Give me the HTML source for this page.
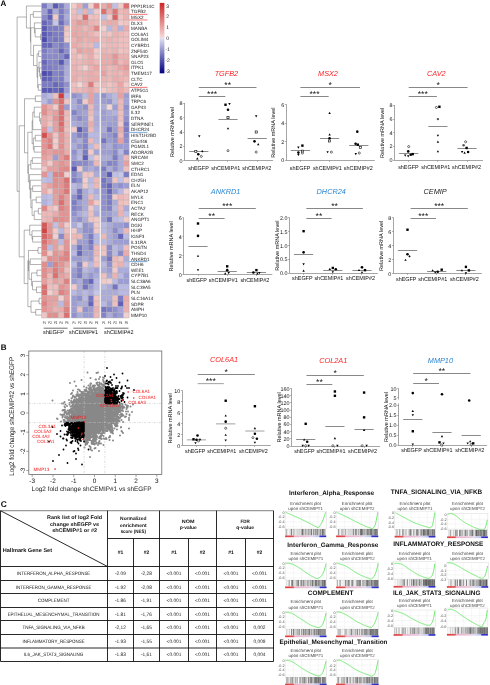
<!DOCTYPE html>
<html><head><meta charset="utf-8"><title>Figure</title>
<style>html,body{margin:0;padding:0;background:#fff;}svg{display:block;}</style></head>
<body><svg width="490" height="685" viewBox="0 0 490 685" text-rendering="geometricPrecision" font-family="'Liberation Sans', Arial, sans-serif">
<rect width="490" height="685" fill="#fff"/>
<g>
<rect x="41.6" y="3.2" width="5.6" height="5.62" fill="#7b7bc6"/>
<rect x="47.2" y="3.2" width="5.6" height="5.62" fill="#ababdc"/>
<rect x="52.8" y="3.2" width="5.6" height="5.62" fill="#5959b6"/>
<rect x="58.4" y="3.2" width="5.6" height="5.62" fill="#7b7bc6"/>
<rect x="64" y="3.2" width="5.6" height="5.62" fill="#ababdc"/>
<rect x="71.35" y="3.2" width="5.6" height="5.62" fill="#f2caca"/>
<rect x="76.95" y="3.2" width="5.6" height="5.62" fill="#ebabab"/>
<rect x="82.55" y="3.2" width="5.6" height="5.62" fill="#9d9dd6"/>
<rect x="88.15" y="3.2" width="5.6" height="5.62" fill="#f3d0d0"/>
<rect x="93.75" y="3.2" width="5.6" height="5.62" fill="#e28181"/>
<rect x="101.1" y="3.2" width="5.6" height="5.62" fill="#ebabab"/>
<rect x="106.7" y="3.2" width="5.6" height="5.62" fill="#e69393"/>
<rect x="112.3" y="3.2" width="5.6" height="5.62" fill="#c0c0e6"/>
<rect x="117.9" y="3.2" width="5.6" height="5.62" fill="#f2caca"/>
<rect x="123.5" y="3.2" width="5.6" height="5.62" fill="#dd6f6f"/>
<rect x="41.6" y="8.82" width="5.6" height="5.62" fill="#9d9dd6"/>
<rect x="47.2" y="8.82" width="5.6" height="5.62" fill="#6666bc"/>
<rect x="52.8" y="8.82" width="5.6" height="5.62" fill="#ababdc"/>
<rect x="58.4" y="8.82" width="5.6" height="5.62" fill="#7b7bc6"/>
<rect x="64" y="8.82" width="5.6" height="5.62" fill="#9d9dd6"/>
<rect x="71.35" y="8.82" width="5.6" height="5.62" fill="#efbebe"/>
<rect x="76.95" y="8.82" width="5.6" height="5.62" fill="#c0c0e6"/>
<rect x="82.55" y="8.82" width="5.6" height="5.62" fill="#ecb2b2"/>
<rect x="88.15" y="8.82" width="5.6" height="5.62" fill="#b9b9e3"/>
<rect x="93.75" y="8.82" width="5.6" height="5.62" fill="#f2caca"/>
<rect x="101.1" y="8.82" width="5.6" height="5.62" fill="#dd6f6f"/>
<rect x="106.7" y="8.82" width="5.6" height="5.62" fill="#ebabab"/>
<rect x="112.3" y="8.82" width="5.6" height="5.62" fill="#df7575"/>
<rect x="117.9" y="8.82" width="5.6" height="5.62" fill="#eeb8b8"/>
<rect x="123.5" y="8.82" width="5.6" height="5.62" fill="#ecb2b2"/>
<rect x="41.6" y="14.44" width="5.6" height="5.62" fill="#8989cc"/>
<rect x="47.2" y="14.44" width="5.6" height="5.62" fill="#6060b9"/>
<rect x="52.8" y="14.44" width="5.6" height="5.62" fill="#f2caca"/>
<rect x="58.4" y="14.44" width="5.6" height="5.62" fill="#7b7bc6"/>
<rect x="64" y="14.44" width="5.6" height="5.62" fill="#ababdc"/>
<rect x="71.35" y="14.44" width="5.6" height="5.62" fill="#eeb8b8"/>
<rect x="76.95" y="14.44" width="5.6" height="5.62" fill="#efbebe"/>
<rect x="82.55" y="14.44" width="5.6" height="5.62" fill="#dd6f6f"/>
<rect x="88.15" y="14.44" width="5.6" height="5.62" fill="#efbebe"/>
<rect x="93.75" y="14.44" width="5.6" height="5.62" fill="#efbebe"/>
<rect x="101.1" y="14.44" width="5.6" height="5.62" fill="#c0c0e6"/>
<rect x="106.7" y="14.44" width="5.6" height="5.62" fill="#f2caca"/>
<rect x="112.3" y="14.44" width="5.6" height="5.62" fill="#db6363"/>
<rect x="117.9" y="14.44" width="5.6" height="5.62" fill="#f1c4c4"/>
<rect x="123.5" y="14.44" width="5.6" height="5.62" fill="#ecb2b2"/>
<rect x="41.6" y="20.06" width="5.6" height="5.62" fill="#6666bc"/>
<rect x="47.2" y="20.06" width="5.6" height="5.62" fill="#7b7bc6"/>
<rect x="52.8" y="20.06" width="5.6" height="5.62" fill="#c7c7e9"/>
<rect x="58.4" y="20.06" width="5.6" height="5.62" fill="#6d6dc0"/>
<rect x="64" y="20.06" width="5.6" height="5.62" fill="#9d9dd6"/>
<rect x="71.35" y="20.06" width="5.6" height="5.62" fill="#ebabab"/>
<rect x="76.95" y="20.06" width="5.6" height="5.62" fill="#e79999"/>
<rect x="82.55" y="20.06" width="5.6" height="5.62" fill="#e89f9f"/>
<rect x="88.15" y="20.06" width="5.6" height="5.62" fill="#ecb2b2"/>
<rect x="93.75" y="20.06" width="5.6" height="5.62" fill="#eeb8b8"/>
<rect x="101.1" y="20.06" width="5.6" height="5.62" fill="#ecb2b2"/>
<rect x="106.7" y="20.06" width="5.6" height="5.62" fill="#ebabab"/>
<rect x="112.3" y="20.06" width="5.6" height="5.62" fill="#ebabab"/>
<rect x="117.9" y="20.06" width="5.6" height="5.62" fill="#f2caca"/>
<rect x="123.5" y="20.06" width="5.6" height="5.62" fill="#f1c4c4"/>
<rect x="41.6" y="25.68" width="5.6" height="5.62" fill="#5959b6"/>
<rect x="47.2" y="25.68" width="5.6" height="5.62" fill="#7b7bc6"/>
<rect x="52.8" y="25.68" width="5.6" height="5.62" fill="#7b7bc6"/>
<rect x="58.4" y="25.68" width="5.6" height="5.62" fill="#8282c9"/>
<rect x="64" y="25.68" width="5.6" height="5.62" fill="#efbebe"/>
<rect x="71.35" y="25.68" width="5.6" height="5.62" fill="#ebabab"/>
<rect x="76.95" y="25.68" width="5.6" height="5.62" fill="#ebabab"/>
<rect x="82.55" y="25.68" width="5.6" height="5.62" fill="#eeb8b8"/>
<rect x="88.15" y="25.68" width="5.6" height="5.62" fill="#ebabab"/>
<rect x="93.75" y="25.68" width="5.6" height="5.62" fill="#e38787"/>
<rect x="101.1" y="25.68" width="5.6" height="5.62" fill="#f3d0d0"/>
<rect x="106.7" y="25.68" width="5.6" height="5.62" fill="#b9b9e3"/>
<rect x="112.3" y="25.68" width="5.6" height="5.62" fill="#ecb2b2"/>
<rect x="117.9" y="25.68" width="5.6" height="5.62" fill="#b2b2e0"/>
<rect x="123.5" y="25.68" width="5.6" height="5.62" fill="#ebabab"/>
<rect x="41.6" y="31.3" width="5.6" height="5.62" fill="#5959b6"/>
<rect x="47.2" y="31.3" width="5.6" height="5.62" fill="#6d6dc0"/>
<rect x="52.8" y="31.3" width="5.6" height="5.62" fill="#7b7bc6"/>
<rect x="58.4" y="31.3" width="5.6" height="5.62" fill="#7b7bc6"/>
<rect x="64" y="31.3" width="5.6" height="5.62" fill="#f2caca"/>
<rect x="71.35" y="31.3" width="5.6" height="5.62" fill="#eaa5a5"/>
<rect x="76.95" y="31.3" width="5.6" height="5.62" fill="#ebabab"/>
<rect x="82.55" y="31.3" width="5.6" height="5.62" fill="#ebabab"/>
<rect x="88.15" y="31.3" width="5.6" height="5.62" fill="#ecb2b2"/>
<rect x="93.75" y="31.3" width="5.6" height="5.62" fill="#efbebe"/>
<rect x="101.1" y="31.3" width="5.6" height="5.62" fill="#efbebe"/>
<rect x="106.7" y="31.3" width="5.6" height="5.62" fill="#f1c4c4"/>
<rect x="112.3" y="31.3" width="5.6" height="5.62" fill="#ecb2b2"/>
<rect x="117.9" y="31.3" width="5.6" height="5.62" fill="#eeb8b8"/>
<rect x="123.5" y="31.3" width="5.6" height="5.62" fill="#efbebe"/>
<rect x="41.6" y="36.92" width="5.6" height="5.62" fill="#4b4bb0"/>
<rect x="47.2" y="36.92" width="5.6" height="5.62" fill="#7b7bc6"/>
<rect x="52.8" y="36.92" width="5.6" height="5.62" fill="#7474c3"/>
<rect x="58.4" y="36.92" width="5.6" height="5.62" fill="#7b7bc6"/>
<rect x="64" y="36.92" width="5.6" height="5.62" fill="#f3d0d0"/>
<rect x="71.35" y="36.92" width="5.6" height="5.62" fill="#ecb2b2"/>
<rect x="76.95" y="36.92" width="5.6" height="5.62" fill="#eaa5a5"/>
<rect x="82.55" y="36.92" width="5.6" height="5.62" fill="#ecb2b2"/>
<rect x="88.15" y="36.92" width="5.6" height="5.62" fill="#ebabab"/>
<rect x="93.75" y="36.92" width="5.6" height="5.62" fill="#ebabab"/>
<rect x="101.1" y="36.92" width="5.6" height="5.62" fill="#eeb8b8"/>
<rect x="106.7" y="36.92" width="5.6" height="5.62" fill="#ecb2b2"/>
<rect x="112.3" y="36.92" width="5.6" height="5.62" fill="#eeb8b8"/>
<rect x="117.9" y="36.92" width="5.6" height="5.62" fill="#efbebe"/>
<rect x="123.5" y="36.92" width="5.6" height="5.62" fill="#efbebe"/>
<rect x="41.6" y="42.54" width="5.6" height="5.62" fill="#6666bc"/>
<rect x="47.2" y="42.54" width="5.6" height="5.62" fill="#6666bc"/>
<rect x="52.8" y="42.54" width="5.6" height="5.62" fill="#8989cc"/>
<rect x="58.4" y="42.54" width="5.6" height="5.62" fill="#7b7bc6"/>
<rect x="64" y="42.54" width="5.6" height="5.62" fill="#9090d0"/>
<rect x="71.35" y="42.54" width="5.6" height="5.62" fill="#ebabab"/>
<rect x="76.95" y="42.54" width="5.6" height="5.62" fill="#ecb2b2"/>
<rect x="82.55" y="42.54" width="5.6" height="5.62" fill="#eeb8b8"/>
<rect x="88.15" y="42.54" width="5.6" height="5.62" fill="#eeb8b8"/>
<rect x="93.75" y="42.54" width="5.6" height="5.62" fill="#b9b9e3"/>
<rect x="101.1" y="42.54" width="5.6" height="5.62" fill="#efbebe"/>
<rect x="106.7" y="42.54" width="5.6" height="5.62" fill="#eeb8b8"/>
<rect x="112.3" y="42.54" width="5.6" height="5.62" fill="#eeb8b8"/>
<rect x="117.9" y="42.54" width="5.6" height="5.62" fill="#efbebe"/>
<rect x="123.5" y="42.54" width="5.6" height="5.62" fill="#efbebe"/>
<rect x="41.6" y="48.16" width="5.6" height="5.62" fill="#7b7bc6"/>
<rect x="47.2" y="48.16" width="5.6" height="5.62" fill="#9090d0"/>
<rect x="52.8" y="48.16" width="5.6" height="5.62" fill="#8989cc"/>
<rect x="58.4" y="48.16" width="5.6" height="5.62" fill="#6666bc"/>
<rect x="64" y="48.16" width="5.6" height="5.62" fill="#9090d0"/>
<rect x="71.35" y="48.16" width="5.6" height="5.62" fill="#efbebe"/>
<rect x="76.95" y="48.16" width="5.6" height="5.62" fill="#e89f9f"/>
<rect x="82.55" y="48.16" width="5.6" height="5.62" fill="#ebabab"/>
<rect x="88.15" y="48.16" width="5.6" height="5.62" fill="#eaa5a5"/>
<rect x="93.75" y="48.16" width="5.6" height="5.62" fill="#f2caca"/>
<rect x="101.1" y="48.16" width="5.6" height="5.62" fill="#ecb2b2"/>
<rect x="106.7" y="48.16" width="5.6" height="5.62" fill="#eeb8b8"/>
<rect x="112.3" y="48.16" width="5.6" height="5.62" fill="#ecb2b2"/>
<rect x="117.9" y="48.16" width="5.6" height="5.62" fill="#f1c4c4"/>
<rect x="123.5" y="48.16" width="5.6" height="5.62" fill="#efbebe"/>
<rect x="41.6" y="53.78" width="5.6" height="5.62" fill="#8282c9"/>
<rect x="47.2" y="53.78" width="5.6" height="5.62" fill="#8989cc"/>
<rect x="52.8" y="53.78" width="5.6" height="5.62" fill="#8989cc"/>
<rect x="58.4" y="53.78" width="5.6" height="5.62" fill="#8989cc"/>
<rect x="64" y="53.78" width="5.6" height="5.62" fill="#6666bc"/>
<rect x="71.35" y="53.78" width="5.6" height="5.62" fill="#eeb8b8"/>
<rect x="76.95" y="53.78" width="5.6" height="5.62" fill="#f1c4c4"/>
<rect x="82.55" y="53.78" width="5.6" height="5.62" fill="#eeb8b8"/>
<rect x="88.15" y="53.78" width="5.6" height="5.62" fill="#ebabab"/>
<rect x="93.75" y="53.78" width="5.6" height="5.62" fill="#f2caca"/>
<rect x="101.1" y="53.78" width="5.6" height="5.62" fill="#ebabab"/>
<rect x="106.7" y="53.78" width="5.6" height="5.62" fill="#ebabab"/>
<rect x="112.3" y="53.78" width="5.6" height="5.62" fill="#e69393"/>
<rect x="117.9" y="53.78" width="5.6" height="5.62" fill="#ecb2b2"/>
<rect x="123.5" y="53.78" width="5.6" height="5.62" fill="#ecb2b2"/>
<rect x="41.6" y="59.4" width="5.6" height="5.62" fill="#6666bc"/>
<rect x="47.2" y="59.4" width="5.6" height="5.62" fill="#8282c9"/>
<rect x="52.8" y="59.4" width="5.6" height="5.62" fill="#8282c9"/>
<rect x="58.4" y="59.4" width="5.6" height="5.62" fill="#5959b6"/>
<rect x="64" y="59.4" width="5.6" height="5.62" fill="#9d9dd6"/>
<rect x="71.35" y="59.4" width="5.6" height="5.62" fill="#eeb8b8"/>
<rect x="76.95" y="59.4" width="5.6" height="5.62" fill="#eeb8b8"/>
<rect x="82.55" y="59.4" width="5.6" height="5.62" fill="#ecb2b2"/>
<rect x="88.15" y="59.4" width="5.6" height="5.62" fill="#ebabab"/>
<rect x="93.75" y="59.4" width="5.6" height="5.62" fill="#eeb8b8"/>
<rect x="101.1" y="59.4" width="5.6" height="5.62" fill="#ebabab"/>
<rect x="106.7" y="59.4" width="5.6" height="5.62" fill="#ebabab"/>
<rect x="112.3" y="59.4" width="5.6" height="5.62" fill="#e79999"/>
<rect x="117.9" y="59.4" width="5.6" height="5.62" fill="#eeb8b8"/>
<rect x="123.5" y="59.4" width="5.6" height="5.62" fill="#ebabab"/>
<rect x="41.6" y="65.02" width="5.6" height="5.62" fill="#7474c3"/>
<rect x="47.2" y="65.02" width="5.6" height="5.62" fill="#7b7bc6"/>
<rect x="52.8" y="65.02" width="5.6" height="5.62" fill="#8282c9"/>
<rect x="58.4" y="65.02" width="5.6" height="5.62" fill="#8989cc"/>
<rect x="64" y="65.02" width="5.6" height="5.62" fill="#ababdc"/>
<rect x="71.35" y="65.02" width="5.6" height="5.62" fill="#ecb2b2"/>
<rect x="76.95" y="65.02" width="5.6" height="5.62" fill="#efbebe"/>
<rect x="82.55" y="65.02" width="5.6" height="5.62" fill="#f3d0d0"/>
<rect x="88.15" y="65.02" width="5.6" height="5.62" fill="#ecb2b2"/>
<rect x="93.75" y="65.02" width="5.6" height="5.62" fill="#eaa5a5"/>
<rect x="101.1" y="65.02" width="5.6" height="5.62" fill="#ebabab"/>
<rect x="106.7" y="65.02" width="5.6" height="5.62" fill="#eeb8b8"/>
<rect x="112.3" y="65.02" width="5.6" height="5.62" fill="#ecb2b2"/>
<rect x="117.9" y="65.02" width="5.6" height="5.62" fill="#eaa5a5"/>
<rect x="123.5" y="65.02" width="5.6" height="5.62" fill="#e79999"/>
<rect x="41.6" y="70.64" width="5.6" height="5.62" fill="#4b4bb0"/>
<rect x="47.2" y="70.64" width="5.6" height="5.62" fill="#5959b6"/>
<rect x="52.8" y="70.64" width="5.6" height="5.62" fill="#8282c9"/>
<rect x="58.4" y="70.64" width="5.6" height="5.62" fill="#7b7bc6"/>
<rect x="64" y="70.64" width="5.6" height="5.62" fill="#ababdc"/>
<rect x="71.35" y="70.64" width="5.6" height="5.62" fill="#ecb2b2"/>
<rect x="76.95" y="70.64" width="5.6" height="5.62" fill="#ecb2b2"/>
<rect x="82.55" y="70.64" width="5.6" height="5.62" fill="#ecb2b2"/>
<rect x="88.15" y="70.64" width="5.6" height="5.62" fill="#ebabab"/>
<rect x="93.75" y="70.64" width="5.6" height="5.62" fill="#ecb2b2"/>
<rect x="101.1" y="70.64" width="5.6" height="5.62" fill="#e89f9f"/>
<rect x="106.7" y="70.64" width="5.6" height="5.62" fill="#eeb8b8"/>
<rect x="112.3" y="70.64" width="5.6" height="5.62" fill="#ecb2b2"/>
<rect x="117.9" y="70.64" width="5.6" height="5.62" fill="#eeb8b8"/>
<rect x="123.5" y="70.64" width="5.6" height="5.62" fill="#ebabab"/>
<rect x="41.6" y="76.26" width="5.6" height="5.62" fill="#6060b9"/>
<rect x="47.2" y="76.26" width="5.6" height="5.62" fill="#6666bc"/>
<rect x="52.8" y="76.26" width="5.6" height="5.62" fill="#8282c9"/>
<rect x="58.4" y="76.26" width="5.6" height="5.62" fill="#7b7bc6"/>
<rect x="64" y="76.26" width="5.6" height="5.62" fill="#b2b2e0"/>
<rect x="71.35" y="76.26" width="5.6" height="5.62" fill="#ebabab"/>
<rect x="76.95" y="76.26" width="5.6" height="5.62" fill="#eeb8b8"/>
<rect x="82.55" y="76.26" width="5.6" height="5.62" fill="#ecb2b2"/>
<rect x="88.15" y="76.26" width="5.6" height="5.62" fill="#ebabab"/>
<rect x="93.75" y="76.26" width="5.6" height="5.62" fill="#ebabab"/>
<rect x="101.1" y="76.26" width="5.6" height="5.62" fill="#ecb2b2"/>
<rect x="106.7" y="76.26" width="5.6" height="5.62" fill="#eeb8b8"/>
<rect x="112.3" y="76.26" width="5.6" height="5.62" fill="#ebabab"/>
<rect x="117.9" y="76.26" width="5.6" height="5.62" fill="#ecb2b2"/>
<rect x="123.5" y="76.26" width="5.6" height="5.62" fill="#eeb8b8"/>
<rect x="41.6" y="81.88" width="5.6" height="5.62" fill="#7b7bc6"/>
<rect x="47.2" y="81.88" width="5.6" height="5.62" fill="#7b7bc6"/>
<rect x="52.8" y="81.88" width="5.6" height="5.62" fill="#6666bc"/>
<rect x="58.4" y="81.88" width="5.6" height="5.62" fill="#7474c3"/>
<rect x="64" y="81.88" width="5.6" height="5.62" fill="#9090d0"/>
<rect x="71.35" y="81.88" width="5.6" height="5.62" fill="#efbebe"/>
<rect x="76.95" y="81.88" width="5.6" height="5.62" fill="#f5d6d6"/>
<rect x="82.55" y="81.88" width="5.6" height="5.62" fill="#eeb8b8"/>
<rect x="88.15" y="81.88" width="5.6" height="5.62" fill="#e07b7b"/>
<rect x="93.75" y="81.88" width="5.6" height="5.62" fill="#f1c4c4"/>
<rect x="101.1" y="81.88" width="5.6" height="5.62" fill="#eeb8b8"/>
<rect x="106.7" y="81.88" width="5.6" height="5.62" fill="#f1c4c4"/>
<rect x="112.3" y="81.88" width="5.6" height="5.62" fill="#eeb8b8"/>
<rect x="117.9" y="81.88" width="5.6" height="5.62" fill="#eaa5a5"/>
<rect x="123.5" y="81.88" width="5.6" height="5.62" fill="#f2caca"/>
<rect x="41.6" y="87.5" width="5.6" height="5.62" fill="#5959b6"/>
<rect x="47.2" y="87.5" width="5.6" height="5.62" fill="#5959b6"/>
<rect x="52.8" y="87.5" width="5.6" height="5.62" fill="#6666bc"/>
<rect x="58.4" y="87.5" width="5.6" height="5.62" fill="#5959b6"/>
<rect x="64" y="87.5" width="5.6" height="5.62" fill="#9d9dd6"/>
<rect x="71.35" y="87.5" width="5.6" height="5.62" fill="#eeb8b8"/>
<rect x="76.95" y="87.5" width="5.6" height="5.62" fill="#eeb8b8"/>
<rect x="82.55" y="87.5" width="5.6" height="5.62" fill="#ecb2b2"/>
<rect x="88.15" y="87.5" width="5.6" height="5.62" fill="#eaa5a5"/>
<rect x="93.75" y="87.5" width="5.6" height="5.62" fill="#eeb8b8"/>
<rect x="101.1" y="87.5" width="5.6" height="5.62" fill="#f2caca"/>
<rect x="106.7" y="87.5" width="5.6" height="5.62" fill="#efbebe"/>
<rect x="112.3" y="87.5" width="5.6" height="5.62" fill="#eeb8b8"/>
<rect x="117.9" y="87.5" width="5.6" height="5.62" fill="#ebabab"/>
<rect x="123.5" y="87.5" width="5.6" height="5.62" fill="#eeb8b8"/>
<rect x="41.6" y="93.12" width="5.6" height="5.62" fill="#ababdc"/>
<rect x="47.2" y="93.12" width="5.6" height="5.62" fill="#b9b9e3"/>
<rect x="52.8" y="93.12" width="5.6" height="5.62" fill="#efbebe"/>
<rect x="58.4" y="93.12" width="5.6" height="5.62" fill="#d23e3e"/>
<rect x="64" y="93.12" width="5.6" height="5.62" fill="#b9b9e3"/>
<rect x="71.35" y="93.12" width="5.6" height="5.62" fill="#9090d0"/>
<rect x="76.95" y="93.12" width="5.6" height="5.62" fill="#9d9dd6"/>
<rect x="82.55" y="93.12" width="5.6" height="5.62" fill="#b9b9e3"/>
<rect x="88.15" y="93.12" width="5.6" height="5.62" fill="#e89f9f"/>
<rect x="93.75" y="93.12" width="5.6" height="5.62" fill="#ababdc"/>
<rect x="101.1" y="93.12" width="5.6" height="5.62" fill="#9090d0"/>
<rect x="106.7" y="93.12" width="5.6" height="5.62" fill="#ababdc"/>
<rect x="112.3" y="93.12" width="5.6" height="5.62" fill="#b9b9e3"/>
<rect x="117.9" y="93.12" width="5.6" height="5.62" fill="#e89f9f"/>
<rect x="123.5" y="93.12" width="5.6" height="5.62" fill="#9d9dd6"/>
<rect x="41.6" y="98.74" width="5.6" height="5.62" fill="#b9b9e3"/>
<rect x="47.2" y="98.74" width="5.6" height="5.62" fill="#9d9dd6"/>
<rect x="52.8" y="98.74" width="5.6" height="5.62" fill="#e69393"/>
<rect x="58.4" y="98.74" width="5.6" height="5.62" fill="#dd6f6f"/>
<rect x="64" y="98.74" width="5.6" height="5.62" fill="#f1c4c4"/>
<rect x="71.35" y="98.74" width="5.6" height="5.62" fill="#ababdc"/>
<rect x="76.95" y="98.74" width="5.6" height="5.62" fill="#8989cc"/>
<rect x="82.55" y="98.74" width="5.6" height="5.62" fill="#f2caca"/>
<rect x="88.15" y="98.74" width="5.6" height="5.62" fill="#e89f9f"/>
<rect x="93.75" y="98.74" width="5.6" height="5.62" fill="#ababdc"/>
<rect x="101.1" y="98.74" width="5.6" height="5.62" fill="#9d9dd6"/>
<rect x="106.7" y="98.74" width="5.6" height="5.62" fill="#9696d3"/>
<rect x="112.3" y="98.74" width="5.6" height="5.62" fill="#b9b9e3"/>
<rect x="117.9" y="98.74" width="5.6" height="5.62" fill="#eeb8b8"/>
<rect x="123.5" y="98.74" width="5.6" height="5.62" fill="#a4a4d9"/>
<rect x="41.6" y="104.36" width="5.6" height="5.62" fill="#e69393"/>
<rect x="47.2" y="104.36" width="5.6" height="5.62" fill="#ebabab"/>
<rect x="52.8" y="104.36" width="5.6" height="5.62" fill="#f2caca"/>
<rect x="58.4" y="104.36" width="5.6" height="5.62" fill="#df7575"/>
<rect x="64" y="104.36" width="5.6" height="5.62" fill="#9d9dd6"/>
<rect x="71.35" y="104.36" width="5.6" height="5.62" fill="#ababdc"/>
<rect x="76.95" y="104.36" width="5.6" height="5.62" fill="#9d9dd6"/>
<rect x="82.55" y="104.36" width="5.6" height="5.62" fill="#9090d0"/>
<rect x="88.15" y="104.36" width="5.6" height="5.62" fill="#eeb8b8"/>
<rect x="93.75" y="104.36" width="5.6" height="5.62" fill="#ababdc"/>
<rect x="101.1" y="104.36" width="5.6" height="5.62" fill="#ababdc"/>
<rect x="106.7" y="104.36" width="5.6" height="5.62" fill="#f5d6d6"/>
<rect x="112.3" y="104.36" width="5.6" height="5.62" fill="#9d9dd6"/>
<rect x="117.9" y="104.36" width="5.6" height="5.62" fill="#eeb8b8"/>
<rect x="123.5" y="104.36" width="5.6" height="5.62" fill="#9090d0"/>
<rect x="41.6" y="109.98" width="5.6" height="5.62" fill="#e48d8d"/>
<rect x="47.2" y="109.98" width="5.6" height="5.62" fill="#ebabab"/>
<rect x="52.8" y="109.98" width="5.6" height="5.62" fill="#e89f9f"/>
<rect x="58.4" y="109.98" width="5.6" height="5.62" fill="#dd6f6f"/>
<rect x="64" y="109.98" width="5.6" height="5.62" fill="#eeb8b8"/>
<rect x="71.35" y="109.98" width="5.6" height="5.62" fill="#8282c9"/>
<rect x="76.95" y="109.98" width="5.6" height="5.62" fill="#9d9dd6"/>
<rect x="82.55" y="109.98" width="5.6" height="5.62" fill="#a4a4d9"/>
<rect x="88.15" y="109.98" width="5.6" height="5.62" fill="#eeb8b8"/>
<rect x="93.75" y="109.98" width="5.6" height="5.62" fill="#b2b2e0"/>
<rect x="101.1" y="109.98" width="5.6" height="5.62" fill="#9d9dd6"/>
<rect x="106.7" y="109.98" width="5.6" height="5.62" fill="#ababdc"/>
<rect x="112.3" y="109.98" width="5.6" height="5.62" fill="#b2b2e0"/>
<rect x="117.9" y="109.98" width="5.6" height="5.62" fill="#efbebe"/>
<rect x="123.5" y="109.98" width="5.6" height="5.62" fill="#9d9dd6"/>
<rect x="41.6" y="115.6" width="5.6" height="5.62" fill="#ebabab"/>
<rect x="47.2" y="115.6" width="5.6" height="5.62" fill="#eeb8b8"/>
<rect x="52.8" y="115.6" width="5.6" height="5.62" fill="#e69393"/>
<rect x="58.4" y="115.6" width="5.6" height="5.62" fill="#dd6f6f"/>
<rect x="64" y="115.6" width="5.6" height="5.62" fill="#efbebe"/>
<rect x="71.35" y="115.6" width="5.6" height="5.62" fill="#9d9dd6"/>
<rect x="76.95" y="115.6" width="5.6" height="5.62" fill="#8989cc"/>
<rect x="82.55" y="115.6" width="5.6" height="5.62" fill="#9d9dd6"/>
<rect x="88.15" y="115.6" width="5.6" height="5.62" fill="#f1c4c4"/>
<rect x="93.75" y="115.6" width="5.6" height="5.62" fill="#ababdc"/>
<rect x="101.1" y="115.6" width="5.6" height="5.62" fill="#9d9dd6"/>
<rect x="106.7" y="115.6" width="5.6" height="5.62" fill="#a4a4d9"/>
<rect x="112.3" y="115.6" width="5.6" height="5.62" fill="#9d9dd6"/>
<rect x="117.9" y="115.6" width="5.6" height="5.62" fill="#efbebe"/>
<rect x="123.5" y="115.6" width="5.6" height="5.62" fill="#9090d0"/>
<rect x="41.6" y="121.22" width="5.6" height="5.62" fill="#ebabab"/>
<rect x="47.2" y="121.22" width="5.6" height="5.62" fill="#f1c4c4"/>
<rect x="52.8" y="121.22" width="5.6" height="5.62" fill="#e89f9f"/>
<rect x="58.4" y="121.22" width="5.6" height="5.62" fill="#dc6969"/>
<rect x="64" y="121.22" width="5.6" height="5.62" fill="#eeb8b8"/>
<rect x="71.35" y="121.22" width="5.6" height="5.62" fill="#ababdc"/>
<rect x="76.95" y="121.22" width="5.6" height="5.62" fill="#a4a4d9"/>
<rect x="82.55" y="121.22" width="5.6" height="5.62" fill="#9d9dd6"/>
<rect x="88.15" y="121.22" width="5.6" height="5.62" fill="#ebabab"/>
<rect x="93.75" y="121.22" width="5.6" height="5.62" fill="#ababdc"/>
<rect x="101.1" y="121.22" width="5.6" height="5.62" fill="#a4a4d9"/>
<rect x="106.7" y="121.22" width="5.6" height="5.62" fill="#9d9dd6"/>
<rect x="112.3" y="121.22" width="5.6" height="5.62" fill="#9d9dd6"/>
<rect x="117.9" y="121.22" width="5.6" height="5.62" fill="#f2caca"/>
<rect x="123.5" y="121.22" width="5.6" height="5.62" fill="#7b7bc6"/>
<rect x="41.6" y="126.84" width="5.6" height="5.62" fill="#e69393"/>
<rect x="47.2" y="126.84" width="5.6" height="5.62" fill="#c0c0e6"/>
<rect x="52.8" y="126.84" width="5.6" height="5.62" fill="#e89f9f"/>
<rect x="58.4" y="126.84" width="5.6" height="5.62" fill="#e07b7b"/>
<rect x="64" y="126.84" width="5.6" height="5.62" fill="#efbebe"/>
<rect x="71.35" y="126.84" width="5.6" height="5.62" fill="#f2caca"/>
<rect x="76.95" y="126.84" width="5.6" height="5.62" fill="#5959b6"/>
<rect x="82.55" y="126.84" width="5.6" height="5.62" fill="#8989cc"/>
<rect x="88.15" y="126.84" width="5.6" height="5.62" fill="#eeb8b8"/>
<rect x="93.75" y="126.84" width="5.6" height="5.62" fill="#b2b2e0"/>
<rect x="101.1" y="126.84" width="5.6" height="5.62" fill="#ababdc"/>
<rect x="106.7" y="126.84" width="5.6" height="5.62" fill="#7474c3"/>
<rect x="112.3" y="126.84" width="5.6" height="5.62" fill="#9d9dd6"/>
<rect x="117.9" y="126.84" width="5.6" height="5.62" fill="#ebabab"/>
<rect x="123.5" y="126.84" width="5.6" height="5.62" fill="#7b7bc6"/>
<rect x="41.6" y="132.46" width="5.6" height="5.62" fill="#d75050"/>
<rect x="47.2" y="132.46" width="5.6" height="5.62" fill="#e69393"/>
<rect x="52.8" y="132.46" width="5.6" height="5.62" fill="#f1c4c4"/>
<rect x="58.4" y="132.46" width="5.6" height="5.62" fill="#e69393"/>
<rect x="64" y="132.46" width="5.6" height="5.62" fill="#ecb2b2"/>
<rect x="71.35" y="132.46" width="5.6" height="5.62" fill="#9d9dd6"/>
<rect x="76.95" y="132.46" width="5.6" height="5.62" fill="#8282c9"/>
<rect x="82.55" y="132.46" width="5.6" height="5.62" fill="#8282c9"/>
<rect x="88.15" y="132.46" width="5.6" height="5.62" fill="#b9b9e3"/>
<rect x="93.75" y="132.46" width="5.6" height="5.62" fill="#b9b9e3"/>
<rect x="101.1" y="132.46" width="5.6" height="5.62" fill="#9d9dd6"/>
<rect x="106.7" y="132.46" width="5.6" height="5.62" fill="#9696d3"/>
<rect x="112.3" y="132.46" width="5.6" height="5.62" fill="#8282c9"/>
<rect x="117.9" y="132.46" width="5.6" height="5.62" fill="#eeb8b8"/>
<rect x="123.5" y="132.46" width="5.6" height="5.62" fill="#8989cc"/>
<rect x="41.6" y="138.08" width="5.6" height="5.62" fill="#e69393"/>
<rect x="47.2" y="138.08" width="5.6" height="5.62" fill="#e28181"/>
<rect x="52.8" y="138.08" width="5.6" height="5.62" fill="#f3d0d0"/>
<rect x="58.4" y="138.08" width="5.6" height="5.62" fill="#e69393"/>
<rect x="64" y="138.08" width="5.6" height="5.62" fill="#ecb2b2"/>
<rect x="71.35" y="138.08" width="5.6" height="5.62" fill="#9d9dd6"/>
<rect x="76.95" y="138.08" width="5.6" height="5.62" fill="#ababdc"/>
<rect x="82.55" y="138.08" width="5.6" height="5.62" fill="#8989cc"/>
<rect x="88.15" y="138.08" width="5.6" height="5.62" fill="#eeb8b8"/>
<rect x="93.75" y="138.08" width="5.6" height="5.62" fill="#b9b9e3"/>
<rect x="101.1" y="138.08" width="5.6" height="5.62" fill="#7474c3"/>
<rect x="106.7" y="138.08" width="5.6" height="5.62" fill="#9d9dd6"/>
<rect x="112.3" y="138.08" width="5.6" height="5.62" fill="#9090d0"/>
<rect x="117.9" y="138.08" width="5.6" height="5.62" fill="#e89f9f"/>
<rect x="123.5" y="138.08" width="5.6" height="5.62" fill="#9090d0"/>
<rect x="41.6" y="143.7" width="5.6" height="5.62" fill="#e69393"/>
<rect x="47.2" y="143.7" width="5.6" height="5.62" fill="#df7575"/>
<rect x="52.8" y="143.7" width="5.6" height="5.62" fill="#f2caca"/>
<rect x="58.4" y="143.7" width="5.6" height="5.62" fill="#e48d8d"/>
<rect x="64" y="143.7" width="5.6" height="5.62" fill="#ecb2b2"/>
<rect x="71.35" y="143.7" width="5.6" height="5.62" fill="#ababdc"/>
<rect x="76.95" y="143.7" width="5.6" height="5.62" fill="#9696d3"/>
<rect x="82.55" y="143.7" width="5.6" height="5.62" fill="#8282c9"/>
<rect x="88.15" y="143.7" width="5.6" height="5.62" fill="#b9b9e3"/>
<rect x="93.75" y="143.7" width="5.6" height="5.62" fill="#efbebe"/>
<rect x="101.1" y="143.7" width="5.6" height="5.62" fill="#9d9dd6"/>
<rect x="106.7" y="143.7" width="5.6" height="5.62" fill="#ababdc"/>
<rect x="112.3" y="143.7" width="5.6" height="5.62" fill="#9090d0"/>
<rect x="117.9" y="143.7" width="5.6" height="5.62" fill="#9d9dd6"/>
<rect x="123.5" y="143.7" width="5.6" height="5.62" fill="#9d9dd6"/>
<rect x="41.6" y="149.32" width="5.6" height="5.62" fill="#e69393"/>
<rect x="47.2" y="149.32" width="5.6" height="5.62" fill="#e89f9f"/>
<rect x="52.8" y="149.32" width="5.6" height="5.62" fill="#e69393"/>
<rect x="58.4" y="149.32" width="5.6" height="5.62" fill="#e69393"/>
<rect x="64" y="149.32" width="5.6" height="5.62" fill="#ebabab"/>
<rect x="71.35" y="149.32" width="5.6" height="5.62" fill="#9090d0"/>
<rect x="76.95" y="149.32" width="5.6" height="5.62" fill="#b2b2e0"/>
<rect x="82.55" y="149.32" width="5.6" height="5.62" fill="#7b7bc6"/>
<rect x="88.15" y="149.32" width="5.6" height="5.62" fill="#f2caca"/>
<rect x="93.75" y="149.32" width="5.6" height="5.62" fill="#a4a4d9"/>
<rect x="101.1" y="149.32" width="5.6" height="5.62" fill="#9d9dd6"/>
<rect x="106.7" y="149.32" width="5.6" height="5.62" fill="#9d9dd6"/>
<rect x="112.3" y="149.32" width="5.6" height="5.62" fill="#8989cc"/>
<rect x="117.9" y="149.32" width="5.6" height="5.62" fill="#b9b9e3"/>
<rect x="123.5" y="149.32" width="5.6" height="5.62" fill="#8282c9"/>
<rect x="41.6" y="154.94" width="5.6" height="5.62" fill="#e89f9f"/>
<rect x="47.2" y="154.94" width="5.6" height="5.62" fill="#ebabab"/>
<rect x="52.8" y="154.94" width="5.6" height="5.62" fill="#9d9dd6"/>
<rect x="58.4" y="154.94" width="5.6" height="5.62" fill="#e79999"/>
<rect x="64" y="154.94" width="5.6" height="5.62" fill="#e07b7b"/>
<rect x="71.35" y="154.94" width="5.6" height="5.62" fill="#9d9dd6"/>
<rect x="76.95" y="154.94" width="5.6" height="5.62" fill="#b9b9e3"/>
<rect x="82.55" y="154.94" width="5.6" height="5.62" fill="#6060b9"/>
<rect x="88.15" y="154.94" width="5.6" height="5.62" fill="#c0c0e6"/>
<rect x="93.75" y="154.94" width="5.6" height="5.62" fill="#f2caca"/>
<rect x="101.1" y="154.94" width="5.6" height="5.62" fill="#ababdc"/>
<rect x="106.7" y="154.94" width="5.6" height="5.62" fill="#ababdc"/>
<rect x="112.3" y="154.94" width="5.6" height="5.62" fill="#7b7bc6"/>
<rect x="117.9" y="154.94" width="5.6" height="5.62" fill="#ababdc"/>
<rect x="123.5" y="154.94" width="5.6" height="5.62" fill="#eeb8b8"/>
<rect x="41.6" y="160.56" width="5.6" height="5.62" fill="#ebabab"/>
<rect x="47.2" y="160.56" width="5.6" height="5.62" fill="#f2caca"/>
<rect x="52.8" y="160.56" width="5.6" height="5.62" fill="#e89f9f"/>
<rect x="58.4" y="160.56" width="5.6" height="5.62" fill="#e69393"/>
<rect x="64" y="160.56" width="5.6" height="5.62" fill="#e89f9f"/>
<rect x="71.35" y="160.56" width="5.6" height="5.62" fill="#8282c9"/>
<rect x="76.95" y="160.56" width="5.6" height="5.62" fill="#8989cc"/>
<rect x="82.55" y="160.56" width="5.6" height="5.62" fill="#8989cc"/>
<rect x="88.15" y="160.56" width="5.6" height="5.62" fill="#9d9dd6"/>
<rect x="93.75" y="160.56" width="5.6" height="5.62" fill="#eeb8b8"/>
<rect x="101.1" y="160.56" width="5.6" height="5.62" fill="#9d9dd6"/>
<rect x="106.7" y="160.56" width="5.6" height="5.62" fill="#8282c9"/>
<rect x="112.3" y="160.56" width="5.6" height="5.62" fill="#8989cc"/>
<rect x="117.9" y="160.56" width="5.6" height="5.62" fill="#ababdc"/>
<rect x="123.5" y="160.56" width="5.6" height="5.62" fill="#e89f9f"/>
<rect x="41.6" y="166.18" width="5.6" height="5.62" fill="#f1c4c4"/>
<rect x="47.2" y="166.18" width="5.6" height="5.62" fill="#e89f9f"/>
<rect x="52.8" y="166.18" width="5.6" height="5.62" fill="#e89f9f"/>
<rect x="58.4" y="166.18" width="5.6" height="5.62" fill="#e48d8d"/>
<rect x="64" y="166.18" width="5.6" height="5.62" fill="#e38787"/>
<rect x="71.35" y="166.18" width="5.6" height="5.62" fill="#5959b6"/>
<rect x="76.95" y="166.18" width="5.6" height="5.62" fill="#f2caca"/>
<rect x="82.55" y="166.18" width="5.6" height="5.62" fill="#9d9dd6"/>
<rect x="88.15" y="166.18" width="5.6" height="5.62" fill="#ababdc"/>
<rect x="93.75" y="166.18" width="5.6" height="5.62" fill="#9d9dd6"/>
<rect x="101.1" y="166.18" width="5.6" height="5.62" fill="#7b7bc6"/>
<rect x="106.7" y="166.18" width="5.6" height="5.62" fill="#ababdc"/>
<rect x="112.3" y="166.18" width="5.6" height="5.62" fill="#9090d0"/>
<rect x="117.9" y="166.18" width="5.6" height="5.62" fill="#ababdc"/>
<rect x="123.5" y="166.18" width="5.6" height="5.62" fill="#efbebe"/>
<rect x="41.6" y="171.8" width="5.6" height="5.62" fill="#e69393"/>
<rect x="47.2" y="171.8" width="5.6" height="5.62" fill="#b9b9e3"/>
<rect x="52.8" y="171.8" width="5.6" height="5.62" fill="#e28181"/>
<rect x="58.4" y="171.8" width="5.6" height="5.62" fill="#e28181"/>
<rect x="64" y="171.8" width="5.6" height="5.62" fill="#f3d0d0"/>
<rect x="71.35" y="171.8" width="5.6" height="5.62" fill="#8989cc"/>
<rect x="76.95" y="171.8" width="5.6" height="5.62" fill="#a4a4d9"/>
<rect x="82.55" y="171.8" width="5.6" height="5.62" fill="#f1c4c4"/>
<rect x="88.15" y="171.8" width="5.6" height="5.62" fill="#f1c4c4"/>
<rect x="93.75" y="171.8" width="5.6" height="5.62" fill="#ababdc"/>
<rect x="101.1" y="171.8" width="5.6" height="5.62" fill="#9090d0"/>
<rect x="106.7" y="171.8" width="5.6" height="5.62" fill="#5959b6"/>
<rect x="112.3" y="171.8" width="5.6" height="5.62" fill="#c0c0e6"/>
<rect x="117.9" y="171.8" width="5.6" height="5.62" fill="#c7c7e9"/>
<rect x="123.5" y="171.8" width="5.6" height="5.62" fill="#7b7bc6"/>
<rect x="41.6" y="177.42" width="5.6" height="5.62" fill="#c0c0e6"/>
<rect x="47.2" y="177.42" width="5.6" height="5.62" fill="#b9b9e3"/>
<rect x="52.8" y="177.42" width="5.6" height="5.62" fill="#e48d8d"/>
<rect x="58.4" y="177.42" width="5.6" height="5.62" fill="#e69393"/>
<rect x="64" y="177.42" width="5.6" height="5.62" fill="#dd6f6f"/>
<rect x="71.35" y="177.42" width="5.6" height="5.62" fill="#7b7bc6"/>
<rect x="76.95" y="177.42" width="5.6" height="5.62" fill="#9090d0"/>
<rect x="82.55" y="177.42" width="5.6" height="5.62" fill="#f3d0d0"/>
<rect x="88.15" y="177.42" width="5.6" height="5.62" fill="#b9b9e3"/>
<rect x="93.75" y="177.42" width="5.6" height="5.62" fill="#eeb8b8"/>
<rect x="101.1" y="177.42" width="5.6" height="5.62" fill="#7474c3"/>
<rect x="106.7" y="177.42" width="5.6" height="5.62" fill="#9090d0"/>
<rect x="112.3" y="177.42" width="5.6" height="5.62" fill="#f1c4c4"/>
<rect x="117.9" y="177.42" width="5.6" height="5.62" fill="#c0c0e6"/>
<rect x="123.5" y="177.42" width="5.6" height="5.62" fill="#f2caca"/>
<rect x="41.6" y="183.04" width="5.6" height="5.62" fill="#ecb2b2"/>
<rect x="47.2" y="183.04" width="5.6" height="5.62" fill="#e89f9f"/>
<rect x="52.8" y="183.04" width="5.6" height="5.62" fill="#e48d8d"/>
<rect x="58.4" y="183.04" width="5.6" height="5.62" fill="#e69393"/>
<rect x="64" y="183.04" width="5.6" height="5.62" fill="#e07b7b"/>
<rect x="71.35" y="183.04" width="5.6" height="5.62" fill="#b9b9e3"/>
<rect x="76.95" y="183.04" width="5.6" height="5.62" fill="#ababdc"/>
<rect x="82.55" y="183.04" width="5.6" height="5.62" fill="#f2caca"/>
<rect x="88.15" y="183.04" width="5.6" height="5.62" fill="#c0c0e6"/>
<rect x="93.75" y="183.04" width="5.6" height="5.62" fill="#eeb8b8"/>
<rect x="101.1" y="183.04" width="5.6" height="5.62" fill="#7b7bc6"/>
<rect x="106.7" y="183.04" width="5.6" height="5.62" fill="#6666bc"/>
<rect x="112.3" y="183.04" width="5.6" height="5.62" fill="#9d9dd6"/>
<rect x="117.9" y="183.04" width="5.6" height="5.62" fill="#9090d0"/>
<rect x="123.5" y="183.04" width="5.6" height="5.62" fill="#9d9dd6"/>
<rect x="41.6" y="188.66" width="5.6" height="5.62" fill="#ebabab"/>
<rect x="47.2" y="188.66" width="5.6" height="5.62" fill="#f2caca"/>
<rect x="52.8" y="188.66" width="5.6" height="5.62" fill="#e79999"/>
<rect x="58.4" y="188.66" width="5.6" height="5.62" fill="#e69393"/>
<rect x="64" y="188.66" width="5.6" height="5.62" fill="#df7575"/>
<rect x="71.35" y="188.66" width="5.6" height="5.62" fill="#b2b2e0"/>
<rect x="76.95" y="188.66" width="5.6" height="5.62" fill="#7474c3"/>
<rect x="82.55" y="188.66" width="5.6" height="5.62" fill="#ababdc"/>
<rect x="88.15" y="188.66" width="5.6" height="5.62" fill="#c0c0e6"/>
<rect x="93.75" y="188.66" width="5.6" height="5.62" fill="#ababdc"/>
<rect x="101.1" y="188.66" width="5.6" height="5.62" fill="#9090d0"/>
<rect x="106.7" y="188.66" width="5.6" height="5.62" fill="#6666bc"/>
<rect x="112.3" y="188.66" width="5.6" height="5.62" fill="#9d9dd6"/>
<rect x="117.9" y="188.66" width="5.6" height="5.62" fill="#b9b9e3"/>
<rect x="123.5" y="188.66" width="5.6" height="5.62" fill="#f3d0d0"/>
<rect x="41.6" y="194.28" width="5.6" height="5.62" fill="#b9b9e3"/>
<rect x="47.2" y="194.28" width="5.6" height="5.62" fill="#c0c0e6"/>
<rect x="52.8" y="194.28" width="5.6" height="5.62" fill="#e89f9f"/>
<rect x="58.4" y="194.28" width="5.6" height="5.62" fill="#e28181"/>
<rect x="64" y="194.28" width="5.6" height="5.62" fill="#e89f9f"/>
<rect x="71.35" y="194.28" width="5.6" height="5.62" fill="#9090d0"/>
<rect x="76.95" y="194.28" width="5.6" height="5.62" fill="#6666bc"/>
<rect x="82.55" y="194.28" width="5.6" height="5.62" fill="#ababdc"/>
<rect x="88.15" y="194.28" width="5.6" height="5.62" fill="#eeb8b8"/>
<rect x="93.75" y="194.28" width="5.6" height="5.62" fill="#b9b9e3"/>
<rect x="101.1" y="194.28" width="5.6" height="5.62" fill="#9090d0"/>
<rect x="106.7" y="194.28" width="5.6" height="5.62" fill="#7b7bc6"/>
<rect x="112.3" y="194.28" width="5.6" height="5.62" fill="#f2caca"/>
<rect x="117.9" y="194.28" width="5.6" height="5.62" fill="#eeb8b8"/>
<rect x="123.5" y="194.28" width="5.6" height="5.62" fill="#efbebe"/>
<rect x="41.6" y="199.9" width="5.6" height="5.62" fill="#b2b2e0"/>
<rect x="47.2" y="199.9" width="5.6" height="5.62" fill="#c0c0e6"/>
<rect x="52.8" y="199.9" width="5.6" height="5.62" fill="#e89f9f"/>
<rect x="58.4" y="199.9" width="5.6" height="5.62" fill="#dd6f6f"/>
<rect x="64" y="199.9" width="5.6" height="5.62" fill="#e89f9f"/>
<rect x="71.35" y="199.9" width="5.6" height="5.62" fill="#7b7bc6"/>
<rect x="76.95" y="199.9" width="5.6" height="5.62" fill="#9d9dd6"/>
<rect x="82.55" y="199.9" width="5.6" height="5.62" fill="#ababdc"/>
<rect x="88.15" y="199.9" width="5.6" height="5.62" fill="#e89f9f"/>
<rect x="93.75" y="199.9" width="5.6" height="5.62" fill="#f2caca"/>
<rect x="101.1" y="199.9" width="5.6" height="5.62" fill="#9090d0"/>
<rect x="106.7" y="199.9" width="5.6" height="5.62" fill="#7b7bc6"/>
<rect x="112.3" y="199.9" width="5.6" height="5.62" fill="#ababdc"/>
<rect x="117.9" y="199.9" width="5.6" height="5.62" fill="#efbebe"/>
<rect x="123.5" y="199.9" width="5.6" height="5.62" fill="#f1c4c4"/>
<rect x="41.6" y="205.52" width="5.6" height="5.62" fill="#e38787"/>
<rect x="47.2" y="205.52" width="5.6" height="5.62" fill="#efbebe"/>
<rect x="52.8" y="205.52" width="5.6" height="5.62" fill="#f2caca"/>
<rect x="58.4" y="205.52" width="5.6" height="5.62" fill="#e28181"/>
<rect x="64" y="205.52" width="5.6" height="5.62" fill="#e69393"/>
<rect x="71.35" y="205.52" width="5.6" height="5.62" fill="#8282c9"/>
<rect x="76.95" y="205.52" width="5.6" height="5.62" fill="#9090d0"/>
<rect x="82.55" y="205.52" width="5.6" height="5.62" fill="#ababdc"/>
<rect x="88.15" y="205.52" width="5.6" height="5.62" fill="#f2caca"/>
<rect x="93.75" y="205.52" width="5.6" height="5.62" fill="#b9b9e3"/>
<rect x="101.1" y="205.52" width="5.6" height="5.62" fill="#9090d0"/>
<rect x="106.7" y="205.52" width="5.6" height="5.62" fill="#8282c9"/>
<rect x="112.3" y="205.52" width="5.6" height="5.62" fill="#b9b9e3"/>
<rect x="117.9" y="205.52" width="5.6" height="5.62" fill="#eeb8b8"/>
<rect x="123.5" y="205.52" width="5.6" height="5.62" fill="#ababdc"/>
<rect x="41.6" y="211.14" width="5.6" height="5.62" fill="#eeb8b8"/>
<rect x="47.2" y="211.14" width="5.6" height="5.62" fill="#eeb8b8"/>
<rect x="52.8" y="211.14" width="5.6" height="5.62" fill="#ebabab"/>
<rect x="58.4" y="211.14" width="5.6" height="5.62" fill="#e69393"/>
<rect x="64" y="211.14" width="5.6" height="5.62" fill="#e69393"/>
<rect x="71.35" y="211.14" width="5.6" height="5.62" fill="#9090d0"/>
<rect x="76.95" y="211.14" width="5.6" height="5.62" fill="#ababdc"/>
<rect x="82.55" y="211.14" width="5.6" height="5.62" fill="#b9b9e3"/>
<rect x="88.15" y="211.14" width="5.6" height="5.62" fill="#efbebe"/>
<rect x="93.75" y="211.14" width="5.6" height="5.62" fill="#ababdc"/>
<rect x="101.1" y="211.14" width="5.6" height="5.62" fill="#9d9dd6"/>
<rect x="106.7" y="211.14" width="5.6" height="5.62" fill="#9d9dd6"/>
<rect x="112.3" y="211.14" width="5.6" height="5.62" fill="#ababdc"/>
<rect x="117.9" y="211.14" width="5.6" height="5.62" fill="#ecb2b2"/>
<rect x="123.5" y="211.14" width="5.6" height="5.62" fill="#c0c0e6"/>
<rect x="41.6" y="216.76" width="5.6" height="5.62" fill="#eeb8b8"/>
<rect x="47.2" y="216.76" width="5.6" height="5.62" fill="#ecb2b2"/>
<rect x="52.8" y="216.76" width="5.6" height="5.62" fill="#e48d8d"/>
<rect x="58.4" y="216.76" width="5.6" height="5.62" fill="#e48d8d"/>
<rect x="64" y="216.76" width="5.6" height="5.62" fill="#e69393"/>
<rect x="71.35" y="216.76" width="5.6" height="5.62" fill="#9d9dd6"/>
<rect x="76.95" y="216.76" width="5.6" height="5.62" fill="#9090d0"/>
<rect x="82.55" y="216.76" width="5.6" height="5.62" fill="#ababdc"/>
<rect x="88.15" y="216.76" width="5.6" height="5.62" fill="#f1c4c4"/>
<rect x="93.75" y="216.76" width="5.6" height="5.62" fill="#f2caca"/>
<rect x="101.1" y="216.76" width="5.6" height="5.62" fill="#9d9dd6"/>
<rect x="106.7" y="216.76" width="5.6" height="5.62" fill="#7474c3"/>
<rect x="112.3" y="216.76" width="5.6" height="5.62" fill="#b9b9e3"/>
<rect x="117.9" y="216.76" width="5.6" height="5.62" fill="#c0c0e6"/>
<rect x="123.5" y="216.76" width="5.6" height="5.62" fill="#f2caca"/>
<rect x="41.6" y="222.38" width="5.6" height="5.62" fill="#d85757"/>
<rect x="47.2" y="222.38" width="5.6" height="5.62" fill="#e69393"/>
<rect x="52.8" y="222.38" width="5.6" height="5.62" fill="#c0c0e6"/>
<rect x="58.4" y="222.38" width="5.6" height="5.62" fill="#e89f9f"/>
<rect x="64" y="222.38" width="5.6" height="5.62" fill="#f2caca"/>
<rect x="71.35" y="222.38" width="5.6" height="5.62" fill="#ababdc"/>
<rect x="76.95" y="222.38" width="5.6" height="5.62" fill="#c7c7e9"/>
<rect x="82.55" y="222.38" width="5.6" height="5.62" fill="#9090d0"/>
<rect x="88.15" y="222.38" width="5.6" height="5.62" fill="#9d9dd6"/>
<rect x="93.75" y="222.38" width="5.6" height="5.62" fill="#f2caca"/>
<rect x="101.1" y="222.38" width="5.6" height="5.62" fill="#b9b9e3"/>
<rect x="106.7" y="222.38" width="5.6" height="5.62" fill="#ababdc"/>
<rect x="112.3" y="222.38" width="5.6" height="5.62" fill="#9d9dd6"/>
<rect x="117.9" y="222.38" width="5.6" height="5.62" fill="#9d9dd6"/>
<rect x="123.5" y="222.38" width="5.6" height="5.62" fill="#9090d0"/>
<rect x="41.6" y="228" width="5.6" height="5.62" fill="#d44444"/>
<rect x="47.2" y="228" width="5.6" height="5.62" fill="#e69393"/>
<rect x="52.8" y="228" width="5.6" height="5.62" fill="#f2caca"/>
<rect x="58.4" y="228" width="5.6" height="5.62" fill="#b9b9e3"/>
<rect x="64" y="228" width="5.6" height="5.62" fill="#efbebe"/>
<rect x="71.35" y="228" width="5.6" height="5.62" fill="#f2caca"/>
<rect x="76.95" y="228" width="5.6" height="5.62" fill="#ababdc"/>
<rect x="82.55" y="228" width="5.6" height="5.62" fill="#9090d0"/>
<rect x="88.15" y="228" width="5.6" height="5.62" fill="#9090d0"/>
<rect x="93.75" y="228" width="5.6" height="5.62" fill="#f2caca"/>
<rect x="101.1" y="228" width="5.6" height="5.62" fill="#b9b9e3"/>
<rect x="106.7" y="228" width="5.6" height="5.62" fill="#ababdc"/>
<rect x="112.3" y="228" width="5.6" height="5.62" fill="#8989cc"/>
<rect x="117.9" y="228" width="5.6" height="5.62" fill="#ababdc"/>
<rect x="123.5" y="228" width="5.6" height="5.62" fill="#eeb8b8"/>
<rect x="41.6" y="233.62" width="5.6" height="5.62" fill="#db6363"/>
<rect x="47.2" y="233.62" width="5.6" height="5.62" fill="#e28181"/>
<rect x="52.8" y="233.62" width="5.6" height="5.62" fill="#f3d0d0"/>
<rect x="58.4" y="233.62" width="5.6" height="5.62" fill="#8989cc"/>
<rect x="64" y="233.62" width="5.6" height="5.62" fill="#ebabab"/>
<rect x="71.35" y="233.62" width="5.6" height="5.62" fill="#eeb8b8"/>
<rect x="76.95" y="233.62" width="5.6" height="5.62" fill="#eeb8b8"/>
<rect x="82.55" y="233.62" width="5.6" height="5.62" fill="#9d9dd6"/>
<rect x="88.15" y="233.62" width="5.6" height="5.62" fill="#7b7bc6"/>
<rect x="93.75" y="233.62" width="5.6" height="5.62" fill="#b9b9e3"/>
<rect x="101.1" y="233.62" width="5.6" height="5.62" fill="#eeb8b8"/>
<rect x="106.7" y="233.62" width="5.6" height="5.62" fill="#ababdc"/>
<rect x="112.3" y="233.62" width="5.6" height="5.62" fill="#9d9dd6"/>
<rect x="117.9" y="233.62" width="5.6" height="5.62" fill="#6666bc"/>
<rect x="123.5" y="233.62" width="5.6" height="5.62" fill="#b9b9e3"/>
<rect x="41.6" y="239.24" width="5.6" height="5.62" fill="#dd6f6f"/>
<rect x="47.2" y="239.24" width="5.6" height="5.62" fill="#e69393"/>
<rect x="52.8" y="239.24" width="5.6" height="5.62" fill="#e89f9f"/>
<rect x="58.4" y="239.24" width="5.6" height="5.62" fill="#b9b9e3"/>
<rect x="64" y="239.24" width="5.6" height="5.62" fill="#e69393"/>
<rect x="71.35" y="239.24" width="5.6" height="5.62" fill="#f1c4c4"/>
<rect x="76.95" y="239.24" width="5.6" height="5.62" fill="#9d9dd6"/>
<rect x="82.55" y="239.24" width="5.6" height="5.62" fill="#9d9dd6"/>
<rect x="88.15" y="239.24" width="5.6" height="5.62" fill="#7474c3"/>
<rect x="93.75" y="239.24" width="5.6" height="5.62" fill="#b9b9e3"/>
<rect x="101.1" y="239.24" width="5.6" height="5.62" fill="#b9b9e3"/>
<rect x="106.7" y="239.24" width="5.6" height="5.62" fill="#ababdc"/>
<rect x="112.3" y="239.24" width="5.6" height="5.62" fill="#9d9dd6"/>
<rect x="117.9" y="239.24" width="5.6" height="5.62" fill="#9d9dd6"/>
<rect x="123.5" y="239.24" width="5.6" height="5.62" fill="#9d9dd6"/>
<rect x="41.6" y="244.86" width="5.6" height="5.62" fill="#e28181"/>
<rect x="47.2" y="244.86" width="5.6" height="5.62" fill="#b9b9e3"/>
<rect x="52.8" y="244.86" width="5.6" height="5.62" fill="#e89f9f"/>
<rect x="58.4" y="244.86" width="5.6" height="5.62" fill="#efbebe"/>
<rect x="64" y="244.86" width="5.6" height="5.62" fill="#e69393"/>
<rect x="71.35" y="244.86" width="5.6" height="5.62" fill="#ababdc"/>
<rect x="76.95" y="244.86" width="5.6" height="5.62" fill="#7474c3"/>
<rect x="82.55" y="244.86" width="5.6" height="5.62" fill="#9d9dd6"/>
<rect x="88.15" y="244.86" width="5.6" height="5.62" fill="#8282c9"/>
<rect x="93.75" y="244.86" width="5.6" height="5.62" fill="#eeb8b8"/>
<rect x="101.1" y="244.86" width="5.6" height="5.62" fill="#efbebe"/>
<rect x="106.7" y="244.86" width="5.6" height="5.62" fill="#8989cc"/>
<rect x="112.3" y="244.86" width="5.6" height="5.62" fill="#b9b9e3"/>
<rect x="117.9" y="244.86" width="5.6" height="5.62" fill="#ababdc"/>
<rect x="123.5" y="244.86" width="5.6" height="5.62" fill="#efbebe"/>
<rect x="41.6" y="250.48" width="5.6" height="5.62" fill="#e48d8d"/>
<rect x="47.2" y="250.48" width="5.6" height="5.62" fill="#f2caca"/>
<rect x="52.8" y="250.48" width="5.6" height="5.62" fill="#e69393"/>
<rect x="58.4" y="250.48" width="5.6" height="5.62" fill="#e89f9f"/>
<rect x="64" y="250.48" width="5.6" height="5.62" fill="#e28181"/>
<rect x="71.35" y="250.48" width="5.6" height="5.62" fill="#b9b9e3"/>
<rect x="76.95" y="250.48" width="5.6" height="5.62" fill="#6666bc"/>
<rect x="82.55" y="250.48" width="5.6" height="5.62" fill="#9d9dd6"/>
<rect x="88.15" y="250.48" width="5.6" height="5.62" fill="#9d9dd6"/>
<rect x="93.75" y="250.48" width="5.6" height="5.62" fill="#eeb8b8"/>
<rect x="101.1" y="250.48" width="5.6" height="5.62" fill="#f1c4c4"/>
<rect x="106.7" y="250.48" width="5.6" height="5.62" fill="#8989cc"/>
<rect x="112.3" y="250.48" width="5.6" height="5.62" fill="#b9b9e3"/>
<rect x="117.9" y="250.48" width="5.6" height="5.62" fill="#8989cc"/>
<rect x="123.5" y="250.48" width="5.6" height="5.62" fill="#ebabab"/>
<rect x="41.6" y="256.1" width="5.6" height="5.62" fill="#f2caca"/>
<rect x="47.2" y="256.1" width="5.6" height="5.62" fill="#e48d8d"/>
<rect x="52.8" y="256.1" width="5.6" height="5.62" fill="#e69393"/>
<rect x="58.4" y="256.1" width="5.6" height="5.62" fill="#e38787"/>
<rect x="64" y="256.1" width="5.6" height="5.62" fill="#e28181"/>
<rect x="71.35" y="256.1" width="5.6" height="5.62" fill="#9d9dd6"/>
<rect x="76.95" y="256.1" width="5.6" height="5.62" fill="#9d9dd6"/>
<rect x="82.55" y="256.1" width="5.6" height="5.62" fill="#ababdc"/>
<rect x="88.15" y="256.1" width="5.6" height="5.62" fill="#9d9dd6"/>
<rect x="93.75" y="256.1" width="5.6" height="5.62" fill="#f1c4c4"/>
<rect x="101.1" y="256.1" width="5.6" height="5.62" fill="#9d9dd6"/>
<rect x="106.7" y="256.1" width="5.6" height="5.62" fill="#7474c3"/>
<rect x="112.3" y="256.1" width="5.6" height="5.62" fill="#eeb8b8"/>
<rect x="117.9" y="256.1" width="5.6" height="5.62" fill="#f1c4c4"/>
<rect x="123.5" y="256.1" width="5.6" height="5.62" fill="#ababdc"/>
<rect x="41.6" y="261.72" width="5.6" height="5.62" fill="#e48d8d"/>
<rect x="47.2" y="261.72" width="5.6" height="5.62" fill="#9d9dd6"/>
<rect x="52.8" y="261.72" width="5.6" height="5.62" fill="#e28181"/>
<rect x="58.4" y="261.72" width="5.6" height="5.62" fill="#e69393"/>
<rect x="64" y="261.72" width="5.6" height="5.62" fill="#ebabab"/>
<rect x="71.35" y="261.72" width="5.6" height="5.62" fill="#b9b9e3"/>
<rect x="76.95" y="261.72" width="5.6" height="5.62" fill="#8282c9"/>
<rect x="82.55" y="261.72" width="5.6" height="5.62" fill="#f2caca"/>
<rect x="88.15" y="261.72" width="5.6" height="5.62" fill="#b9b9e3"/>
<rect x="93.75" y="261.72" width="5.6" height="5.62" fill="#efbebe"/>
<rect x="101.1" y="261.72" width="5.6" height="5.62" fill="#b9b9e3"/>
<rect x="106.7" y="261.72" width="5.6" height="5.62" fill="#9090d0"/>
<rect x="112.3" y="261.72" width="5.6" height="5.62" fill="#efbebe"/>
<rect x="117.9" y="261.72" width="5.6" height="5.62" fill="#ecb2b2"/>
<rect x="123.5" y="261.72" width="5.6" height="5.62" fill="#c0c0e6"/>
<rect x="41.6" y="267.34" width="5.6" height="5.62" fill="#e48d8d"/>
<rect x="47.2" y="267.34" width="5.6" height="5.62" fill="#e89f9f"/>
<rect x="52.8" y="267.34" width="5.6" height="5.62" fill="#e07b7b"/>
<rect x="58.4" y="267.34" width="5.6" height="5.62" fill="#e69393"/>
<rect x="64" y="267.34" width="5.6" height="5.62" fill="#efbebe"/>
<rect x="71.35" y="267.34" width="5.6" height="5.62" fill="#9d9dd6"/>
<rect x="76.95" y="267.34" width="5.6" height="5.62" fill="#8282c9"/>
<rect x="82.55" y="267.34" width="5.6" height="5.62" fill="#b9b9e3"/>
<rect x="88.15" y="267.34" width="5.6" height="5.62" fill="#ababdc"/>
<rect x="93.75" y="267.34" width="5.6" height="5.62" fill="#9d9dd6"/>
<rect x="101.1" y="267.34" width="5.6" height="5.62" fill="#ababdc"/>
<rect x="106.7" y="267.34" width="5.6" height="5.62" fill="#9d9dd6"/>
<rect x="112.3" y="267.34" width="5.6" height="5.62" fill="#f2caca"/>
<rect x="117.9" y="267.34" width="5.6" height="5.62" fill="#ababdc"/>
<rect x="123.5" y="267.34" width="5.6" height="5.62" fill="#ababdc"/>
<rect x="41.6" y="272.96" width="5.6" height="5.62" fill="#e48d8d"/>
<rect x="47.2" y="272.96" width="5.6" height="5.62" fill="#eeb8b8"/>
<rect x="52.8" y="272.96" width="5.6" height="5.62" fill="#dd6f6f"/>
<rect x="58.4" y="272.96" width="5.6" height="5.62" fill="#e89f9f"/>
<rect x="64" y="272.96" width="5.6" height="5.62" fill="#ebabab"/>
<rect x="71.35" y="272.96" width="5.6" height="5.62" fill="#9696d3"/>
<rect x="76.95" y="272.96" width="5.6" height="5.62" fill="#7b7bc6"/>
<rect x="82.55" y="272.96" width="5.6" height="5.62" fill="#ababdc"/>
<rect x="88.15" y="272.96" width="5.6" height="5.62" fill="#9696d3"/>
<rect x="93.75" y="272.96" width="5.6" height="5.62" fill="#ababdc"/>
<rect x="101.1" y="272.96" width="5.6" height="5.62" fill="#efbebe"/>
<rect x="106.7" y="272.96" width="5.6" height="5.62" fill="#ababdc"/>
<rect x="112.3" y="272.96" width="5.6" height="5.62" fill="#ecb2b2"/>
<rect x="117.9" y="272.96" width="5.6" height="5.62" fill="#b9b9e3"/>
<rect x="123.5" y="272.96" width="5.6" height="5.62" fill="#9d9dd6"/>
<rect x="41.6" y="278.58" width="5.6" height="5.62" fill="#e89f9f"/>
<rect x="47.2" y="278.58" width="5.6" height="5.62" fill="#eeb8b8"/>
<rect x="52.8" y="278.58" width="5.6" height="5.62" fill="#e89f9f"/>
<rect x="58.4" y="278.58" width="5.6" height="5.62" fill="#ebabab"/>
<rect x="64" y="278.58" width="5.6" height="5.62" fill="#e28181"/>
<rect x="71.35" y="278.58" width="5.6" height="5.62" fill="#9d9dd6"/>
<rect x="76.95" y="278.58" width="5.6" height="5.62" fill="#ababdc"/>
<rect x="82.55" y="278.58" width="5.6" height="5.62" fill="#8282c9"/>
<rect x="88.15" y="278.58" width="5.6" height="5.62" fill="#6666bc"/>
<rect x="93.75" y="278.58" width="5.6" height="5.62" fill="#b9b9e3"/>
<rect x="101.1" y="278.58" width="5.6" height="5.62" fill="#f2caca"/>
<rect x="106.7" y="278.58" width="5.6" height="5.62" fill="#f3d0d0"/>
<rect x="112.3" y="278.58" width="5.6" height="5.62" fill="#b9b9e3"/>
<rect x="117.9" y="278.58" width="5.6" height="5.62" fill="#9d9dd6"/>
<rect x="123.5" y="278.58" width="5.6" height="5.62" fill="#9d9dd6"/>
<rect x="41.6" y="284.2" width="5.6" height="5.62" fill="#dd6f6f"/>
<rect x="47.2" y="284.2" width="5.6" height="5.62" fill="#efbebe"/>
<rect x="52.8" y="284.2" width="5.6" height="5.62" fill="#efbebe"/>
<rect x="58.4" y="284.2" width="5.6" height="5.62" fill="#e69393"/>
<rect x="64" y="284.2" width="5.6" height="5.62" fill="#e89f9f"/>
<rect x="71.35" y="284.2" width="5.6" height="5.62" fill="#f2caca"/>
<rect x="76.95" y="284.2" width="5.6" height="5.62" fill="#ababdc"/>
<rect x="82.55" y="284.2" width="5.6" height="5.62" fill="#7474c3"/>
<rect x="88.15" y="284.2" width="5.6" height="5.62" fill="#9d9dd6"/>
<rect x="93.75" y="284.2" width="5.6" height="5.62" fill="#b9b9e3"/>
<rect x="101.1" y="284.2" width="5.6" height="5.62" fill="#b9b9e3"/>
<rect x="106.7" y="284.2" width="5.6" height="5.62" fill="#ababdc"/>
<rect x="112.3" y="284.2" width="5.6" height="5.62" fill="#7474c3"/>
<rect x="117.9" y="284.2" width="5.6" height="5.62" fill="#b9b9e3"/>
<rect x="123.5" y="284.2" width="5.6" height="5.62" fill="#b9b9e3"/>
<rect x="41.6" y="289.82" width="5.6" height="5.62" fill="#dd6f6f"/>
<rect x="47.2" y="289.82" width="5.6" height="5.62" fill="#f3d0d0"/>
<rect x="52.8" y="289.82" width="5.6" height="5.62" fill="#eeb8b8"/>
<rect x="58.4" y="289.82" width="5.6" height="5.62" fill="#e28181"/>
<rect x="64" y="289.82" width="5.6" height="5.62" fill="#e69393"/>
<rect x="71.35" y="289.82" width="5.6" height="5.62" fill="#b9b9e3"/>
<rect x="76.95" y="289.82" width="5.6" height="5.62" fill="#ababdc"/>
<rect x="82.55" y="289.82" width="5.6" height="5.62" fill="#b9b9e3"/>
<rect x="88.15" y="289.82" width="5.6" height="5.62" fill="#ababdc"/>
<rect x="93.75" y="289.82" width="5.6" height="5.62" fill="#c7c7e9"/>
<rect x="101.1" y="289.82" width="5.6" height="5.62" fill="#ababdc"/>
<rect x="106.7" y="289.82" width="5.6" height="5.62" fill="#ababdc"/>
<rect x="112.3" y="289.82" width="5.6" height="5.62" fill="#ababdc"/>
<rect x="117.9" y="289.82" width="5.6" height="5.62" fill="#b9b9e3"/>
<rect x="123.5" y="289.82" width="5.6" height="5.62" fill="#b9b9e3"/>
<rect x="41.6" y="295.44" width="5.6" height="5.62" fill="#e69393"/>
<rect x="47.2" y="295.44" width="5.6" height="5.62" fill="#e89f9f"/>
<rect x="52.8" y="295.44" width="5.6" height="5.62" fill="#e89f9f"/>
<rect x="58.4" y="295.44" width="5.6" height="5.62" fill="#f3d0d0"/>
<rect x="64" y="295.44" width="5.6" height="5.62" fill="#e89f9f"/>
<rect x="71.35" y="295.44" width="5.6" height="5.62" fill="#9d9dd6"/>
<rect x="76.95" y="295.44" width="5.6" height="5.62" fill="#9090d0"/>
<rect x="82.55" y="295.44" width="5.6" height="5.62" fill="#b9b9e3"/>
<rect x="88.15" y="295.44" width="5.6" height="5.62" fill="#7474c3"/>
<rect x="93.75" y="295.44" width="5.6" height="5.62" fill="#f1c4c4"/>
<rect x="101.1" y="295.44" width="5.6" height="5.62" fill="#ababdc"/>
<rect x="106.7" y="295.44" width="5.6" height="5.62" fill="#ababdc"/>
<rect x="112.3" y="295.44" width="5.6" height="5.62" fill="#efbebe"/>
<rect x="117.9" y="295.44" width="5.6" height="5.62" fill="#7b7bc6"/>
<rect x="123.5" y="295.44" width="5.6" height="5.62" fill="#ebabab"/>
<rect x="41.6" y="301.06" width="5.6" height="5.62" fill="#e28181"/>
<rect x="47.2" y="301.06" width="5.6" height="5.62" fill="#e89f9f"/>
<rect x="52.8" y="301.06" width="5.6" height="5.62" fill="#eaa5a5"/>
<rect x="58.4" y="301.06" width="5.6" height="5.62" fill="#b9b9e3"/>
<rect x="64" y="301.06" width="5.6" height="5.62" fill="#e69393"/>
<rect x="71.35" y="301.06" width="5.6" height="5.62" fill="#9d9dd6"/>
<rect x="76.95" y="301.06" width="5.6" height="5.62" fill="#ababdc"/>
<rect x="82.55" y="301.06" width="5.6" height="5.62" fill="#ababdc"/>
<rect x="88.15" y="301.06" width="5.6" height="5.62" fill="#6666bc"/>
<rect x="93.75" y="301.06" width="5.6" height="5.62" fill="#efbebe"/>
<rect x="101.1" y="301.06" width="5.6" height="5.62" fill="#b9b9e3"/>
<rect x="106.7" y="301.06" width="5.6" height="5.62" fill="#9d9dd6"/>
<rect x="112.3" y="301.06" width="5.6" height="5.62" fill="#efbebe"/>
<rect x="117.9" y="301.06" width="5.6" height="5.62" fill="#6060b9"/>
<rect x="123.5" y="301.06" width="5.6" height="5.62" fill="#ecb2b2"/>
<rect x="41.6" y="306.68" width="5.6" height="5.62" fill="#e69393"/>
<rect x="47.2" y="306.68" width="5.6" height="5.62" fill="#e89f9f"/>
<rect x="52.8" y="306.68" width="5.6" height="5.62" fill="#ecb2b2"/>
<rect x="58.4" y="306.68" width="5.6" height="5.62" fill="#ebabab"/>
<rect x="64" y="306.68" width="5.6" height="5.62" fill="#e28181"/>
<rect x="71.35" y="306.68" width="5.6" height="5.62" fill="#9d9dd6"/>
<rect x="76.95" y="306.68" width="5.6" height="5.62" fill="#f1c4c4"/>
<rect x="82.55" y="306.68" width="5.6" height="5.62" fill="#9090d0"/>
<rect x="88.15" y="306.68" width="5.6" height="5.62" fill="#9d9dd6"/>
<rect x="93.75" y="306.68" width="5.6" height="5.62" fill="#ecb2b2"/>
<rect x="101.1" y="306.68" width="5.6" height="5.62" fill="#7474c3"/>
<rect x="106.7" y="306.68" width="5.6" height="5.62" fill="#8282c9"/>
<rect x="112.3" y="306.68" width="5.6" height="5.62" fill="#9090d0"/>
<rect x="117.9" y="306.68" width="5.6" height="5.62" fill="#a4a4d9"/>
<rect x="123.5" y="306.68" width="5.6" height="5.62" fill="#ecb2b2"/>
<rect x="41.6" y="312.3" width="5.6" height="5.62" fill="#f1c4c4"/>
<rect x="47.2" y="312.3" width="5.6" height="5.62" fill="#e48d8d"/>
<rect x="52.8" y="312.3" width="5.6" height="5.62" fill="#e48d8d"/>
<rect x="58.4" y="312.3" width="5.6" height="5.62" fill="#eeb8b8"/>
<rect x="64" y="312.3" width="5.6" height="5.62" fill="#dd6f6f"/>
<rect x="71.35" y="312.3" width="5.6" height="5.62" fill="#9090d0"/>
<rect x="76.95" y="312.3" width="5.6" height="5.62" fill="#ababdc"/>
<rect x="82.55" y="312.3" width="5.6" height="5.62" fill="#9d9dd6"/>
<rect x="88.15" y="312.3" width="5.6" height="5.62" fill="#9d9dd6"/>
<rect x="93.75" y="312.3" width="5.6" height="5.62" fill="#eeb8b8"/>
<rect x="101.1" y="312.3" width="5.6" height="5.62" fill="#8282c9"/>
<rect x="106.7" y="312.3" width="5.6" height="5.62" fill="#ababdc"/>
<rect x="112.3" y="312.3" width="5.6" height="5.62" fill="#9090d0"/>
<rect x="117.9" y="312.3" width="5.6" height="5.62" fill="#9d9dd6"/>
<rect x="123.5" y="312.3" width="5.6" height="5.62" fill="#f3d0d0"/>
</g>
<path d="M41.6 3.2V317.92M47.2 3.2V317.92M52.8 3.2V317.92M58.4 3.2V317.92M64 3.2V317.92M69.6 3.2V317.92M41.6 3.2H69.6M41.6 8.82H69.6M41.6 14.44H69.6M41.6 20.06H69.6M41.6 25.68H69.6M41.6 31.3H69.6M41.6 36.92H69.6M41.6 42.54H69.6M41.6 48.16H69.6M41.6 53.78H69.6M41.6 59.4H69.6M41.6 65.02H69.6M41.6 70.64H69.6M41.6 76.26H69.6M41.6 81.88H69.6M41.6 87.5H69.6M41.6 93.12H69.6M41.6 98.74H69.6M41.6 104.36H69.6M41.6 109.98H69.6M41.6 115.6H69.6M41.6 121.22H69.6M41.6 126.84H69.6M41.6 132.46H69.6M41.6 138.08H69.6M41.6 143.7H69.6M41.6 149.32H69.6M41.6 154.94H69.6M41.6 160.56H69.6M41.6 166.18H69.6M41.6 171.8H69.6M41.6 177.42H69.6M41.6 183.04H69.6M41.6 188.66H69.6M41.6 194.28H69.6M41.6 199.9H69.6M41.6 205.52H69.6M41.6 211.14H69.6M41.6 216.76H69.6M41.6 222.38H69.6M41.6 228H69.6M41.6 233.62H69.6M41.6 239.24H69.6M41.6 244.86H69.6M41.6 250.48H69.6M41.6 256.1H69.6M41.6 261.72H69.6M41.6 267.34H69.6M41.6 272.96H69.6M41.6 278.58H69.6M41.6 284.2H69.6M41.6 289.82H69.6M41.6 295.44H69.6M41.6 301.06H69.6M41.6 306.68H69.6M41.6 312.3H69.6M41.6 317.92H69.6M71.35 3.2V317.92M76.95 3.2V317.92M82.55 3.2V317.92M88.15 3.2V317.92M93.75 3.2V317.92M99.35 3.2V317.92M71.35 3.2H99.35M71.35 8.82H99.35M71.35 14.44H99.35M71.35 20.06H99.35M71.35 25.68H99.35M71.35 31.3H99.35M71.35 36.92H99.35M71.35 42.54H99.35M71.35 48.16H99.35M71.35 53.78H99.35M71.35 59.4H99.35M71.35 65.02H99.35M71.35 70.64H99.35M71.35 76.26H99.35M71.35 81.88H99.35M71.35 87.5H99.35M71.35 93.12H99.35M71.35 98.74H99.35M71.35 104.36H99.35M71.35 109.98H99.35M71.35 115.6H99.35M71.35 121.22H99.35M71.35 126.84H99.35M71.35 132.46H99.35M71.35 138.08H99.35M71.35 143.7H99.35M71.35 149.32H99.35M71.35 154.94H99.35M71.35 160.56H99.35M71.35 166.18H99.35M71.35 171.8H99.35M71.35 177.42H99.35M71.35 183.04H99.35M71.35 188.66H99.35M71.35 194.28H99.35M71.35 199.9H99.35M71.35 205.52H99.35M71.35 211.14H99.35M71.35 216.76H99.35M71.35 222.38H99.35M71.35 228H99.35M71.35 233.62H99.35M71.35 239.24H99.35M71.35 244.86H99.35M71.35 250.48H99.35M71.35 256.1H99.35M71.35 261.72H99.35M71.35 267.34H99.35M71.35 272.96H99.35M71.35 278.58H99.35M71.35 284.2H99.35M71.35 289.82H99.35M71.35 295.44H99.35M71.35 301.06H99.35M71.35 306.68H99.35M71.35 312.3H99.35M71.35 317.92H99.35M101.1 3.2V317.92M106.7 3.2V317.92M112.3 3.2V317.92M117.9 3.2V317.92M123.5 3.2V317.92M129.1 3.2V317.92M101.1 3.2H129.1M101.1 8.82H129.1M101.1 14.44H129.1M101.1 20.06H129.1M101.1 25.68H129.1M101.1 31.3H129.1M101.1 36.92H129.1M101.1 42.54H129.1M101.1 48.16H129.1M101.1 53.78H129.1M101.1 59.4H129.1M101.1 65.02H129.1M101.1 70.64H129.1M101.1 76.26H129.1M101.1 81.88H129.1M101.1 87.5H129.1M101.1 93.12H129.1M101.1 98.74H129.1M101.1 104.36H129.1M101.1 109.98H129.1M101.1 115.6H129.1M101.1 121.22H129.1M101.1 126.84H129.1M101.1 132.46H129.1M101.1 138.08H129.1M101.1 143.7H129.1M101.1 149.32H129.1M101.1 154.94H129.1M101.1 160.56H129.1M101.1 166.18H129.1M101.1 171.8H129.1M101.1 177.42H129.1M101.1 183.04H129.1M101.1 188.66H129.1M101.1 194.28H129.1M101.1 199.9H129.1M101.1 205.52H129.1M101.1 211.14H129.1M101.1 216.76H129.1M101.1 222.38H129.1M101.1 228H129.1M101.1 233.62H129.1M101.1 239.24H129.1M101.1 244.86H129.1M101.1 250.48H129.1M101.1 256.1H129.1M101.1 261.72H129.1M101.1 267.34H129.1M101.1 272.96H129.1M101.1 278.58H129.1M101.1 284.2H129.1M101.1 289.82H129.1M101.1 295.44H129.1M101.1 301.06H129.1M101.1 306.68H129.1M101.1 312.3H129.1M101.1 317.92H129.1" stroke="#a8a8a8" stroke-width="0.45" fill="none"/>
<path d="M41.3 11.63H33.3V17.25H41.3M41.3 34.11H40.6V39.73H41.3M41.3 28.49H35.13V36.92H40.6M41.3 22.87H34.4V32.7H35.13M41.3 73.45H40.6V79.07H41.3M41.3 67.83H39.64V76.26H40.6M41.3 62.21H39.04V72.05H39.64M41.3 50.97H38.65V56.59H41.3M41.3 84.69H38.24V90.31H41.3M39.04 67.13H37.64V87.5H38.24M38.65 53.78H37.04V77.31H37.64M41.3 45.35H33.5V65.55H37.04M41.3 118.41H40.6V124.03H41.3M41.3 112.79H39.62V121.22H40.6M41.3 208.33H38.33V213.95H41.3M41.3 197.09H36.2V202.71H41.3M41.3 95.93H35.36V101.55H41.3M41.3 135.27H35.31V140.89H41.3M41.3 107.17H34.26V117H39.62M38.33 211.14H34.21V219.57H41.3M41.3 146.51H34.1V152.13H41.3M35.31 138.08H33.37V149.32H34.1M34.26 112.09H32.74V129.65H41.3M32.74 120.87H32.14V143.7H33.37M41.3 185.85H32.64V191.47H41.3M41.3 157.75H32.31V163.37H41.3M36.2 199.9H32.08V215.35H34.21M32.64 188.66H30.88V207.63H32.08M32.31 160.56H30.82V168.99H41.3M41.3 180.23H30.28V198.14H30.88M41.3 174.61H29.46V189.19H30.28M30.82 164.77H28.39V181.9H29.46M32.14 132.28H27.79V173.34H28.39M35.36 98.74H24.5V152.81H27.79M41.3 298.25H39.05V303.87H41.3M41.3 247.67H38.03V253.29H41.3M41.3 270.15H36.96V275.77H41.3M41.3 287.01H36.51V292.63H41.3M41.3 309.49H35.7V315.11H41.3M41.3 236.43H32.63V242.05H41.3M41.3 281.39H32.53V289.82H36.51M41.3 230.81H32.03V239.24H32.63M36.96 272.96H31.55V285.61H32.53M39.05 301.06H31V312.3H35.7M41.3 258.91H30.21V264.53H41.3M41.3 225.19H29.72V235.03H32.03M30.21 261.72H29.08V279.28H31.55M38.03 250.48H28.48V270.5H29.08M28.48 260.49H27.88V306.68H31M29.72 230.11H24.2V283.59H27.88M34.4 27.79H30.8V55.45H33.5M33.3 14.44H30.4V41.62H30.8M41.3 6.01H26.4V28.03H30.4M24.5 125.78H19.2V256.85H24.2M26.4 17.02H17.1V191.31H19.2" stroke="#555" stroke-width="0.45" fill="none"/>
<text x="131" y="7.65" font-size="4.6" fill="#222">PPP1R14C</text>
<text x="131" y="13.27" font-size="4.6" fill="#222">TGFB2</text>
<text x="131" y="18.89" font-size="4.6" fill="#222">MSX2</text>
<text x="131" y="24.51" font-size="4.6" fill="#222">DLX3</text>
<text x="131" y="30.13" font-size="4.6" fill="#222">MANBA</text>
<text x="131" y="35.75" font-size="4.6" fill="#222">COL6A1</text>
<text x="131" y="41.37" font-size="4.6" fill="#222">GOLIM4</text>
<text x="131" y="46.99" font-size="4.6" fill="#222">CYBRD1</text>
<text x="131" y="52.61" font-size="4.6" fill="#222">ZNF540</text>
<text x="131" y="58.23" font-size="4.6" fill="#222">SNAP23</text>
<text x="131" y="63.85" font-size="4.6" fill="#222">GLO1</text>
<text x="131" y="69.47" font-size="4.6" fill="#222">ITPK1</text>
<text x="131" y="75.09" font-size="4.6" fill="#222">TMEM117</text>
<text x="131" y="80.71" font-size="4.6" fill="#222">CLTC</text>
<text x="131" y="86.33" font-size="4.6" fill="#222">CAV2</text>
<text x="131" y="91.95" font-size="4.6" fill="#222">ATP5G1</text>
<text x="131" y="97.57" font-size="4.6" fill="#222">IRF6</text>
<text x="131" y="103.19" font-size="4.6" fill="#222">TRPC6</text>
<text x="131" y="108.81" font-size="4.6" fill="#222">GAP43</text>
<text x="131" y="114.43" font-size="4.6" fill="#222">IL32</text>
<text x="131" y="120.05" font-size="4.6" fill="#222">DTNA</text>
<text x="131" y="125.67" font-size="4.6" fill="#222">SERPINE1</text>
<text x="131" y="131.29" font-size="4.6" fill="#222">DHCR24</text>
<text x="131" y="136.91" font-size="4.6" fill="#222">HIST1H2BD</text>
<text x="131" y="142.53" font-size="4.6" fill="#222">C5orf46</text>
<text x="131" y="148.15" font-size="4.6" fill="#222">PGM2L1</text>
<text x="131" y="153.77" font-size="4.6" fill="#222">ADORA2B</text>
<text x="131" y="159.39" font-size="4.6" fill="#222">NRCAM</text>
<text x="131" y="165.01" font-size="4.6" fill="#222">SMC2</text>
<text x="131" y="170.63" font-size="4.6" fill="#222">CTHRC1</text>
<text x="131" y="176.25" font-size="4.6" fill="#222">EDN1</text>
<text x="131" y="181.87" font-size="4.6" fill="#222">CH25H</text>
<text x="131" y="187.49" font-size="4.6" fill="#222">ELN</text>
<text x="131" y="193.11" font-size="4.6" fill="#222">AKAP12</text>
<text x="131" y="198.73" font-size="4.6" fill="#222">MYLK</text>
<text x="131" y="204.35" font-size="4.6" fill="#222">ENC1</text>
<text x="131" y="209.97" font-size="4.6" fill="#222">ACTA2</text>
<text x="131" y="215.59" font-size="4.6" fill="#222">RECK</text>
<text x="131" y="221.21" font-size="4.6" fill="#222">ANGPT1</text>
<text x="131" y="226.83" font-size="4.6" fill="#222">DGKI</text>
<text x="131" y="232.45" font-size="4.6" fill="#222">HHIP</text>
<text x="131" y="238.07" font-size="4.6" fill="#222">IGSF3</text>
<text x="131" y="243.69" font-size="4.6" fill="#222">IL31RA</text>
<text x="131" y="249.31" font-size="4.6" fill="#222">POSTN</text>
<text x="131" y="254.93" font-size="4.6" fill="#222">THSD4</text>
<text x="131" y="260.55" font-size="4.6" fill="#222">ANKRD1</text>
<text x="131" y="266.17" font-size="4.6" fill="#222">CDH6</text>
<text x="131" y="271.79" font-size="4.6" fill="#222">WEE1</text>
<text x="131" y="277.41" font-size="4.6" fill="#222">CYP7B1</text>
<text x="131" y="283.03" font-size="4.6" fill="#222">SLC38A6</text>
<text x="131" y="288.65" font-size="4.6" fill="#222">SLC39A5</text>
<text x="131" y="294.27" font-size="4.6" fill="#222">PLN</text>
<text x="131" y="299.89" font-size="4.6" fill="#222">SLC16A14</text>
<text x="131" y="305.51" font-size="4.6" fill="#222">SDPR</text>
<text x="131" y="311.13" font-size="4.6" fill="#222">AMPH</text>
<text x="131" y="316.75" font-size="4.6" fill="#222">MMP10</text>
<line x1="129.4" y1="14.34" x2="147.5" y2="14.34" stroke="#f04040" stroke-width="0.7"/>
<line x1="129.4" y1="19.96" x2="147.5" y2="19.96" stroke="#f04040" stroke-width="0.7"/>
<line x1="129.4" y1="87.4" x2="147.5" y2="87.4" stroke="#f04040" stroke-width="0.7"/>
<line x1="129.4" y1="132.36" x2="147.5" y2="132.36" stroke="#3a8ad0" stroke-width="0.7"/>
<line x1="129.4" y1="261.62" x2="147.5" y2="261.62" stroke="#3a8ad0" stroke-width="0.7"/>
<defs><linearGradient id="cb" x1="0" y1="0" x2="0" y2="1"><stop offset="0" stop-color="#cd2626"/><stop offset="0.5" stop-color="#f6dcdc"/><stop offset="0.5" stop-color="#e2e2f6"/><stop offset="1" stop-color="#000080"/></linearGradient></defs>
<rect x="159.7" y="2.9" width="4.7" height="70.4" fill="url(#cb)"/>
<text x="166.2" y="7.5" font-size="5" fill="#222">3</text>
<text x="166.2" y="18.47" font-size="5" fill="#222">2</text>
<text x="166.2" y="29.43" font-size="5" fill="#222">1</text>
<text x="166.2" y="40.4" font-size="5" fill="#222">0</text>
<text x="165.4" y="51.37" font-size="5" fill="#222">-1</text>
<text x="165.4" y="62.33" font-size="5" fill="#222">-2</text>
<text x="165.4" y="73.3" font-size="5" fill="#222">-3</text>
<text x="44.4" y="324.3" font-size="3.7" text-anchor="middle" textLength="3.3" lengthAdjust="spacingAndGlyphs">P1</text>
<text x="50" y="324.3" font-size="3.7" text-anchor="middle" textLength="3.3" lengthAdjust="spacingAndGlyphs">P2</text>
<text x="55.6" y="324.3" font-size="3.7" text-anchor="middle" textLength="3.3" lengthAdjust="spacingAndGlyphs">P3</text>
<text x="61.2" y="324.3" font-size="3.7" text-anchor="middle" textLength="3.3" lengthAdjust="spacingAndGlyphs">P4</text>
<text x="66.8" y="324.3" font-size="3.7" text-anchor="middle" textLength="3.3" lengthAdjust="spacingAndGlyphs">P5</text>
<text x="74.15" y="324.3" font-size="3.7" text-anchor="middle" textLength="3.3" lengthAdjust="spacingAndGlyphs">P1</text>
<text x="79.75" y="324.3" font-size="3.7" text-anchor="middle" textLength="3.3" lengthAdjust="spacingAndGlyphs">P2</text>
<text x="85.35" y="324.3" font-size="3.7" text-anchor="middle" textLength="3.3" lengthAdjust="spacingAndGlyphs">P3</text>
<text x="90.95" y="324.3" font-size="3.7" text-anchor="middle" textLength="3.3" lengthAdjust="spacingAndGlyphs">P4</text>
<text x="96.55" y="324.3" font-size="3.7" text-anchor="middle" textLength="3.3" lengthAdjust="spacingAndGlyphs">P5</text>
<text x="103.9" y="324.3" font-size="3.7" text-anchor="middle" textLength="3.3" lengthAdjust="spacingAndGlyphs">P1</text>
<text x="109.5" y="324.3" font-size="3.7" text-anchor="middle" textLength="3.3" lengthAdjust="spacingAndGlyphs">P2</text>
<text x="115.1" y="324.3" font-size="3.7" text-anchor="middle" textLength="3.3" lengthAdjust="spacingAndGlyphs">P3</text>
<text x="120.7" y="324.3" font-size="3.7" text-anchor="middle" textLength="3.3" lengthAdjust="spacingAndGlyphs">P4</text>
<text x="126.3" y="324.3" font-size="3.7" text-anchor="middle" textLength="3.3" lengthAdjust="spacingAndGlyphs">P5</text>
<line x1="43.7" y1="328.2" x2="67.6" y2="328.2" stroke="#111" stroke-width="0.6"/>
<text x="53.5" y="333.5" font-size="5.6" text-anchor="middle" fill="#111" textLength="21.2" lengthAdjust="spacingAndGlyphs">shEGFP</text>
<line x1="73.3" y1="328.2" x2="96.8" y2="328.2" stroke="#111" stroke-width="0.6"/>
<text x="83.45" y="333.5" font-size="5.6" text-anchor="middle" fill="#111" textLength="28.9" lengthAdjust="spacingAndGlyphs">shCEMIP#1</text>
<line x1="104.5" y1="328.2" x2="128.5" y2="328.2" stroke="#111" stroke-width="0.6"/>
<text x="118.8" y="333.5" font-size="5.6" text-anchor="middle" fill="#111" textLength="29.4" lengthAdjust="spacingAndGlyphs">shCEMIP#2</text>
<text x="0.6" y="5.9" font-size="8" font-weight="bold">A</text>
<text x="0.8" y="349.8" font-size="8" font-weight="bold">B</text>
<text x="0.8" y="507" font-size="8.4" font-weight="bold">C</text>
<text x="226.4" y="76.2" font-size="7.3" text-anchor="middle" font-style="italic" fill="#f22">TGFB2</text>
<line x1="198.8" y1="87.5" x2="256.5" y2="87.5" stroke="#555" stroke-width="0.7"/>
<text x="227.65" y="88.1" font-size="8.6" text-anchor="middle" fill="#111">**</text>
<line x1="198.8" y1="96.5" x2="225.4" y2="96.5" stroke="#555" stroke-width="0.7"/>
<text x="212.1" y="97.1" font-size="8.6" text-anchor="middle" fill="#111">***</text>
<line x1="184.5" y1="103" x2="184.5" y2="160.5" stroke="#808080" stroke-width="0.7"/>
<line x1="184.5" y1="160.5" x2="273.1" y2="160.5" stroke="#808080" stroke-width="0.7"/>
<line x1="183.2" y1="160.5" x2="184.5" y2="160.5" stroke="#808080" stroke-width="0.6"/>
<text x="182.6" y="162.6" font-size="5.4" text-anchor="end" fill="#111">0</text>
<line x1="183.2" y1="146.5" x2="184.5" y2="146.5" stroke="#808080" stroke-width="0.6"/>
<text x="182.6" y="148.25" font-size="5.4" text-anchor="end" fill="#111">2</text>
<line x1="183.2" y1="132.5" x2="184.5" y2="132.5" stroke="#808080" stroke-width="0.6"/>
<text x="182.6" y="133.9" font-size="5.4" text-anchor="end" fill="#111">4</text>
<line x1="183.2" y1="117.5" x2="184.5" y2="117.5" stroke="#808080" stroke-width="0.6"/>
<text x="182.6" y="119.55" font-size="5.4" text-anchor="end" fill="#111">6</text>
<line x1="183.2" y1="103.5" x2="184.5" y2="103.5" stroke="#808080" stroke-width="0.6"/>
<text x="182.6" y="105.2" font-size="5.4" text-anchor="end" fill="#111">8</text>
<line x1="198.5" y1="160.5" x2="198.5" y2="161.9" stroke="#808080" stroke-width="0.6"/>
<line x1="227.5" y1="160.5" x2="227.5" y2="161.9" stroke="#808080" stroke-width="0.6"/>
<line x1="257.5" y1="160.5" x2="257.5" y2="161.9" stroke="#808080" stroke-width="0.6"/>
<text x="198.5" y="169.8" font-size="5.7" text-anchor="middle" fill="#111" textLength="20.5" lengthAdjust="spacingAndGlyphs">shEGFP</text>
<text x="225.8" y="169.8" font-size="5.7" text-anchor="middle" fill="#111" textLength="29" lengthAdjust="spacingAndGlyphs">shCEMIP#1</text>
<text x="256.7" y="169.8" font-size="5.7" text-anchor="middle" fill="#111" textLength="29" lengthAdjust="spacingAndGlyphs">shCEMIP#2</text>
<text x="0" y="0" font-size="5.5" text-anchor="middle" fill="#111" transform="translate(173.8,132) rotate(-90)">Relative mRNA level</text>
<line x1="189.2" y1="151.5" x2="208.4" y2="151.5" stroke="#666" stroke-width="0.75"/>
<line x1="218.4" y1="119.5" x2="237.6" y2="119.5" stroke="#666" stroke-width="0.75"/>
<line x1="247.6" y1="138.5" x2="266.8" y2="138.5" stroke="#666" stroke-width="0.75"/>
<path d="M199.3 137.5L200.5 135.34H198.1Z" fill="#000"/>
<rect x="194.75" y="150.32" width="2.1" height="2.1" fill="#fff" stroke="#000" stroke-width="0.6"/>
<circle cx="198.3" cy="154.24" r="1.3" fill="#000"/>
<path d="M202.3 150.17L203.5 151.37L202.3 152.57L201.1 151.37Z" fill="#000"/>
<circle cx="201.3" cy="156.39" r="1.05" fill="#fff" stroke="#000" stroke-width="0.55"/>
<path d="M197.3 157.35L198.5 159.51H196.1Z" fill="#000"/>
<rect x="224.3" y="103.53" width="2.4" height="2.4" fill="#000"/>
<path d="M229.5 105.22L230.7 103.06H228.3Z" fill="#000"/>
<circle cx="228" cy="109.76" r="1.3" fill="#000"/>
<rect x="226.95" y="116.6" width="2.1" height="2.1" fill="#fff" stroke="#000" stroke-width="0.6"/>
<path d="M228 127.21L229.2 129.37H226.8Z" fill="#000"/>
<circle cx="228" cy="150.66" r="1.05" fill="#fff" stroke="#000" stroke-width="0.55"/>
<path d="M256.2 117.42L257.4 115.26H255Z" fill="#000"/>
<rect x="255.15" y="130.95" width="2.1" height="2.1" fill="#fff" stroke="#000" stroke-width="0.6"/>
<circle cx="254.5" cy="141.33" r="1.3" fill="#000"/>
<path d="M258.2 143L259.4 145.16H257Z" fill="#000"/>
<circle cx="256.2" cy="152.09" r="1.05" fill="#fff" stroke="#000" stroke-width="0.55"/>
<text x="328" y="76.2" font-size="7.3" text-anchor="middle" font-style="italic" fill="#f22">MSX2</text>
<line x1="300.4" y1="87.5" x2="360" y2="87.5" stroke="#555" stroke-width="0.7"/>
<text x="330.2" y="88.1" font-size="8.6" text-anchor="middle" fill="#111">*</text>
<line x1="300.4" y1="96.5" x2="328.7" y2="96.5" stroke="#555" stroke-width="0.7"/>
<text x="314.55" y="97.1" font-size="8.6" text-anchor="middle" fill="#111">***</text>
<line x1="286.5" y1="104.4" x2="286.5" y2="160.5" stroke="#808080" stroke-width="0.7"/>
<line x1="286.5" y1="160.5" x2="374.7" y2="160.5" stroke="#808080" stroke-width="0.7"/>
<line x1="284.8" y1="160.5" x2="286.5" y2="160.5" stroke="#808080" stroke-width="0.6"/>
<text x="284.2" y="162.4" font-size="5.4" text-anchor="end" fill="#111">0</text>
<line x1="284.8" y1="141.5" x2="286.5" y2="141.5" stroke="#808080" stroke-width="0.6"/>
<text x="284.2" y="143.8" font-size="5.4" text-anchor="end" fill="#111">2</text>
<line x1="284.8" y1="123.5" x2="286.5" y2="123.5" stroke="#808080" stroke-width="0.6"/>
<text x="284.2" y="125.2" font-size="5.4" text-anchor="end" fill="#111">4</text>
<line x1="284.8" y1="104.5" x2="286.5" y2="104.5" stroke="#808080" stroke-width="0.6"/>
<text x="284.2" y="106.6" font-size="5.4" text-anchor="end" fill="#111">6</text>
<line x1="300.5" y1="160.5" x2="300.5" y2="161.9" stroke="#808080" stroke-width="0.6"/>
<line x1="329.5" y1="160.5" x2="329.5" y2="161.9" stroke="#808080" stroke-width="0.6"/>
<line x1="358.5" y1="160.5" x2="358.5" y2="161.9" stroke="#808080" stroke-width="0.6"/>
<text x="300.1" y="169.6" font-size="5.7" text-anchor="middle" fill="#111" textLength="20.5" lengthAdjust="spacingAndGlyphs">shEGFP</text>
<text x="327.4" y="169.6" font-size="5.7" text-anchor="middle" fill="#111" textLength="29" lengthAdjust="spacingAndGlyphs">shCEMIP#1</text>
<text x="358.3" y="169.6" font-size="5.7" text-anchor="middle" fill="#111" textLength="29" lengthAdjust="spacingAndGlyphs">shCEMIP#2</text>
<text x="0" y="0" font-size="5.5" text-anchor="middle" fill="#111" transform="translate(275.4,132.6) rotate(-90)">Relative mRNA level</text>
<line x1="290.8" y1="150.5" x2="310" y2="150.5" stroke="#666" stroke-width="0.75"/>
<line x1="320" y1="138.5" x2="339.2" y2="138.5" stroke="#666" stroke-width="0.75"/>
<line x1="349.2" y1="145.5" x2="368.4" y2="145.5" stroke="#666" stroke-width="0.75"/>
<rect x="301.2" y="144.42" width="2.4" height="2.4" fill="#000"/>
<path d="M298.4 148.68L299.6 146.52H297.2Z" fill="#000"/>
<rect x="301.35" y="150.15" width="2.1" height="2.1" fill="#fff" stroke="#000" stroke-width="0.6"/>
<circle cx="302.4" cy="153.06" r="1.05" fill="#fff" stroke="#000" stroke-width="0.55"/>
<path d="M298.4 156.12L299.6 153.96H297.2Z" fill="#000"/>
<circle cx="298.4" cy="152.59" r="1.3" fill="#000"/>
<path d="M329.6 111.87L330.8 114.03H328.4Z" fill="#000"/>
<path d="M329.6 133.26L330.8 135.42H328.4Z" fill="#000"/>
<circle cx="329.6" cy="138.18" r="1.3" fill="#000"/>
<rect x="328.55" y="139.92" width="2.1" height="2.1" fill="#fff" stroke="#000" stroke-width="0.6"/>
<path d="M327.6 153.33L328.8 151.17H326.4Z" fill="#000"/>
<circle cx="331.4" cy="152.13" r="1.05" fill="#fff" stroke="#000" stroke-width="0.55"/>
<circle cx="357.3" cy="131.67" r="1.3" fill="#000"/>
<circle cx="355.6" cy="143.76" r="1.3" fill="#000"/>
<rect x="356.6" y="143.49" width="2.4" height="2.4" fill="#000"/>
<rect x="359.25" y="146.43" width="2.1" height="2.1" fill="#fff" stroke="#000" stroke-width="0.6"/>
<path d="M355.8 155.19L357 153.03H354.6Z" fill="#000"/>
<circle cx="359.3" cy="153.06" r="1.05" fill="#fff" stroke="#000" stroke-width="0.55"/>
<text x="436.3" y="76.2" font-size="7.3" text-anchor="middle" font-style="italic" fill="#f22">CAV2</text>
<line x1="408.7" y1="87.5" x2="467.6" y2="87.5" stroke="#555" stroke-width="0.7"/>
<text x="438.15" y="88.1" font-size="8.6" text-anchor="middle" fill="#111">*</text>
<line x1="408.7" y1="96.5" x2="436.9" y2="96.5" stroke="#555" stroke-width="0.7"/>
<text x="422.8" y="97.1" font-size="8.6" text-anchor="middle" fill="#111">***</text>
<line x1="394.5" y1="105.1" x2="394.5" y2="160.5" stroke="#808080" stroke-width="0.7"/>
<line x1="394.5" y1="160.5" x2="483" y2="160.5" stroke="#808080" stroke-width="0.7"/>
<line x1="393.1" y1="160.5" x2="394.5" y2="160.5" stroke="#808080" stroke-width="0.6"/>
<text x="392.5" y="162.2" font-size="5.4" text-anchor="end" fill="#111">0</text>
<line x1="393.1" y1="146.5" x2="394.5" y2="146.5" stroke="#808080" stroke-width="0.6"/>
<text x="392.5" y="148.48" font-size="5.4" text-anchor="end" fill="#111">2</text>
<line x1="393.1" y1="132.5" x2="394.5" y2="132.5" stroke="#808080" stroke-width="0.6"/>
<text x="392.5" y="134.75" font-size="5.4" text-anchor="end" fill="#111">4</text>
<line x1="393.1" y1="119.5" x2="394.5" y2="119.5" stroke="#808080" stroke-width="0.6"/>
<text x="392.5" y="121.03" font-size="5.4" text-anchor="end" fill="#111">6</text>
<line x1="393.1" y1="105.5" x2="394.5" y2="105.5" stroke="#808080" stroke-width="0.6"/>
<text x="392.5" y="107.3" font-size="5.4" text-anchor="end" fill="#111">8</text>
<line x1="408.5" y1="160.5" x2="408.5" y2="161.9" stroke="#808080" stroke-width="0.6"/>
<line x1="437.5" y1="160.5" x2="437.5" y2="161.9" stroke="#808080" stroke-width="0.6"/>
<line x1="467.5" y1="160.5" x2="467.5" y2="161.9" stroke="#808080" stroke-width="0.6"/>
<text x="408.4" y="169.4" font-size="5.7" text-anchor="middle" fill="#111" textLength="20.5" lengthAdjust="spacingAndGlyphs">shEGFP</text>
<text x="435.7" y="169.4" font-size="5.7" text-anchor="middle" fill="#111" textLength="29" lengthAdjust="spacingAndGlyphs">shCEMIP#1</text>
<text x="466.6" y="169.4" font-size="5.7" text-anchor="middle" fill="#111" textLength="29" lengthAdjust="spacingAndGlyphs">shCEMIP#2</text>
<text x="0" y="0" font-size="5.5" text-anchor="middle" fill="#111" transform="translate(383.7,132.85) rotate(-90)">Relative mRNA level</text>
<line x1="399.1" y1="153.5" x2="418.3" y2="153.5" stroke="#666" stroke-width="0.75"/>
<line x1="428.3" y1="126.5" x2="447.5" y2="126.5" stroke="#666" stroke-width="0.75"/>
<line x1="457.5" y1="148.5" x2="476.7" y2="148.5" stroke="#666" stroke-width="0.75"/>
<circle cx="408.7" cy="146.58" r="1.05" fill="#fff" stroke="#000" stroke-width="0.55"/>
<circle cx="408.2" cy="151.38" r="1.3" fill="#000"/>
<rect x="411.5" y="152.92" width="2.4" height="2.4" fill="#000"/>
<path d="M405.2 156.7L406.4 154.54H404Z" fill="#000"/>
<path d="M408.2 157.38L409.4 155.22H407Z" fill="#000"/>
<circle cx="410.7" cy="154.81" r="1.3" fill="#000"/>
<circle cx="436.4" cy="107.46" r="1.05" fill="#fff" stroke="#000" stroke-width="0.55"/>
<rect x="438.2" y="105.57" width="2.4" height="2.4" fill="#000"/>
<circle cx="437.9" cy="119.12" r="1.2" fill="#555"/>
<path d="M437.9 136.79L439.1 134.63H436.7Z" fill="#000"/>
<path d="M437.9 140.57L439.1 142.73H436.7Z" fill="#000"/>
<path d="M437.9 150.18L439.1 152.34H436.7Z" fill="#000"/>
<circle cx="465.6" cy="141.77" r="1.05" fill="#fff" stroke="#000" stroke-width="0.55"/>
<circle cx="463.6" cy="145.2" r="1.2" fill="#555"/>
<rect x="465.4" y="146.75" width="2.4" height="2.4" fill="#000"/>
<path d="M462.1 153.26L463.3 151.1H460.9Z" fill="#000"/>
<path d="M464.6 151.55L465.8 153.71H463.4Z" fill="#000"/>
<circle cx="468.1" cy="152.06" r="1.3" fill="#000"/>
<text x="225.6" y="194" font-size="7.3" text-anchor="middle" font-style="italic" fill="#2a86d6">ANKRD1</text>
<line x1="198.7" y1="208.5" x2="255.8" y2="208.5" stroke="#555" stroke-width="0.7"/>
<text x="227.25" y="209.1" font-size="8.6" text-anchor="middle" fill="#111">***</text>
<line x1="198.7" y1="218.5" x2="224.6" y2="218.5" stroke="#555" stroke-width="0.7"/>
<text x="211.65" y="219.1" font-size="8.6" text-anchor="middle" fill="#111">**</text>
<line x1="183.5" y1="217.5" x2="183.5" y2="274.5" stroke="#808080" stroke-width="0.7"/>
<line x1="183.5" y1="274.5" x2="272.3" y2="274.5" stroke="#808080" stroke-width="0.7"/>
<line x1="182.4" y1="274.5" x2="183.5" y2="274.5" stroke="#808080" stroke-width="0.6"/>
<text x="181.8" y="276.8" font-size="5.4" text-anchor="end" fill="#111">0</text>
<line x1="182.4" y1="255.5" x2="183.5" y2="255.5" stroke="#808080" stroke-width="0.6"/>
<text x="181.8" y="257.77" font-size="5.4" text-anchor="end" fill="#111">2</text>
<line x1="182.4" y1="236.5" x2="183.5" y2="236.5" stroke="#808080" stroke-width="0.6"/>
<text x="181.8" y="238.73" font-size="5.4" text-anchor="end" fill="#111">4</text>
<line x1="182.4" y1="217.5" x2="183.5" y2="217.5" stroke="#808080" stroke-width="0.6"/>
<text x="181.8" y="219.7" font-size="5.4" text-anchor="end" fill="#111">6</text>
<line x1="198.5" y1="274.5" x2="198.5" y2="275.9" stroke="#808080" stroke-width="0.6"/>
<line x1="227.5" y1="274.5" x2="227.5" y2="275.9" stroke="#808080" stroke-width="0.6"/>
<line x1="256.5" y1="274.5" x2="256.5" y2="275.9" stroke="#808080" stroke-width="0.6"/>
<text x="196.7" y="281.8" font-size="5.7" text-anchor="middle" fill="#111" textLength="20.5" lengthAdjust="spacingAndGlyphs">shEGFP</text>
<text x="223.3" y="281.8" font-size="5.7" text-anchor="middle" fill="#111" textLength="29" lengthAdjust="spacingAndGlyphs">shCEMIP#1</text>
<text x="254.9" y="281.8" font-size="5.7" text-anchor="middle" fill="#111" textLength="29" lengthAdjust="spacingAndGlyphs">shCEMIP#2</text>
<text x="0" y="0" font-size="5.5" text-anchor="middle" fill="#111" transform="translate(173,246.35) rotate(-90)">Relative mRNA level</text>
<line x1="188.4" y1="246.5" x2="207.6" y2="246.5" stroke="#666" stroke-width="0.75"/>
<line x1="217.6" y1="271.5" x2="236.8" y2="271.5" stroke="#666" stroke-width="0.75"/>
<line x1="246.8" y1="272.5" x2="266" y2="272.5" stroke="#666" stroke-width="0.75"/>
<rect x="196.8" y="222.31" width="2.4" height="2.4" fill="#000"/>
<circle cx="198" cy="235.88" r="1.3" fill="#000"/>
<path d="M198 254.67L199.2 256.83H196.8Z" fill="#000"/>
<path d="M198 271.34L199.2 269.18H196.8Z" fill="#000"/>
<rect x="226" y="265.13" width="2.4" height="2.4" fill="#000"/>
<circle cx="227.2" cy="270.14" r="1.3" fill="#000"/>
<path d="M225.2 272.27L226.4 274.43H224Z" fill="#000"/>
<path d="M228.7 274.2L229.9 272.04H227.5Z" fill="#000"/>
<rect x="255.2" y="268.94" width="2.4" height="2.4" fill="#000"/>
<circle cx="253.4" cy="272.52" r="1.3" fill="#000"/>
<path d="M257.4 272.27L258.6 274.43H256.2Z" fill="#000"/>
<path d="M259.4 274.2L260.6 272.04H258.2Z" fill="#000"/>
<text x="331.2" y="194" font-size="7.3" text-anchor="middle" font-style="italic" fill="#2a86d6">DHCR24</text>
<line x1="306.3" y1="208.5" x2="362.9" y2="208.5" stroke="#555" stroke-width="0.7"/>
<text x="334.6" y="209.1" font-size="8.6" text-anchor="middle" fill="#111">**</text>
<line x1="306.3" y1="218.5" x2="331.6" y2="218.5" stroke="#555" stroke-width="0.7"/>
<text x="318.95" y="219.1" font-size="8.6" text-anchor="middle" fill="#111">**</text>
<line x1="289.5" y1="217.5" x2="289.5" y2="273.5" stroke="#808080" stroke-width="0.7"/>
<line x1="289.5" y1="273.5" x2="377.9" y2="273.5" stroke="#808080" stroke-width="0.7"/>
<line x1="288" y1="273.5" x2="289.5" y2="273.5" stroke="#808080" stroke-width="0.6"/>
<text x="287.4" y="275.4" font-size="5.4" text-anchor="end" fill="#111">0.0</text>
<line x1="288" y1="259.5" x2="289.5" y2="259.5" stroke="#808080" stroke-width="0.6"/>
<text x="287.4" y="261.47" font-size="5.4" text-anchor="end" fill="#111">0.5</text>
<line x1="288" y1="245.5" x2="289.5" y2="245.5" stroke="#808080" stroke-width="0.6"/>
<text x="287.4" y="247.55" font-size="5.4" text-anchor="end" fill="#111">1.0</text>
<line x1="288" y1="231.5" x2="289.5" y2="231.5" stroke="#808080" stroke-width="0.6"/>
<text x="287.4" y="233.63" font-size="5.4" text-anchor="end" fill="#111">1.5</text>
<line x1="288" y1="217.5" x2="289.5" y2="217.5" stroke="#808080" stroke-width="0.6"/>
<text x="287.4" y="219.7" font-size="5.4" text-anchor="end" fill="#111">2.0</text>
<line x1="303.5" y1="273.5" x2="303.5" y2="274.9" stroke="#808080" stroke-width="0.6"/>
<line x1="332.5" y1="273.5" x2="332.5" y2="274.9" stroke="#808080" stroke-width="0.6"/>
<line x1="361.5" y1="273.5" x2="361.5" y2="274.9" stroke="#808080" stroke-width="0.6"/>
<text x="302.3" y="280.4" font-size="5.7" text-anchor="middle" fill="#111" textLength="20.5" lengthAdjust="spacingAndGlyphs">shEGFP</text>
<text x="328.9" y="280.4" font-size="5.7" text-anchor="middle" fill="#111" textLength="29" lengthAdjust="spacingAndGlyphs">shCEMIP#1</text>
<text x="360.5" y="280.4" font-size="5.7" text-anchor="middle" fill="#111" textLength="29" lengthAdjust="spacingAndGlyphs">shCEMIP#2</text>
<text x="0" y="0" font-size="5.5" text-anchor="middle" fill="#111" transform="translate(278.6,245.65) rotate(-90)">Relative mRNA level</text>
<line x1="294" y1="254.5" x2="313.2" y2="254.5" stroke="#666" stroke-width="0.75"/>
<line x1="323.2" y1="270.5" x2="342.4" y2="270.5" stroke="#666" stroke-width="0.75"/>
<line x1="352.4" y1="270.5" x2="371.6" y2="270.5" stroke="#666" stroke-width="0.75"/>
<rect x="302.4" y="229.97" width="2.4" height="2.4" fill="#000"/>
<circle cx="303.6" cy="252.33" r="1.3" fill="#000"/>
<path d="M303.6 265.51L304.8 263.35H302.4Z" fill="#000"/>
<path d="M303.6 269.51L304.8 271.67H302.4Z" fill="#000"/>
<rect x="331.6" y="266.73" width="2.4" height="2.4" fill="#000"/>
<circle cx="335.8" cy="269.32" r="1.3" fill="#000"/>
<path d="M329.8 267.84L331 270H328.6Z" fill="#000"/>
<path d="M332.8 273.31L334 271.15H331.6Z" fill="#000"/>
<circle cx="362" cy="267.37" r="1.3" fill="#000"/>
<rect x="363.8" y="268.96" width="2.4" height="2.4" fill="#000"/>
<path d="M359 268.96L360.2 271.12H357.8Z" fill="#000"/>
<path d="M362 273.86L363.2 271.7H360.8Z" fill="#000"/>
<text x="435.1" y="194" font-size="7.3" text-anchor="middle" font-style="italic" fill="#222">CEMIP</text>
<line x1="410.6" y1="208.5" x2="467.8" y2="208.5" stroke="#555" stroke-width="0.7"/>
<text x="439.2" y="209.1" font-size="8.6" text-anchor="middle" fill="#111">***</text>
<line x1="410.6" y1="218.5" x2="436" y2="218.5" stroke="#555" stroke-width="0.7"/>
<text x="423.3" y="219.1" font-size="8.6" text-anchor="middle" fill="#111">***</text>
<line x1="393.5" y1="217.5" x2="393.5" y2="273.5" stroke="#808080" stroke-width="0.7"/>
<line x1="393.5" y1="273.5" x2="481.8" y2="273.5" stroke="#808080" stroke-width="0.7"/>
<line x1="391.9" y1="273.5" x2="393.5" y2="273.5" stroke="#808080" stroke-width="0.6"/>
<text x="391.3" y="275.8" font-size="5.4" text-anchor="end" fill="#111">0</text>
<line x1="391.9" y1="259.5" x2="393.5" y2="259.5" stroke="#808080" stroke-width="0.6"/>
<text x="391.3" y="261.77" font-size="5.4" text-anchor="end" fill="#111">2</text>
<line x1="391.9" y1="245.5" x2="393.5" y2="245.5" stroke="#808080" stroke-width="0.6"/>
<text x="391.3" y="247.75" font-size="5.4" text-anchor="end" fill="#111">4</text>
<line x1="391.9" y1="231.5" x2="393.5" y2="231.5" stroke="#808080" stroke-width="0.6"/>
<text x="391.3" y="233.72" font-size="5.4" text-anchor="end" fill="#111">6</text>
<line x1="391.9" y1="217.5" x2="393.5" y2="217.5" stroke="#808080" stroke-width="0.6"/>
<text x="391.3" y="219.7" font-size="5.4" text-anchor="end" fill="#111">8</text>
<line x1="407.5" y1="273.5" x2="407.5" y2="274.9" stroke="#808080" stroke-width="0.6"/>
<line x1="436.5" y1="273.5" x2="436.5" y2="274.9" stroke="#808080" stroke-width="0.6"/>
<line x1="465.5" y1="273.5" x2="465.5" y2="274.9" stroke="#808080" stroke-width="0.6"/>
<text x="406.2" y="280.8" font-size="5.7" text-anchor="middle" fill="#111" textLength="20.5" lengthAdjust="spacingAndGlyphs">shEGFP</text>
<text x="432.8" y="280.8" font-size="5.7" text-anchor="middle" fill="#111" textLength="29" lengthAdjust="spacingAndGlyphs">shCEMIP#1</text>
<text x="464.4" y="280.8" font-size="5.7" text-anchor="middle" fill="#111" textLength="29" lengthAdjust="spacingAndGlyphs">shCEMIP#2</text>
<text x="0" y="0" font-size="5.5" text-anchor="middle" fill="#111" transform="translate(382.5,245.85) rotate(-90)">Relative mRNA level</text>
<line x1="397.9" y1="250.5" x2="417.1" y2="250.5" stroke="#666" stroke-width="0.75"/>
<line x1="427.1" y1="271.5" x2="446.3" y2="271.5" stroke="#666" stroke-width="0.75"/>
<line x1="456.3" y1="270.5" x2="475.5" y2="270.5" stroke="#666" stroke-width="0.75"/>
<rect x="406.3" y="228.52" width="2.4" height="2.4" fill="#000"/>
<circle cx="407.5" cy="254.26" r="1.3" fill="#000"/>
<path d="M409.5 255.17L410.7 256.37L409.5 257.57L408.3 256.37Z" fill="#000"/>
<path d="M405.5 258.68L406.7 260.83H404.3Z" fill="#000"/>
<path d="M432.7 269.19L433.9 271.35H431.5Z" fill="#000"/>
<path d="M435.2 273.7L436.4 271.54H434Z" fill="#000"/>
<circle cx="437.7" cy="271.8" r="1.3" fill="#000"/>
<rect x="440.5" y="268.49" width="2.4" height="2.4" fill="#000"/>
<circle cx="465.9" cy="266.89" r="1.3" fill="#000"/>
<path d="M461.9 269.19L463.1 271.35H460.7Z" fill="#000"/>
<rect x="467.7" y="269.19" width="2.4" height="2.4" fill="#000"/>
<path d="M465.9 274.4L467.1 272.24H464.7Z" fill="#000"/>
<text x="224.1" y="362.4" font-size="7.3" text-anchor="middle" font-style="italic" fill="#f22">COL6A1</text>
<line x1="197.7" y1="374.5" x2="254.8" y2="374.5" stroke="#555" stroke-width="0.7"/>
<text x="226.25" y="375.1" font-size="8.6" text-anchor="middle" fill="#111">*</text>
<line x1="197.7" y1="383.6" x2="223.8" y2="383.6" stroke="#aaa" stroke-width="1.1"/>
<text x="210.75" y="384.2" font-size="8.6" text-anchor="middle" fill="#111">***</text>
<line x1="182.5" y1="390.5" x2="182.5" y2="445.5" stroke="#808080" stroke-width="0.7"/>
<line x1="182.5" y1="445.5" x2="270.8" y2="445.5" stroke="#808080" stroke-width="0.7"/>
<line x1="180.9" y1="445.5" x2="182.5" y2="445.5" stroke="#808080" stroke-width="0.6"/>
<text x="180.3" y="447.8" font-size="5.4" text-anchor="end" fill="#111">0</text>
<line x1="180.9" y1="434.5" x2="182.5" y2="434.5" stroke="#808080" stroke-width="0.6"/>
<text x="180.3" y="436.78" font-size="5.4" text-anchor="end" fill="#111">2</text>
<line x1="180.9" y1="423.5" x2="182.5" y2="423.5" stroke="#808080" stroke-width="0.6"/>
<text x="180.3" y="425.76" font-size="5.4" text-anchor="end" fill="#111">4</text>
<line x1="180.9" y1="412.5" x2="182.5" y2="412.5" stroke="#808080" stroke-width="0.6"/>
<text x="180.3" y="414.74" font-size="5.4" text-anchor="end" fill="#111">6</text>
<line x1="180.9" y1="401.5" x2="182.5" y2="401.5" stroke="#808080" stroke-width="0.6"/>
<text x="180.3" y="403.72" font-size="5.4" text-anchor="end" fill="#111">8</text>
<line x1="180.9" y1="390.5" x2="182.5" y2="390.5" stroke="#808080" stroke-width="0.6"/>
<text x="180.3" y="392.7" font-size="5.4" text-anchor="end" fill="#111">10</text>
<line x1="196.5" y1="445.5" x2="196.5" y2="446.9" stroke="#808080" stroke-width="0.6"/>
<line x1="225.5" y1="445.5" x2="225.5" y2="446.9" stroke="#808080" stroke-width="0.6"/>
<line x1="254.5" y1="445.5" x2="254.5" y2="446.9" stroke="#808080" stroke-width="0.6"/>
<text x="195.2" y="452.9" font-size="5.7" text-anchor="middle" fill="#111" textLength="20.5" lengthAdjust="spacingAndGlyphs">shEGFP</text>
<text x="221.8" y="452.9" font-size="5.7" text-anchor="middle" fill="#111" textLength="29" lengthAdjust="spacingAndGlyphs">shCEMIP#1</text>
<text x="253.4" y="452.9" font-size="5.7" text-anchor="middle" fill="#111" textLength="29" lengthAdjust="spacingAndGlyphs">shCEMIP#2</text>
<text x="0" y="0" font-size="5.5" text-anchor="middle" fill="#111" transform="translate(171.5,418.35) rotate(-90)">Relative mRNA level</text>
<line x1="186.9" y1="439.84" x2="206.1" y2="439.84" stroke="#aaa" stroke-width="1.1"/>
<line x1="216.1" y1="423.86" x2="235.3" y2="423.86" stroke="#aaa" stroke-width="1.1"/>
<line x1="245.3" y1="431.02" x2="264.5" y2="431.02" stroke="#aaa" stroke-width="1.1"/>
<circle cx="197.5" cy="435.43" r="1.3" fill="#000"/>
<rect x="192.3" y="438.09" width="2.4" height="2.4" fill="#000"/>
<circle cx="196.5" cy="439.84" r="1.3" fill="#000"/>
<circle cx="198.5" cy="440.94" r="1.05" fill="#fff" stroke="#000" stroke-width="0.55"/>
<path d="M200 438.09L201.2 440.25H198.8Z" fill="#000"/>
<path d="M195.5 444.34L196.7 442.19H194.3Z" fill="#000"/>
<rect x="224.5" y="399.52" width="2.4" height="2.4" fill="#000"/>
<path d="M225.7 414.39L226.9 416.55H224.5Z" fill="#000"/>
<circle cx="225.7" cy="421.66" r="1.3" fill="#000"/>
<circle cx="225.7" cy="428.27" r="1.05" fill="#fff" stroke="#000" stroke-width="0.55"/>
<path d="M225.7 433.68L226.9 435.84H224.5Z" fill="#000"/>
<path d="M225.7 441.59L226.9 439.43H224.5Z" fill="#000"/>
<rect x="253.7" y="405.03" width="2.4" height="2.4" fill="#000"/>
<path d="M254.9 427.07L256.1 429.23H253.7Z" fill="#000"/>
<circle cx="254.9" cy="433.78" r="1.3" fill="#000"/>
<circle cx="252.9" cy="437.63" r="1.05" fill="#fff" stroke="#000" stroke-width="0.55"/>
<circle cx="256.9" cy="438.74" r="1.3" fill="#000"/>
<path d="M254.9 443.79L256.1 441.63H253.7Z" fill="#000"/>
<text x="333.3" y="362.7" font-size="7.3" text-anchor="middle" font-style="italic" fill="#f22">COL2A1</text>
<line x1="306.5" y1="375.5" x2="363.8" y2="375.5" stroke="#555" stroke-width="0.7"/>
<text x="335.15" y="376.1" font-size="8.6" text-anchor="middle" fill="#111">*</text>
<line x1="306.5" y1="384.5" x2="332.3" y2="384.5" stroke="#555" stroke-width="0.7"/>
<text x="319.4" y="385.1" font-size="8.6" text-anchor="middle" fill="#111">**</text>
<line x1="291.5" y1="388.3" x2="291.5" y2="446.5" stroke="#808080" stroke-width="0.7"/>
<line x1="291.5" y1="446.5" x2="380" y2="446.5" stroke="#808080" stroke-width="0.7"/>
<line x1="290.1" y1="446.5" x2="291.5" y2="446.5" stroke="#808080" stroke-width="0.6"/>
<text x="289.5" y="448" font-size="5.4" text-anchor="end" fill="#111">0</text>
<line x1="290.1" y1="438.5" x2="291.5" y2="438.5" stroke="#808080" stroke-width="0.6"/>
<text x="289.5" y="440.81" font-size="5.4" text-anchor="end" fill="#111">20</text>
<line x1="290.1" y1="431.5" x2="291.5" y2="431.5" stroke="#808080" stroke-width="0.6"/>
<text x="289.5" y="433.62" font-size="5.4" text-anchor="end" fill="#111">40</text>
<line x1="290.1" y1="424.5" x2="291.5" y2="424.5" stroke="#808080" stroke-width="0.6"/>
<text x="289.5" y="426.44" font-size="5.4" text-anchor="end" fill="#111">60</text>
<line x1="290.1" y1="417.5" x2="291.5" y2="417.5" stroke="#808080" stroke-width="0.6"/>
<text x="289.5" y="419.25" font-size="5.4" text-anchor="end" fill="#111">80</text>
<line x1="290.1" y1="410.5" x2="291.5" y2="410.5" stroke="#808080" stroke-width="0.6"/>
<text x="289.5" y="412.06" font-size="5.4" text-anchor="end" fill="#111">100</text>
<line x1="290.1" y1="402.5" x2="291.5" y2="402.5" stroke="#808080" stroke-width="0.6"/>
<text x="289.5" y="404.88" font-size="5.4" text-anchor="end" fill="#111">120</text>
<line x1="290.1" y1="395.5" x2="291.5" y2="395.5" stroke="#808080" stroke-width="0.6"/>
<text x="289.5" y="397.69" font-size="5.4" text-anchor="end" fill="#111">140</text>
<line x1="290.1" y1="388.5" x2="291.5" y2="388.5" stroke="#808080" stroke-width="0.6"/>
<text x="289.5" y="390.5" font-size="5.4" text-anchor="end" fill="#111">160</text>
<line x1="305.5" y1="446.5" x2="305.5" y2="447.9" stroke="#808080" stroke-width="0.6"/>
<line x1="334.5" y1="446.5" x2="334.5" y2="447.9" stroke="#808080" stroke-width="0.6"/>
<line x1="364.5" y1="446.5" x2="364.5" y2="447.9" stroke="#808080" stroke-width="0.6"/>
<text x="304.4" y="453.1" font-size="5.7" text-anchor="middle" fill="#111" textLength="20.5" lengthAdjust="spacingAndGlyphs">shEGFP</text>
<text x="331" y="453.1" font-size="5.7" text-anchor="middle" fill="#111" textLength="29" lengthAdjust="spacingAndGlyphs">shCEMIP#1</text>
<text x="362.6" y="453.1" font-size="5.7" text-anchor="middle" fill="#111" textLength="29" lengthAdjust="spacingAndGlyphs">shCEMIP#2</text>
<text x="0" y="0" font-size="5.5" text-anchor="middle" fill="#111" transform="translate(280.7,417.35) rotate(-90)">Relative mRNA level</text>
<line x1="296.1" y1="439.5" x2="315.3" y2="439.5" stroke="#666" stroke-width="0.75"/>
<line x1="325.3" y1="426.5" x2="344.5" y2="426.5" stroke="#666" stroke-width="0.75"/>
<line x1="354.5" y1="429.5" x2="373.7" y2="429.5" stroke="#666" stroke-width="0.75"/>
<rect x="304.5" y="422.62" width="2.4" height="2.4" fill="#000"/>
<path d="M304.2 438.43L305.4 440.59H303Z" fill="#000"/>
<circle cx="307.2" cy="441.79" r="1.3" fill="#000"/>
<path d="M302.7 446.94L303.9 444.78H301.5Z" fill="#000"/>
<circle cx="305.7" cy="445.74" r="1.05" fill="#fff" stroke="#000" stroke-width="0.55"/>
<path d="M308.7 446.94L309.9 444.78H307.5Z" fill="#000"/>
<rect x="333.7" y="390.28" width="2.4" height="2.4" fill="#000"/>
<rect x="333.7" y="394.59" width="2.4" height="2.4" fill="#000"/>
<path d="M334.9 436.99L336.1 439.15H333.7Z" fill="#000"/>
<circle cx="332.9" cy="445.74" r="1.05" fill="#fff" stroke="#000" stroke-width="0.55"/>
<path d="M337.4 446.94L338.6 444.78H336.2Z" fill="#000"/>
<rect x="362.9" y="391.35" width="2.4" height="2.4" fill="#000"/>
<rect x="362.9" y="416.15" width="2.4" height="2.4" fill="#000"/>
<path d="M364.1 428.73L365.3 430.89H362.9Z" fill="#000"/>
<circle cx="362.1" cy="445.74" r="1.05" fill="#fff" stroke="#000" stroke-width="0.55"/>
<path d="M366.6 446.94L367.8 444.78H365.4Z" fill="#000"/>
<text x="440.4" y="362.7" font-size="7.3" text-anchor="middle" font-style="italic" fill="#2a86d6">MMP10</text>
<line x1="413.2" y1="373.5" x2="470.4" y2="373.5" stroke="#555" stroke-width="0.7"/>
<text x="441.8" y="374.1" font-size="8.6" text-anchor="middle" fill="#111">**</text>
<line x1="413.2" y1="383.5" x2="439" y2="383.5" stroke="#555" stroke-width="0.7"/>
<text x="426.1" y="384.1" font-size="8.6" text-anchor="middle" fill="#111">*</text>
<line x1="398.5" y1="388.3" x2="398.5" y2="399.5" stroke="#808080" stroke-width="0.7"/>
<line x1="398.5" y1="403.5" x2="398.5" y2="445.5" stroke="#808080" stroke-width="0.7"/>
<line x1="398.5" y1="445.5" x2="487.1" y2="445.5" stroke="#808080" stroke-width="0.7"/>
<line x1="397.2" y1="445.5" x2="398.5" y2="445.5" stroke="#808080" stroke-width="0.6"/>
<text x="396.6" y="447.3" font-size="5.4" text-anchor="end" fill="#111">0.0</text>
<line x1="397.2" y1="435.5" x2="398.5" y2="435.5" stroke="#808080" stroke-width="0.6"/>
<text x="396.6" y="437.2" font-size="5.4" text-anchor="end" fill="#111">0.5</text>
<line x1="397.2" y1="425.5" x2="398.5" y2="425.5" stroke="#808080" stroke-width="0.6"/>
<text x="396.6" y="427.1" font-size="5.4" text-anchor="end" fill="#111">1.0</text>
<line x1="397.2" y1="415.5" x2="398.5" y2="415.5" stroke="#808080" stroke-width="0.6"/>
<text x="396.6" y="417" font-size="5.4" text-anchor="end" fill="#111">1.5</text>
<line x1="397.2" y1="405.5" x2="398.5" y2="405.5" stroke="#808080" stroke-width="0.6"/>
<text x="396.6" y="406.9" font-size="5.4" text-anchor="end" fill="#111">2.0</text>
<line x1="397.2" y1="397.5" x2="398.5" y2="397.5" stroke="#808080" stroke-width="0.6"/>
<text x="396.6" y="399.5" font-size="5.4" text-anchor="end" fill="#111">5</text>
<line x1="397.2" y1="388.5" x2="398.5" y2="388.5" stroke="#808080" stroke-width="0.6"/>
<text x="396.6" y="390.5" font-size="5.4" text-anchor="end" fill="#111">10</text>
<line x1="412.5" y1="445.5" x2="412.5" y2="446.9" stroke="#808080" stroke-width="0.6"/>
<line x1="442.5" y1="445.5" x2="442.5" y2="446.9" stroke="#808080" stroke-width="0.6"/>
<line x1="471.5" y1="445.5" x2="471.5" y2="446.9" stroke="#808080" stroke-width="0.6"/>
<text x="411.5" y="452.4" font-size="5.7" text-anchor="middle" fill="#111" textLength="20.5" lengthAdjust="spacingAndGlyphs">shEGFP</text>
<text x="438.1" y="452.4" font-size="5.7" text-anchor="middle" fill="#111" textLength="29" lengthAdjust="spacingAndGlyphs">shCEMIP#1</text>
<text x="469.7" y="452.4" font-size="5.7" text-anchor="middle" fill="#111" textLength="29" lengthAdjust="spacingAndGlyphs">shCEMIP#2</text>
<text x="0" y="0" font-size="5.5" text-anchor="middle" fill="#111" transform="translate(387.8,417) rotate(-90)">Relative mRNA level</text>
<line x1="403.2" y1="419.5" x2="422.4" y2="419.5" stroke="#666" stroke-width="0.75"/>
<line x1="432.4" y1="432.5" x2="451.6" y2="432.5" stroke="#666" stroke-width="0.75"/>
<line x1="461.6" y1="435.5" x2="480.8" y2="435.5" stroke="#666" stroke-width="0.75"/>
<circle cx="412.8" cy="393.1" r="1.3" fill="#000"/>
<path d="M412.8 409.86L414 412.02H411.6Z" fill="#000"/>
<path d="M412.8 416.3L414 414.14H411.6Z" fill="#000"/>
<rect x="411.6" y="430.06" width="2.4" height="2.4" fill="#000"/>
<path d="M412.8 445.59L414 443.43H411.6Z" fill="#000"/>
<circle cx="442" cy="394.18" r="1.3" fill="#000"/>
<path d="M442 435.11L443.2 437.27H440.8Z" fill="#000"/>
<rect x="438.3" y="441.17" width="2.4" height="2.4" fill="#000"/>
<path d="M443.5 444.58L444.7 442.42H442.3Z" fill="#000"/>
<circle cx="441.5" cy="445" r="1.05" fill="#fff" stroke="#000" stroke-width="0.55"/>
<circle cx="469.2" cy="400.56" r="1.3" fill="#000"/>
<path d="M470.2 440.16L471.4 442.32H469Z" fill="#000"/>
<path d="M467.7 444.58L468.9 442.42H466.5Z" fill="#000"/>
<rect x="472" y="442.18" width="2.4" height="2.4" fill="#000"/>
<circle cx="471.2" cy="444.39" r="1.05" fill="#fff" stroke="#000" stroke-width="0.55"/>
<rect x="28.8" y="351.0" width="133" height="123.5" fill="#fff"/>
<path d="M92 411h0M104 415.5h0M106.5 414h0M83.5 405.5h0M104 411.5h0M87 416.5h0M101 419.5h0M89.5 408.5h0M104.5 397.5h0M94.5 416h0M94 412h0M110.5 407h0M90.5 429.5h0M88 407.5h0M101 407.5h0M93 414h0M93.5 437h0M85.5 421.5h0M85 394h0M96.5 428.5h0M89 410.5h0M91 407h0M90 408.5h0M86 433h0M96 418h0M102.5 421.5h0M101.5 408h0M77 416h0M104 432h0M99.5 408.5h0M100.5 411.5h0M85 401.5h0M101 410h0M92 417.5h0M105 417.5h0M98 415.5h0M78 422h0M89.5 409h0M89.5 403h0M90 409.5h0M104 397h0M127 406.5h0M104.5 415h0M75 401.5h0M107.5 407.5h0M88.5 412.5h0M98 412.5h0M83.5 417.5h0M102.5 419.5h0M99 421h0M83.5 422.5h0M98.5 417.5h0M111.5 423.5h0M102.5 398.5h0M96.5 399h0M105.5 423.5h0M71 418h0M97.5 414h0M103.5 417h0M88 428h0M101.5 417h0M110.5 413.5h0M85 423.5h0M104 407.5h0M100 407h0M100.5 410.5h0M102 399.5h0M92.5 437h0M101.5 414.5h0M94 412.5h0M98 402h0M101 408h0M115 408h0M85.5 430.5h0M92 416.5h0M103 411h0M91 421.5h0M96 411h0M95.5 420.5h0M100.5 392h0M86.5 424.5h0M83 414.5h0M79 416.5h0M87 399h0M99.5 394.5h0M83 413.5h0M119 410.5h0M94.5 428h0M88 408h0M127 407.5h0M91.5 415.5h0M96.5 410h0M114.5 412.5h0M104 417h0M92 410h0M109 406h0M111 407.5h0M99 420h0M88.5 415h0M86 443.5h0M86.5 423.5h0M106 421.5h0M93 403.5h0M94.5 411.5h0M88 403h0M112 426h0M116.5 417h0M113 405.5h0M94.5 414h0M88 408.5h0M87.5 418h0M100.5 398.5h0M92.5 399h0M105 420.5h0M111.5 432.5h0M92.5 416h0M102 420.5h0M98.5 411h0M82.5 404h0M103 409h0M99.5 384h0M78 418h0M87 419.5h0M94.5 417h0M96 410.5h0M99.5 416h0M88 396.5h0M89 418h0M106.5 416h0M88 407h0M100 410h0M96 410h0M95.5 398.5h0M97.5 401h0M99 405.5h0M102.5 419h0M74 406h0M98.5 411.5h0M115.5 406h0M89.5 432.5h0M72 416h0M87.5 412.5h0M111 414.5h0M82.5 404.5h0M92.5 429h0M106.5 406.5h0M93.5 417.5h0M90 413.5h0M97.5 410h0M93 416h0M75 407.5h0M88.5 419h0M80.5 418h0M109.5 421.5h0M103.5 413h0M70.5 406.5h0M98.5 420h0M105.5 418h0M102.5 421h0M75.5 419h0M88 427.5h0M90.5 419.5h0M101 410.5h0M118.5 407.5h0M88.5 423h0M84.5 409.5h0M89.5 412.5h0M90 403h0M102 422.5h0M97 398h0M105 429.5h0M84.5 430h0M106 416.5h0M84.5 434h0M106 424.5h0M90.5 403h0M98 393h0M99.5 423h0M103 410h0M99 415.5h0M105 405.5h0M114.5 409.5h0M108.5 411.5h0M90.5 425.5h0M86 434h0M92.5 418.5h0M97 401.5h0M91 407.5h0M103.5 419h0M95 411.5h0M108.5 422.5h0M97 426.5h0M96 434h0M111 405.5h0M108 408.5h0M95 424h0M98 423.5h0M120.5 410.5h0M92.5 414.5h0M84.5 440h0M101.5 394h0M94 427.5h0M103.5 445h0M98 425h0M93 431h0M109 419h0M93 394h0M90 424.5h0M118 414.5h0M98.5 409h0M96 412.5h0M84.5 405h0M102.5 405h0M106 410.5h0M103.5 418.5h0M89.5 420.5h0M93.5 417h0M109 410.5h0M101 413.5h0M92.5 415.5h0M113.5 422h0M92.5 413h0M99.5 414h0M106 414.5h0M101.5 413.5h0M103 421h0M91 414.5h0M102.5 429h0M88 416.5h0M88.5 414h0M103 407.5h0M85 417.5h0M104.5 424h0M80 412h0M102 390.5h0M116 426.5h0M102.5 426h0M85 429h0M78 405.5h0M107 418h0M98 403h0M90 416.5h0M91 428.5h0M89.5 408h0M80.5 413h0M93 419h0M99 423h0M92.5 410.5h0M107 411.5h0M83 420.5h0M100.5 406.5h0M109 437.5h0M91.5 408.5h0M74.5 410.5h0M85.5 411.5h0M100 407.5h0M70.5 411.5h0M96.5 411.5h0M82 407h0M83 404h0M105.5 403.5h0M90 406h0M96.5 433.5h0M100.5 401h0M113 415h0M80.5 421.5h0M93.5 421h0M86.5 425.5h0M91 430.5h0M101 402.5h0M96 401.5h0M99.5 421.5h0M96.5 416h0M90.5 427h0M89 401h0M92 412.5h0M103 401.5h0M96.5 423h0M121.5 403.5h0M94 425h0M94 410h0M91 422h0M96.5 423.5h0M106 415h0M104.5 407h0M91 406.5h0M78 394h0M86 424h0M71.5 408.5h0M99.5 412.5h0M92 423.5h0M83.5 415h0M93 408.5h0M90.5 422.5h0M103 408.5h0M83.5 409h0M109.5 425.5h0M103 425.5h0M92.5 417h0M98 410h0M104.5 410.5h0M61 421.5h0M89.5 397h0M95.5 413h0M96.5 409.5h0M92.5 407h0M96.5 427.5h0M89 405.5h0M91 415h0M85 434h0M98 417h0M95.5 441h0M105 409h0M83.5 416.5h0M93.5 437.5h0M89.5 423h0M96.5 402.5h0M120 415h0M110 418h0M98 403.5h0M79 407h0M108.5 420h0M109 410h0M103 397h0M116.5 417.5h0M88.5 421.5h0M88 419.5h0M87.5 415h0M95.5 409h0M94.5 388.5h0M103 421.5h0M101 416.5h0M98.5 418h0M95 423.5h0M87 407h0M105.5 413h0M96 428.5h0M99.5 408h0M111.5 408h0M115.5 420h0M94.5 415.5h0M82.5 418.5h0M102.5 417.5h0M93 423.5h0M112 405h0M87 428.5h0M90 427h0M76.5 396.5h0M91 424.5h0M92.5 410h0M86.5 429h0M93.5 412.5h0M95.5 428.5h0M69.5 410h0M85 420h0M79 404h0M104.5 403.5h0M84 413.5h0M96.5 406.5h0M96 409h0M105 418.5h0M105.5 404h0M96.5 426.5h0M101 421.5h0M65.5 412h0M86.5 420.5h0M81.5 405h0M99 392.5h0M84 404h0M98 419h0M86 411.5h0M90.5 410.5h0M116.5 420h0M80.5 418.5h0M92.5 414h0M88 427h0M103 406.5h0M94 434h0M88 430h0M95 393.5h0M105.5 419.5h0M90.5 403.5h0M86.5 428.5h0M85 413h0M98 404h0M99 416h0M98.5 407h0M98.5 416.5h0M90 402h0M85.5 410h0M89 423.5h0M82 415.5h0M88 421.5h0M85 414h0M87 406h0M97 396h0M103.5 415.5h0M98 422.5h0M115.5 412.5h0M91 410h0M86 425h0M84.5 424.5h0M91 408.5h0M87 426.5h0M98 411.5h0M101 419h0M88 426.5h0M88 414.5h0M82.5 396.5h0M77 406.5h0M90.5 427.5h0M94.5 406h0M93.5 413.5h0M111.5 420.5h0M114 423.5h0M96.5 421.5h0M103 424.5h0M87.5 436.5h0M99 428h0M94 418h0M90.5 409h0M101 420h0M91 421h0M87 422.5h0M93.5 444h0M90.5 404.5h0M104 414h0M108 418h0M74 400h0M92 432h0M106 406h0M91.5 429h0M94 400h0M89 424.5h0M117.5 410h0M119 418.5h0M92 425h0M75 407h0M92.5 432.5h0M77 415.5h0M108 421.5h0M99.5 443.5h0M95.5 409.5h0M100.5 438h0M100 417h0M91.5 413h0M108.5 407h0M84 419.5h0M85 393.5h0M72 401.5h0M85 420.5h0M101 414h0M90.5 423.5h0M108 415.5h0M102 417.5h0M88 405h0M87 414h0M90.5 416.5h0M98 413.5h0M95.5 427.5h0M105.5 407.5h0M100 404.5h0M92.5 398.5h0M120 418h0M117.5 417h0M86.5 406.5h0M88 394h0M91.5 416.5h0M65 410h0M86 413h0M109 412.5h0M101.5 419h0M94.5 412h0M97 412.5h0M82 411.5h0M105.5 412.5h0M89 418.5h0M107 404h0M90 410.5h0M102 408h0M96 443.5h0M96 408h0M104.5 413.5h0M95 412.5h0M110 423h0M102.5 416.5h0M98 405.5h0M81 414.5h0M92 402h0M74 419h0M89.5 406h0M102.5 409.5h0M87.5 407.5h0M85.5 424.5h0M103 416h0M92.5 419h0M75 409.5h0M106.5 421.5h0M114.5 412h0M95.5 392h0M104.5 424.5h0M78 412.5h0M95.5 407.5h0M79 413h0M73.5 419.5h0M94.5 418.5h0M88.5 425h0M92 394.5h0M86.5 419h0M77 417h0M110.5 431.5h0M104.5 408.5h0M102.5 401h0M87 429h0M89.5 388.5h0M108.5 415.5h0M89 413h0M95 400.5h0M106.5 413h0M86.5 410.5h0M73 395.5h0M90.5 397h0M96 413h0M80.5 415.5h0M104.5 409.5h0M85 415h0M72.5 415.5h0M104.5 423.5h0M117 408.5h0M86 435.5h0M97 413h0M92.5 440.5h0M86 410h0M89 408h0M101 389h0M95.5 402.5h0M113 430.5h0M100 403.5h0M103 424h0M66.5 418h0M96 414.5h0M103 390h0M93.5 394.5h0M85 411h0M87.5 415.5h0M112 412.5h0M99.5 418h0M117 406h0M114 418.5h0M120.5 408h0M87 444h0M99 412.5h0M116 408h0M89 415h0M115.5 404h0M85 415.5h0M96 402.5h0M103 430h0M94 407h0M117 419.5h0M91.5 405.5h0M96.5 443.5h0M75.5 416h0M100.5 396.5h0M121.5 420h0M84 438.5h0M68 419.5h0M101.5 420h0M97 412h0M85.5 405.5h0M104.5 406.5h0M95.5 430.5h0M107.5 417.5h0M80.5 404.5h0M112 410h0M95 391h0M96 401h0M91.5 404.5h0M89.5 414.5h0M93 423h0M112 418.5h0M110 416.5h0M90 411.5h0M97.5 398.5h0M86.5 400.5h0M97.5 387.5h0M123 422h0M103 400.5h0M88 417h0M107 427h0M96 391.5h0M99.5 399.5h0M102 412h0M93 403h0M101 401.5h0M87.5 406h0M96 413.5h0M110 409h0M107.5 404.5h0M92.5 404h0M93.5 390h0M75.5 408h0M75 413h0M91 406h0M70 416h0M84.5 413h0M87.5 431h0M97.5 423h0M106 409h0M94.5 410.5h0M101.5 426.5h0M90 423.5h0M104 428h0M63.5 403.5h0M104.5 386h0M92 418h0M90.5 435.5h0M81 406h0M100 413.5h0M97 417h0M86.5 436h0M96 430.5h0M88.5 421h0M108.5 403.5h0M88.5 437h0M93.5 392.5h0M81 405h0M98.5 422h0M85 405h0M95 414h0M84.5 395h0M103.5 420h0M93.5 403h0M89.5 421h0M101 405.5h0M90.5 425h0M81 410h0M88 420h0M92 404.5h0M95 415h0M101 412.5h0M87 432h0M91 400.5h0M84 409h0M113.5 408h0M110 408.5h0M90 412h0M100.5 404h0M101.5 406h0M101.5 401h0M92.5 427.5h0M87.5 404h0M98 406.5h0M111 406.5h0M82.5 394.5h0M102.5 411.5h0M100 428h0M96.5 412h0M114 423h0M89 425h0M100.5 409.5h0M93.5 408h0M114 404.5h0M90.5 415.5h0M102.5 412.5h0M103 404h0M91.5 432h0M92.5 403.5h0M122.5 407h0M101.5 412.5h0M110.5 426.5h0M101 427h0M104 408h0M116.5 408.5h0M104.5 402h0M84.5 416h0M100 400.5h0M104.5 383.5h0M83 410.5h0M83.5 407h0M91 405h0M102 395h0M94.5 424.5h0M112.5 428h0M93.5 424.5h0M100.5 433.5h0M89.5 422h0M82.5 393h0M108 408h0M105 416h0M69.5 416h0M115 415.5h0M74.5 419.5h0M77.5 415h0M104 404.5h0M119 406h0M94.5 401.5h0M103.5 397.5h0M85 431h0M94 398.5h0M102 421h0M104 413.5h0M91 415.5h0M78 421.5h0M82.5 420h0M89 427.5h0M96.5 397h0M122 414h0M90.5 428.5h0M108.5 418h0M116.5 405.5h0M95 407h0M114.5 406.5h0M94.5 385.5h0M101 402h0M81.5 407h0M91 402h0M93 398h0M75.5 401h0M97.5 422h0M97 428h0M74 418h0M105 410.5h0M92.5 415h0M99.5 399h0M100.5 410h0M101 423.5h0M90.5 420.5h0M111.5 414h0M103 398h0M103.5 402h0M76 418.5h0M97 395h0M82.5 410h0M85 406h0M86.5 416h0M90.5 414h0M89 427h0M81 398.5h0M107.5 417h0M104 407h0M93.5 429h0M86.5 418h0M115.5 424h0M84.5 416.5h0M109.5 416h0M73.5 416h0M93 402.5h0M97.5 410.5h0M95.5 412h0M98 413h0M100 408h0M84.5 394.5h0M77.5 399.5h0M92 417h0M89 414.5h0M95.5 426.5h0M91 433.5h0M109 417.5h0M94 415h0M104 413h0M77.5 410h0M94.5 405.5h0M105 403.5h0M99 397.5h0M93 418.5h0M105 392.5h0M93 417h0M75.5 416.5h0M68.5 421.5h0M111 412h0M104.5 409h0M116.5 406h0M91 427h0M89.5 424h0M100.5 418.5h0M84 418h0M100.5 407.5h0M105 397.5h0M71.5 398.5h0M110 426.5h0M100 405h0M113.5 404.5h0M95.5 407h0M103 416.5h0M91 425h0M110 415.5h0M97 400.5h0M90.5 423h0M101 422h0M73 421h0M106 426h0M87.5 430.5h0M96.5 411h0M102.5 426.5h0M75 415.5h0M96.5 420.5h0M97 417.5h0M101 404h0M110.5 406h0M95 420.5h0M85.5 398h0M80 417.5h0M85.5 416h0M84 439h0M108 418.5h0M93.5 406h0M97.5 415h0M107.5 424h0M93.5 414h0M109 412h0M93 387h0M95 389h0M91.5 421.5h0M97.5 394h0M85 437.5h0M89 403.5h0M75.5 405h0M95.5 403.5h0M90 387h0M119 418h0M101.5 418.5h0M93.5 434.5h0M75.5 420h0M101.5 416.5h0M93 407.5h0M85 419.5h0M89.5 427h0M104.5 425h0M86 420.5h0M89.5 401.5h0M110 437h0M105.5 422h0M64.5 410h0M99 407h0M94 408h0M91.5 393h0M77.5 421.5h0M109 407h0M93.5 433h0M85 414.5h0M85.5 416.5h0M82 419h0M92 444h0M84 428.5h0M105 415.5h0M97 402.5h0M97.5 388.5h0M94 417.5h0M107.5 410h0M109.5 404h0M96 414h0M102 402.5h0M110.5 419h0M121.5 407.5h0M93.5 425.5h0M99 417.5h0M82.5 405.5h0M95.5 399h0M113.5 408.5h0M69.5 403h0M96.5 396.5h0M101 422.5h0M99 411.5h0M86 394h0M96 420h0M86 409.5h0M89.5 412h0M104 432.5h0M62.5 415.5h0M77 418h0M107 407.5h0M91.5 428.5h0M111 423h0M95.5 410.5h0M107 409.5h0M86 441h0M66.5 413.5h0M97 421h0M82.5 415.5h0M88 436h0M86 428h0M104.5 416.5h0M65 417.5h0M100.5 422.5h0M103.5 401.5h0M106 416h0M84.5 424h0M96.5 409h0M101.5 415h0M97 407.5h0M85.5 420.5h0M95 392.5h0M89.5 427.5h0M92.5 426.5h0M85.5 426.5h0M105 406.5h0M100.5 403.5h0M129 428.5h0M108.5 425h0M83 409h0M95 418.5h0M97.5 412h0M94 396h0M92.5 408.5h0M84.5 420.5h0M107 410h0M85.5 401h0M80 422h0M80 394.5h0M86.5 414h0M107.5 419.5h0M104 396h0M109 418h0M76.5 416h0M88.5 405.5h0M84 416h0M87 411.5h0M89 435h0M110 416h0M94.5 416.5h0M92.5 421h0M84.5 421h0M98 410.5h0M95 408.5h0M110 417.5h0M94 429h0M84.5 418h0M106 412h0M100 395.5h0M96 406.5h0M102 405h0M107.5 414.5h0M90 413h0M103 414.5h0M69.5 404.5h0M95 407.5h0M111 432.5h0M99 418.5h0M103.5 406h0M97.5 418h0M105.5 420.5h0M90.5 406h0M82.5 409h0M71.5 414.5h0M85 425.5h0M90.5 415h0M90 415h0M118.5 417h0M117 417.5h0M94 413.5h0M85.5 422h0M63.5 420h0M98 393.5h0M87 415.5h0M91 427.5h0M106.5 411.5h0M102.5 405.5h0M89.5 419.5h0M105.5 428.5h0M106.5 407.5h0M99 417h0M86 423.5h0M94 413h0M91.5 423.5h0M81.5 412.5h0M82.5 421h0M85 422h0M104 382.5h0M103.5 416h0M83 397.5h0M122.5 414.5h0M115.5 421h0M77 408h0M103.5 385h0M81.5 393h0M92 419h0M79.5 422h0M94.5 402.5h0M113.5 418h0M97.5 404.5h0M120 404h0M103.5 410.5h0M85 407h0M95 405h0M97.5 426h0M99.5 421h0M80.5 422h0M105 421h0M99.5 419h0M95 398.5h0M92 424.5h0M85.5 427.5h0M105 407.5h0M84 402h0M84 412h0M72.5 402h0M101.5 422.5h0M85 429.5h0M121 427.5h0M78.5 419h0M79 416h0M91.5 427.5h0M101.5 425h0M92.5 418h0M99 401.5h0M111 418h0M91 390.5h0M83.5 416h0M87 410h0M110 413h0M76 417.5h0M89.5 417h0M96.5 429.5h0M94.5 415h0M103.5 399.5h0M97.5 416h0M102 425.5h0M91.5 410h0M83.5 410h0M118 408.5h0M88.5 413h0M96.5 398.5h0M83 417.5h0M91 432.5h0M96.5 389.5h0M89 396.5h0M84 417h0M82.5 411h0M83.5 414h0M101.5 397h0M88.5 406.5h0M80.5 420h0M112.5 405h0M91.5 421h0M62 403.5h0M81.5 417h0M108 407h0M109 404.5h0M110 405h0M119 405.5h0M89.5 417.5h0M76.5 418h0M92.5 405.5h0M90.5 383.5h0M84.5 427.5h0M102.5 398h0M86.5 421h0M91.5 402h0M102.5 400h0M106 412.5h0M98 424h0M98 426.5h0M98 428h0M89.5 430.5h0M106.5 414.5h0M92 421h0M109.5 403.5h0M89.5 398.5h0M89.5 418h0M112.5 415.5h0M94 408.5h0M87.5 417.5h0M100.5 421.5h0M109 406.5h0M107 417.5h0M91.5 420h0M104 401.5h0M72.5 417.5h0M86.5 434.5h0M88.5 419.5h0M86 403.5h0M109.5 411h0M81.5 417.5h0M92.5 431.5h0M87.5 439.5h0M87.5 428h0M94.5 400h0M102.5 404.5h0M89.5 428h0M95 400h0M104 402.5h0M79.5 390h0M93 427h0M94.5 399.5h0M105 413h0M97 413.5h0M88.5 429h0M110.5 425h0M101 394.5h0M90.5 424h0M82.5 421.5h0M86.5 417h0M89 393.5h0M92 416h0M91 409h0M110 409.5h0M94.5 409.5h0M74.5 409h0M84 411.5h0M94.5 402h0M96.5 417.5h0M105.5 412h0M100.5 431h0M88 397h0M101 430.5h0M90 457h0M68.5 419.5h0M87.5 424.5h0M98 422h0M89.5 404h0M103.5 422.5h0M107 408.5h0M85.5 424h0M108.5 414.5h0M81.5 414h0M94 417h0M91 417.5h0M87.5 403.5h0M114.5 419.5h0M95.5 429.5h0M106 411h0M107.5 423h0M107 421h0M78.5 400.5h0M84.5 415.5h0M76.5 417h0M98.5 392.5h0M82 413h0M100 425.5h0M91.5 389.5h0M103.5 424h0M94 419h0M130.5 406.5h0M97 414h0M87 412.5h0M112 411h0M108.5 418.5h0M83 396h0M118 411.5h0M99 424.5h0M110 404h0M90 407.5h0M88.5 420h0M85 422.5h0M97 431h0M103.5 391h0M99.5 415h0M88 400h0M89 408.5h0M86.5 440h0M88 418h0M91.5 422.5h0M99.5 417.5h0M102 406.5h0M99 391.5h0M97.5 402h0M92.5 411.5h0M97.5 418.5h0M78 401.5h0M98.5 424h0M90.5 385h0M81.5 396.5h0M88.5 418.5h0M91.5 413.5h0M96 420.5h0M105.5 414.5h0M93.5 407.5h0M85 424h0M93.5 421.5h0M77.5 403.5h0M92.5 386.5h0M92.5 405h0M102.5 420.5h0M80 419.5h0M81 413.5h0M118.5 406.5h0M97 416.5h0M103.5 413.5h0M110.5 414h0M89 422.5h0M96.5 415.5h0M95 393h0M71.5 402.5h0M103 405.5h0M88 424h0M91 412h0M82.5 422h0M96 415h0M82 413.5h0M90.5 411h0M98 397.5h0M77.5 408.5h0M87 408.5h0M74 421.5h0M102 407.5h0M82 412h0M83.5 396h0M99 411h0M102.5 414.5h0M90.5 417.5h0M91 420h0M95 398h0M81.5 403h0M81 416h0M90.5 414.5h0M97.5 402.5h0M99 390h0M91.5 412h0M57 418.5h0M94.5 397h0M85.5 417.5h0M90 418.5h0M81.5 409.5h0M82 420h0M77.5 406h0M90 419h0M105.5 405.5h0M103.5 401h0M108 428h0M89 409.5h0M100.5 420.5h0M115 406h0M111 404h0M104.5 404h0M97.5 423.5h0M75 419.5h0M89.5 401h0M85.5 400.5h0M93 426.5h0M115 411.5h0M98.5 414.5h0M91.5 397.5h0M90.5 438h0M93 424h0M117 404h0M108.5 412.5h0M72.5 418h0M100 422h0M101 416h0M93 420.5h0M100 419h0M86 399.5h0M111 408h0M102 414.5h0M94.5 405h0M92 442.5h0M94.5 412.5h0M90 403.5h0M100 408.5h0M88.5 405h0M93 412h0M103 418.5h0M111 410h0M98.5 419.5h0M103 400h0M103.5 429h0M87 405.5h0M88.5 407h0M72 403h0M103.5 403.5h0M87.5 419.5h0M103 397.5h0M75.5 419.5h0M88 415.5h0M95.5 418h0M62.5 417h0M95 406.5h0M87 403h0M95.5 410h0M99 398h0M97 402h0M84.5 408h0M86.5 407h0M98.5 399.5h0M95 409.5h0M86.5 408.5h0M99.5 389.5h0M97.5 385h0M114 418h0M98 409h0M97.5 419h0M90 396h0M112.5 406h0M99 414.5h0M94.5 448.5h0M85.5 412.5h0M110.5 404.5h0M77.5 408h0M116 412h0M73 414.5h0M115 422.5h0M101.5 411.5h0M69 420.5h0M96.5 412.5h0M101.5 409.5h0M96.5 406h0M104.5 406h0M85.5 403.5h0M86 416.5h0M98 415h0M82 419.5h0M107 420.5h0M80.5 416.5h0M98.5 393h0M96.5 405h0M97 422.5h0M116.5 419h0M117.5 413.5h0M90 417.5h0M83 421h0M93.5 405h0M99.5 422.5h0M115.5 422.5h0M99 414h0M94.5 424h0M99 430.5h0M82 398h0M101.5 400h0M74 420.5h0M101.5 389h0M83 415.5h0M112 410.5h0M93 413h0M101.5 403h0M86.5 418.5h0M121 414h0M100.5 412.5h0M95.5 401h0M94 411.5h0M101 420.5h0M88.5 398h0M88 421h0M84.5 417.5h0M88.5 417.5h0M104 406h0M95.5 397h0M88 419h0M73 390.5h0M96 405.5h0M104.5 423h0M92 420.5h0M109 418.5h0M106.5 421h0M110 404.5h0M95.5 398h0M91.5 426h0M100 419.5h0M94 433h0M96.5 394.5h0M98.5 412.5h0M101 424h0M87 421.5h0M95 422h0M95 423h0M81.5 420h0M110 436h0M88.5 424h0M96 415.5h0M77 412h0M107.5 411.5h0M87.5 434h0M95 397.5h0M89.5 440h0M69 411h0M104 414.5h0M117 425h0M93 415h0M94.5 404.5h0M101 384h0M87.5 406.5h0M108 407.5h0M111.5 410.5h0M91 431h0M72 412.5h0M81.5 416h0M76 411h0M63 414.5h0M93.5 430h0M92 431h0M99 431.5h0M101.5 404h0M117.5 421.5h0M88 414h0M100.5 397.5h0M110 410h0M84.5 447.5h0M79.5 415h0M93 422h0M82 410.5h0M106.5 415h0M101 401h0M103 423.5h0M102.5 412h0M107.5 415h0M88.5 416.5h0M95 420h0M99.5 411h0M95.5 402h0M103.5 411.5h0M97.5 401.5h0M113 417h0M94 424h0M74.5 420h0M101.5 407.5h0M93.5 389h0M79 409.5h0M114 421.5h0M103.5 410h0M112.5 420.5h0M88.5 411.5h0M105 419.5h0M112 412h0M86 410.5h0M88 412.5h0M100.5 408.5h0M89.5 425h0M107.5 423.5h0M87.5 420h0M95 424.5h0M85 426.5h0M83 408.5h0M86.5 430h0M91 410.5h0M90.5 408h0M99 409.5h0M74 415.5h0M77 414h0M94 418.5h0M86.5 397.5h0M104 416.5h0M75.5 407.5h0M84 406.5h0M102.5 411h0M102.5 406.5h0M86 440h0M86.5 437h0M90 405.5h0M86 418h0M84 386.5h0M99 393h0M105 408.5h0M90 433h0M92 428h0M91.5 426.5h0M69.5 421.5h0M100.5 409h0M95 434h0M96 431h0M117 414h0M97.5 419.5h0M101 437h0M77 400.5h0M98 408.5h0M94.5 425h0M86.5 407.5h0M89.5 413h0M82.5 405h0M89.5 422.5h0M94.5 426.5h0M94 429.5h0M97 406.5h0M100 415h0M106.5 420h0M84.5 417h0M90.5 401.5h0M102.5 416h0M103 395.5h0M85.5 407.5h0M99.5 404.5h0M79 415h0M94 394.5h0M107 414h0M107.5 420h0M92 411.5h0M92 407.5h0M97.5 409.5h0M94 411h0M122.5 404h0M93.5 407h0M103 419h0M107.5 405.5h0M90 414.5h0M95.5 414h0M87 418.5h0M108 413h0M100 413h0M94.5 409h0M104.5 399.5h0M86 408.5h0M86.5 409h0M86 412.5h0M104.5 384h0M104.5 414.5h0M99.5 422h0M91.5 424h0M74.5 415.5h0M112.5 413.5h0M68.5 412.5h0M104 420h0M86.5 416.5h0M67 406h0M84 418.5h0M90 438h0M95.5 401.5h0M84 399h0M95 428h0M80 406h0M89.5 431h0M96 424.5h0M94.5 386.5h0M85.5 403h0M85 413.5h0M95.5 411.5h0M78 407h0M92 398.5h0M95 405.5h0M93 404.5h0M105 422h0M85 411.5h0M95 413.5h0M109 415.5h0M102.5 404h0M76.5 415.5h0M97 398.5h0M73.5 401.5h0M97.5 396.5h0M99.5 406.5h0M107.5 406h0M95.5 405.5h0M86 425.5h0M110 418.5h0M101 435.5h0M127.5 407.5h0M94.5 407.5h0M110.5 427.5h0M87.5 401h0M99.5 409.5h0M104 409h0M86 427h0M129 420h0M115.5 418.5h0M103 432h0M82.5 419.5h0M96.5 400h0M96.5 430.5h0M113 406h0M95.5 417h0M92 426.5h0M77.5 405.5h0M100 406.5h0M86.5 431.5h0M111.5 410h0M87 414.5h0M75.5 422h0M88 410h0M113.5 418.5h0M100 416h0M100 397h0M96 405h0M95.5 404h0M95 416h0M85.5 421h0M84 414h0M98 414h0M95.5 419h0M83.5 401h0M89.5 418.5h0M81 408h0M105 426.5h0M117 411.5h0M98.5 401h0M120 405.5h0M92.5 395h0M98.5 391h0M100.5 416h0M90.5 408.5h0M87.5 407h0M92.5 416.5h0M101 423h0M90 416h0M86.5 390.5h0M111.5 407h0M108 427h0M115 413h0M83.5 409.5h0M78.5 414.5h0M93.5 422h0M88.5 428h0M86 420h0M91 397.5h0M97 423h0M103.5 395.5h0M99.5 405.5h0M118 408h0M90.5 419h0M83 403.5h0M79 419.5h0M93.5 418.5h0M104 417.5h0M69 414.5h0M102.5 400.5h0M95 406h0M77 404.5h0M81.5 395.5h0M107.5 406.5h0M103.5 419.5h0M107 414.5h0M104.5 400h0M100 430h0M90 422.5h0M113 415.5h0M84 422.5h0M93.5 414.5h0M102 433h0M103.5 438.5h0M81 400.5h0M75.5 413.5h0M106 422.5h0M101 396h0M92 427.5h0M62.5 417.5h0M82 400.5h0M80.5 395h0M91.5 411.5h0M85.5 422.5h0M83.5 422h0M100.5 401.5h0M100.5 430h0M93.5 412h0M103.5 408h0M74 411.5h0M110.5 420h0M87.5 419h0M106.5 410.5h0M93 410.5h0M89 394.5h0M109 403.5h0M103 422.5h0M83 398.5h0M92.5 412h0M118 412h0M102.5 385h0M105 409.5h0M99 395.5h0M97.5 407h0M85 427.5h0M91.5 406.5h0M81 415h0M80.5 401.5h0M100 387h0M99.5 426h0M96 427.5h0M108.5 414h0M118.5 406h0M92 426h0M95.5 430h0M88.5 426h0M95.5 408h0M52.5 400.5h0M96.5 395.5h0M101.5 424h0M105 410h0M119 406.5h0M86 414h0M98 404.5h0M70.5 421h0M68 417.5h0M83.5 408h0M79.5 395.5h0M92 418.5h0M97.5 426.5h0M104 423h0M113 412h0M100.5 399h0M99.5 395.5h0M83 417h0M87.5 425h0M96 423.5h0M113 413.5h0M100 395h0M100 424.5h0M99 425.5h0M104 396.5h0M96 429.5h0M96.5 399.5h0M78 420.5h0M102 407h0M97 396.5h0M102.5 389.5h0M93.5 416.5h0M99.5 411.5h0M107 404.5h0M104.5 386.5h0M96.5 422h0M100.5 414h0M99.5 388.5h0M87 400h0M81.5 410h0M81 412.5h0M101 418.5h0M83 416h0M90.5 447.5h0M88.5 404.5h0M92.5 394.5h0M77.5 421h0M89.5 415.5h0M87 420h0M89.5 413.5h0M95.5 391.5h0M93.5 419.5h0M82 395h0M111.5 405.5h0M84 416.5h0M100.5 417h0M101.5 430.5h0M100 410.5h0M107.5 410.5h0M79.5 419h0M64.5 412h0M95 409h0M123 433h0M73.5 418h0M87.5 400h0M92.5 393.5h0M99 413.5h0M97.5 417.5h0M78 420h0M103.5 405h0M91 400h0M87.5 421.5h0M80.5 417.5h0M85.5 409.5h0M80.5 403h0M90 405h0M89.5 415h0M101.5 412h0M102 419h0M96.5 391.5h0M97 410.5h0M93 399.5h0M86 424.5h0M104 401h0M93 427.5h0M133 404.5h0M94.5 393h0M81 401.5h0M115 424.5h0M89.5 424.5h0M84.5 401h0M100.5 417.5h0M94.5 422h0M75 421h0M89 410h0M87.5 424h0M96 425.5h0M105.5 407h0M94 403h0M98 402.5h0M86.5 426h0M79 421.5h0M101.5 409h0M89.5 410.5h0M92.5 419.5h0M90.5 411.5h0M103.5 405.5h0M97.5 399.5h0M104.5 426h0M103 420h0M97.5 408.5h0M77.5 415.5h0M90.5 392.5h0M80 415h0M96 399h0M94.5 421h0M76.5 416.5h0M79 412.5h0M89.5 436.5h0M106.5 413.5h0M82 405.5h0M96 426.5h0M89 404h0M105.5 427h0M96.5 425h0M106.5 408h0M87 431.5h0M87 396h0M86.5 401.5h0M96 409.5h0M91.5 403.5h0M100 409.5h0M98.5 443h0M103 394h0M89 432h0M88.5 418h0M81.5 407.5h0M79 410.5h0M97.5 427h0M88 413h0M97.5 389.5h0M102 403h0M90 434.5h0M98 400.5h0M86 389.5h0M73.5 407.5h0M98.5 398h0M99 399h0M114.5 407.5h0M115 411h0M89 411h0M94.5 400.5h0M80.5 399h0M86 404.5h0M99 402h0M109 420h0M115.5 419h0M74.5 416.5h0M77.5 418.5h0M109 414h0M102 398h0M95 432.5h0M107 415.5h0M107.5 429h0M84 407.5h0M99.5 419.5h0M97 411h0M69.5 417h0M103 406h0M101 417h0M83.5 421h0M102 416.5h0M82.5 414.5h0M95 438h0M93.5 415.5h0M98 416.5h0M76 386h0M112.5 419.5h0M106.5 405h0M105.5 406.5h0M97.5 409h0M76.5 403.5h0M97 403.5h0M95 426.5h0M91.5 414h0M75.5 417.5h0M95 410h0M88 411h0M87 410.5h0M93 415.5h0M98.5 408.5h0M99.5 396h0M64.5 421.5h0M90 432.5h0M85.5 434h0M98 396.5h0M99.5 401h0M102 409.5h0M95.5 415h0M99 426h0M91 393.5h0M94.5 437h0M104.5 396h0M98.5 393.5h0M80.5 410.5h0M89 411.5h0M98 414.5h0M101.5 401.5h0M81.5 420.5h0M98.5 432h0M94 422.5h0M109 409h0M76.5 421.5h0M110.5 412h0M98 416h0M90 440h0M71 409h0M102 412.5h0M109.5 405h0M123 406.5h0M105.5 417h0M82 421.5h0M95 402.5h0M104 430h0M101.5 411h0M93.5 400.5h0M112 404h0M97.5 382.5h0M91.5 398h0M106 413h0M92.5 421.5h0M99 392h0M124 407h0M97.5 431.5h0M105 412.5h0M91.5 404h0M88.5 422h0M95 404h0M87.5 399.5h0M101.5 427.5h0M97 428.5h0M98.5 414h0M77 415h0M84.5 438h0M75.5 418h0M91.5 443h0M97.5 405.5h0M76 409.5h0M96.5 430h0M80 401.5h0M71 394h0M94.5 417.5h0M101.5 400.5h0M112.5 414h0M87 417.5h0M89.5 419h0M95.5 419.5h0M83.5 413.5h0M88.5 407.5h0M66.5 418.5h0M93 416.5h0M98.5 430.5h0M85 416h0M101 428h0M88.5 429.5h0M82 409.5h0M102.5 399h0M113 406.5h0M89 424h0M81 418h0M115.5 419.5h0M89.5 414h0M107.5 413h0M99.5 410.5h0M112 415h0M93 406h0M99 407.5h0M105.5 419h0M93.5 404.5h0M109.5 418h0M91.5 423h0M81 421.5h0M80 416.5h0M90 417h0M74 400.5h0M102 404h0M97 408.5h0M98.5 423h0M87 433h0M86 421h0M95.5 396.5h0M90.5 418h0M98 408h0M112.5 414.5h0M117 421h0M94.5 414.5h0M85 391.5h0M88.5 402h0M110.5 406.5h0M88 425.5h0M73.5 413h0M85 412.5h0M64 422h0M72.5 410.5h0M89.5 416.5h0M93 425.5h0M101.5 410.5h0M69.5 413h0M75 420h0M73 417.5h0M92.5 417.5h0M94 440.5h0M78.5 409.5h0M86 398.5h0M109 416h0M88.5 385.5h0M99.5 405h0M117 408h0M99 403h0M105.5 420h0M111 426h0M84 400h0M82 410h0M108.5 417h0M102 410h0M67 414.5h0M98.5 413.5h0M103.5 388.5h0M106 403.5h0M103 411.5h0M75 403.5h0M84.5 406.5h0M99 438h0M112.5 421.5h0M93.5 426h0M97 409.5h0M101.5 407h0M85 402.5h0M80.5 412h0M68 413h0M107 423.5h0M74 417.5h0M95 427.5h0M106 421h0M84.5 422.5h0M93 411.5h0M104 386.5h0M97.5 416.5h0M95 415.5h0M87 409.5h0M87.5 416.5h0M86 419.5h0M90.5 410h0M100.5 387h0M99.5 394h0M92 414h0M77.5 419.5h0M103.5 425h0M96.5 408h0M95 412h0M104 424h0M81 421h0M80.5 407.5h0M108 412.5h0M102 427.5h0M102.5 407.5h0M100.5 414.5h0M77 418.5h0M113 440.5h0M103 414h0M92 421.5h0M90 433.5h0M101.5 402h0M104 399.5h0M86 444h0M97.5 414.5h0M88 403.5h0M95.5 426h0M88.5 438h0M85.5 419.5h0M81 422h0M96 418.5h0M100.5 427h0M101 394h0M97 388h0M94 409h0M86 406h0M72 418.5h0M91 418.5h0M104.5 391h0M75 414.5h0M84 408h0M104 427h0M105 414.5h0M93 412.5h0M91 414h0M98 445h0M92.5 409.5h0M91 432h0M83 412h0M112.5 420h0M97 390.5h0M96.5 437.5h0M114.5 403.5h0M89 407.5h0M87.5 403h0M87.5 395h0M83.5 418h0M112.5 403.5h0M92.5 427h0M93 419.5h0M113.5 407h0M84.5 412h0M90 425h0M110.5 431h0M107.5 414h0M85.5 402.5h0M90 434h0M104.5 417h0M103 422h0M85.5 435.5h0M105.5 408h0M101 406h0M91.5 414.5h0M100 406h0M129.5 415.5h0M107.5 422.5h0M112.5 410h0M95 419h0M118.5 409h0M72 411h0M94.5 411h0M89.5 446h0M88 413.5h0M99.5 413.5h0M96 427h0M95 421.5h0M100 421.5h0M108.5 409.5h0M106.5 423.5h0M113.5 415h0M115.5 414h0M89.5 395.5h0M102 416h0M94 438h0M81.5 413h0M74.5 403.5h0M110 412.5h0M112.5 416h0M104 426.5h0M91 399h0M102 403.5h0M94 421h0M86.5 404.5h0M102.5 427.5h0M101 393.5h0M110.5 405h0M84 409.5h0M109.5 429h0M93 394.5h0M92 412h0M82 412.5h0M100 400h0M112 408h0M82 416h0M114 411.5h0M96 435.5h0M100.5 419h0M86 402h0M77.5 418h0M107.5 412h0M78.5 413.5h0M110 417h0M106.5 422h0M99.5 396.5h0M122 407.5h0M87.5 422.5h0M116 418h0M115.5 409.5h0M99.5 420h0M117 417h0M103 399.5h0M96 422h0M91 404h0M94.5 407h0M100 402.5h0M104.5 395h0M84.5 411h0M109 405.5h0M91.5 401h0M89.5 397.5h0M87 421h0M88 398.5h0M75 410.5h0M78 421h0M89 420h0M110 411h0M78.5 413h0M88.5 432.5h0M107.5 415.5h0M112.5 417.5h0M89 405h0M99 427h0M90 410h0M93.5 416h0M74 417h0M86.5 438.5h0M90.5 420h0M88 404h0M96 408.5h0M102 392.5h0M97.5 415.5h0M111 415.5h0M89 417h0M81 404.5h0M106 407.5h0M94 393.5h0M100.5 395h0M104.5 433h0M111.5 418.5h0M95 399h0M95.5 420h0M111.5 416h0M80 398.5h0M98.5 402.5h0M94 402h0M92.5 422.5h0M96.5 419.5h0M96 407h0M115.5 424.5h0M101 415h0M100 401.5h0M95.5 404.5h0M88 424.5h0M103.5 404.5h0M111.5 425h0M107.5 418h0M69.5 419h0M92 407h0M108 406.5h0M76.5 407.5h0M102.5 418h0M88 406.5h0M84 421.5h0M121 427h0M87.5 411h0M109.5 405.5h0M105 429h0M102.5 394.5h0M93.5 410.5h0M92.5 423h0M77 414.5h0M80.5 409.5h0M93.5 401h0M105 423h0M84.5 407.5h0M83.5 419h0M106 420h0M99 394h0M89.5 392.5h0M104.5 399h0M104.5 401.5h0M78 409.5h0M93.5 401.5h0M94 414h0M90.5 449.5h0M115.5 416h0M89 412.5h0M87 413.5h0M106 405h0M102.5 399.5h0M108.5 407.5h0M72.5 397.5h0M89.5 404.5h0M117.5 423.5h0M90.5 433.5h0M106 420.5h0M109 404h0M96.5 403.5h0M97.5 408h0M88.5 411h0M92 414.5h0M89 394h0M93.5 403.5h0M100 377h0M106.5 418h0M76 401h0M89 400h0M81 397h0M87.5 402h0M108 410h0M93.5 423.5h0M91 413.5h0M104.5 411h0M103.5 407h0M104 418h0M71.5 411h0M93 435.5h0M84.5 404.5h0M93 421h0M105 408h0M75 408.5h0M104.5 413h0M117 403.5h0M94 421.5h0M95 425.5h0M118 406.5h0M84.5 423.5h0M88.5 415.5h0M90 436.5h0M91 429.5h0M77.5 413h0M100 411.5h0M103 419.5h0M99 398.5h0M91.5 425.5h0M91 383.5h0M100.5 421h0M110 407.5h0M81.5 406.5h0M105 416.5h0M95.5 406.5h0M99 420.5h0M95.5 423.5h0M91 396.5h0M100.5 411h0M84.5 414.5h0M109 408h0M88 430.5h0M103.5 396.5h0M80 405.5h0M119.5 408.5h0M83.5 410.5h0M90 406.5h0M94 420.5h0M98 397h0M65 407.5h0M84 401.5h0M99 415h0M83.5 404.5h0M78 419h0M107.5 412.5h0M94 419.5h0M100.5 422h0M100 411h0M122.5 406h0M74.5 409.5h0M98.5 400h0M101 443.5h0M75.5 417h0M84 420.5h0M110.5 404h0M97.5 424.5h0M79 419h0M94.5 394h0M97 393.5h0M100 420h0M95 413h0M126.5 414h0M90 425.5h0M70 420.5h0M74.5 417h0M104.5 392h0M102 424h0M88.5 409.5h0M90 407h0M99.5 429.5h0M75.5 414.5h0M86.5 436.5h0M107 415h0M97.5 429.5h0M76.5 420h0M107.5 431h0M89 406.5h0M99 408h0M90.5 407h0M102 387.5h0M88 404.5h0M87.5 409h0M85 432h0M95.5 414.5h0M105.5 424.5h0M104 405.5h0M99 388h0M76 406.5h0M105.5 425.5h0M96.5 407.5h0M80 402.5h0M96 431.5h0M104 421h0M92.5 396h0M105.5 410.5h0M102.5 396h0M84.5 425h0M108.5 406.5h0M84 407h0M90.5 426.5h0M97 401h0M102 400h0M100 391.5h0M104 412.5h0M96 395.5h0M98 398.5h0M101 400.5h0M101.5 406.5h0M104.5 428.5h0M92.5 409h0M95.5 431h0M77.5 410.5h0M105.5 406h0M108.5 405.5h0M129.5 414.5h0M79.5 411h0M93.5 409.5h0M94.5 429.5h0M112.5 432h0M100 397.5h0M99 406.5h0M99.5 386h0M91 419h0M78 405h0M106.5 410h0M108 420h0M99 422h0M113 409.5h0M96.5 415h0M102.5 389h0M86.5 404h0M109.5 415h0M100.5 423h0M100.5 415h0M100.5 405.5h0M116 422.5h0M86 404h0M102.5 393.5h0M82 420.5h0M93.5 411h0M110 406h0M93.5 420.5h0M103 377.5h0M85 416.5h0M79.5 408h0M73.5 415h0M93.5 411.5h0M91 423h0M73.5 421h0M99 393.5h0M89.5 400.5h0M91.5 418h0M94 423h0M90 414h0M101 399h0M102 396.5h0M86 413.5h0M78 389.5h0M92 396.5h0M92.5 402h0M102 401h0M92 403.5h0M100.5 424h0M98.5 398.5h0M106 413.5h0M82.5 417h0M82 408h0M101 412h0M84.5 398h0M90.5 417h0M94.5 426h0M93.5 420h0M107.5 426h0M95.5 427h0M103 403.5h0M99.5 425.5h0M88 417.5h0M89.5 396h0M94.5 406.5h0M91.5 424.5h0M102 402h0M84 420h0M97 400h0M90.5 430h0M87.5 393h0M99 432.5h0M95 410.5h0M91 417h0M97.5 411.5h0M98.5 424.5h0M95.5 413.5h0M93.5 404h0M98 401.5h0M98.5 408h0M97.5 411h0M82 417h0M77 411h0M96.5 383h0M101.5 421.5h0M96.5 392h0M101.5 419.5h0M99 385.5h0M90.5 435h0M86.5 402.5h0M106.5 424.5h0M102.5 403.5h0M89 415.5h0M106 411.5h0M87.5 422h0M90 404h0M95.5 393h0M90.5 421.5h0M104.5 404.5h0M99.5 413h0M101.5 392.5h0M93 413.5h0M86 430.5h0M93 411h0M99 409h0M87.5 421h0M88 431h0M103.5 423h0M101 415.5h0M76 408h0M102.5 408h0M98.5 387.5h0M101.5 428h0M79 417.5h0M105.5 416h0M112.5 418.5h0M108 410.5h0M78 410.5h0M76 402h0M94.5 401h0M103.5 392h0M76.5 408.5h0M113 414h0M97.5 400.5h0M95.5 403h0M97.5 421.5h0M83 420h0M96 396.5h0M96 430h0M85 440h0M105.5 405h0M83 418h0M85 404.5h0M80 409.5h0M116 425.5h0M85.5 423h0M92.5 411h0M104.5 402.5h0M92 397h0M103 385.5h0M77 395h0M93.5 433.5h0M97 415.5h0M84.5 409h0M123 408h0M85.5 432.5h0M77.5 409.5h0M88.5 426.5h0M91 426.5h0M104 394.5h0M78.5 419.5h0M95.5 418.5h0M88 393.5h0M101.5 398h0M71.5 418h0M98.5 407.5h0M86.5 425h0M98 432h0M93 420h0M101 399.5h0M91.5 430h0M78.5 418.5h0M97.5 403.5h0M113 423h0M89 429h0M103.5 415h0M92 429.5h0M80.5 411.5h0M98 427h0M72.5 420h0M85 410.5h0M83 409.5h0M77.5 419h0M101 393h0M102.5 420h0M98 429h0M72.5 413h0M102.5 395h0M85.5 407h0M86 412h0M97 419h0M96 419h0M91.5 397h0M111 414h0M94.5 443.5h0M91 437h0M99.5 407.5h0M83 407.5h0M113.5 416.5h0M95.5 412.5h0M111 417.5h0M92 419.5h0M88.5 438.5h0M100.5 419.5h0M76.5 399h0M99.5 414.5h0M90.5 406.5h0M94 423.5h0M106.5 409.5h0M91.5 419h0M107.5 407h0M99.5 409h0M91 395.5h0M84.5 422h0M71 406.5h0M81.5 411.5h0M94 422h0M82.5 406.5h0M101 404.5h0M91.5 402.5h0M86.5 419.5h0M101 397.5h0M104.5 398.5h0M114 406.5h0M94 430.5h0M90 421h0M87.5 420.5h0M88.5 400h0M93 406.5h0M98.5 397h0M87 413h0M80.5 414h0M96.5 436h0M92 400.5h0M84.5 423h0M85 407.5h0M83.5 413h0M99 404h0M78 411h0M86 415h0M103 420.5h0M87 428h0M76.5 422h0M69.5 419.5h0M63 416h0M92.5 420h0M100.5 400.5h0M118.5 417.5h0M94 416.5h0M72.5 408.5h0M109 421.5h0M78.5 416h0M117 410h0M87.5 410.5h0M110 411.5h0M102.5 413h0M104 404h0M102 399h0M89 406h0M87 419h0M103.5 406.5h0M84.5 418.5h0M81.5 412h0M76 419.5h0M92.5 425h0M99 402.5h0M101.5 408.5h0M86 394.5h0M91 403h0M100 418.5h0M87.5 426h0M91.5 396.5h0M85 426h0M107 422.5h0M91 426h0M112 429h0M103.5 381h0M95.5 422h0M100.5 390h0M93.5 427.5h0M99 432h0M95.5 436.5h0M76 403h0M102 430.5h0M106.5 419h0M109.5 408h0M81.5 421.5h0M97 420h0M110 420h0M87.5 414h0M75.5 405.5h0M102.5 422.5h0M79 420h0M111 422h0M82 416.5h0M90 422h0M85 421h0M85.5 420h0M88 429h0M97.5 413.5h0M90.5 430.5h0M98.5 420.5h0M98 411h0M115 425.5h0M102.5 410.5h0M102.5 410h0M87.5 413h0M109 411.5h0M101 403h0M92.5 420.5h0M95 404.5h0M104 418.5h0M104 421.5h0M82.5 420.5h0M100 438.5h0M83.5 402h0M79 421h0M72 393h0M80.5 415h0M83.5 397h0M90.5 448.5h0M97 408h0M103 405h0M101.5 410h0M109.5 416.5h0M107 411h0M95.5 416h0M116 411.5h0M89.5 411.5h0M63.5 410h0M117 418h0M88 422h0M105 421.5h0M104 398.5h0M88 392h0M86.5 413h0M77.5 411h0M80 420h0M112 418h0M99.5 400.5h0M106 405.5h0M108 429h0M99.5 417h0M78 417.5h0M89.5 429h0M90.5 404h0M107 417h0M112 413h0M103 429h0M98.5 433.5h0M106 422h0M88 412h0M81.5 380h0M105 439h0M86 401.5h0M107.5 426.5h0M96.5 400.5h0M103.5 421h0M101 398h0M107.5 409.5h0M88 406h0M103 399h0M85 417h0M122 431.5h0M108 416.5h0M104.5 412h0M81.5 408.5h0M101 421h0M97 399.5h0M87.5 428.5h0M81 408.5h0M105 382h0M94 432h0M91.5 431.5h0M105.5 423h0M94 406h0M120 406h0M87.5 434.5h0M95.5 396h0M125.5 404.5h0M91.5 406h0M87 434.5h0M111 410.5h0M89 420.5h0M98.5 410.5h0M84.5 419h0M71 421.5h0M88.5 423.5h0M79 411h0M94.5 413h0M99.5 424h0M109 411h0M83 396.5h0M103.5 385.5h0M91 416.5h0M117.5 408h0M78 415.5h0M99.5 432h0M106 418.5h0M100 426.5h0M96 411.5h0M84.5 408.5h0M106.5 439h0M85.5 431h0M89 398.5h0M74.5 414h0M102.5 406h0M98.5 412h0M103 408h0M90 421.5h0M90 412.5h0M103.5 427.5h0M126 416.5h0M78.5 415h0M84 425.5h0M108 420.5h0M107 408h0M73 413h0M96.5 405.5h0M97.5 412.5h0M92.5 408h0M97 397.5h0M98.5 422.5h0M97 397h0M100.5 437.5h0M85.5 410.5h0M101.5 395.5h0M102 411.5h0M90.5 384.5h0M84.5 429h0M91 416h0M83 402h0M106 408.5h0M109 426h0M91.5 415h0M91 420.5h0M88.5 401h0M92.5 426h0M97 437.5h0M116.5 421h0M104 403.5h0M91 428h0M86.5 413.5h0M96 396h0M93.5 435.5h0M96.5 419h0M112.5 421h0M114.5 410h0M92.5 395.5h0M90 418h0M87 411h0M109.5 414h0M81.5 413.5h0M104 405h0M76.5 421h0M96 402h0M90.5 429h0M98.5 396.5h0M86.5 442h0M80 416h0M102.5 409h0M110 406.5h0M86.5 409.5h0M101.5 422h0M71.5 422h0M87 395.5h0M89 417.5h0M95.5 448h0M104 392h0M72.5 412h0M111 419h0M86.5 398h0M83 414h0M91 404.5h0M71 417h0M88 418.5h0M98.5 431.5h0M86 422h0M109.5 430h0M91.5 441h0M86.5 411.5h0M85.5 394h0M81.5 405.5h0M96.5 421h0M87 422h0M101.5 417.5h0M104.5 395.5h0M96.5 417h0M95 391.5h0M116.5 418h0M90.5 428h0M82 421h0M80.5 406h0M88.5 391.5h0M103.5 400h0M99 379h0M96.5 416.5h0M92.5 391h0M109.5 421h0M84.5 435h0M76.5 419h0M120.5 406.5h0M91 419.5h0M97 420.5h0M95.5 408.5h0M98.5 417h0M104.5 400.5h0M88 411.5h0M79.5 421h0M104.5 410h0M108 422.5h0M91.5 420.5h0M84 439.5h0M90 424h0M86 416h0M84 401h0M83 410h0M99 442h0M103.5 381.5h0M99.5 395h0M73.5 408.5h0M88.5 410h0M86.5 414.5h0M79 413.5h0M84.5 420h0M108 421h0M77.5 395.5h0M74 421h0M91.5 434.5h0M97.5 399h0M82.5 400h0M102 424.5h0M98.5 421.5h0M85.5 445h0M89.5 403.5h0M85.5 391h0M93.5 408.5h0M82.5 407.5h0M90 397h0M76.5 411h0M103 415.5h0M79 422h0M83.5 402.5h0M104.5 426.5h0M101.5 424.5h0M60.5 414.5h0M106 408h0M92.5 433h0M122.5 407.5h0M71.5 417.5h0M109.5 417.5h0M96 393h0M106 417.5h0M90 408h0M89.5 389.5h0M85.5 396h0M82 399h0M82.5 397.5h0M84.5 425.5h0M102 406h0M78.5 416.5h0M89.5 406.5h0M92 394h0M95.5 405h0M96.5 442.5h0M85.5 414h0M74.5 410h0M103.5 412h0M75.5 401.5h0M78.5 407.5h0M105 431.5h0M96 422.5h0M114.5 405h0M88 442.5h0M89.5 400h0M100 431h0M89 407h0M101 409h0M93.5 440.5h0M110 403.5h0M104.5 398h0M102 421.5h0M67.5 410.5h0M98.5 429h0M84 408.5h0M90.5 397.5h0M112.5 409.5h0M94.5 430.5h0M74.5 399.5h0M93.5 438.5h0M89 416h0M86.5 395h0M110 427.5h0M78 416.5h0M85.5 418.5h0M88.5 400.5h0M62 415h0M79.5 416.5h0M102.5 401.5h0M98 394.5h0M105 407h0M84.5 433h0M66 412h0M98.5 395h0M84.5 390h0M74 418.5h0M101.5 429h0M89 421h0M70 420h0M98 409.5h0M84 417.5h0M116 414h0M87.5 392h0M86 411h0M76.5 394.5h0M108.5 426h0M64.5 406.5h0M74.5 381.5h0M86 406.5h0M101 408.5h0M114 406h0M95.5 421h0M98 407.5h0M113 404h0M81 406.5h0M87 417h0M110 405.5h0M96 403h0M69.5 421h0M86.5 412h0M98 396h0M103 380h0M83.5 419.5h0M110 424h0M93.5 410h0M124.5 407.5h0M98.5 405h0M96.5 437h0M101.5 405h0M83.5 392h0M110.5 417h0M90.5 426h0M89 400.5h0M96 423h0M82 414h0M111 427h0M87 430h0M92.5 397h0M87.5 427.5h0M83 395h0M117.5 416.5h0M79.5 417.5h0M94 402.5h0M86 395.5h0M90 398.5h0M98.5 415h0M105.5 416.5h0M98 418.5h0M84 415.5h0M105.5 415.5h0M113 433.5h0M96 407.5h0M88 400.5h0M89.5 402h0M104.5 408h0M82 418h0M64.5 420h0M102.5 395.5h0M82.5 417.5h0M113 403.5h0M122 406.5h0M120.5 407.5h0M99.5 407h0M97 394h0M95.5 388.5h0M92.5 428h0M108 415h0M87 430.5h0M93.5 397.5h0M102 397.5h0M87 423.5h0M84.5 429.5h0M91.5 412.5h0M96.5 394h0M128 406h0M100.5 413h0M77 410.5h0M80.5 402h0M104 431h0M101 411h0M101.5 396.5h0M95 394.5h0M90.5 407.5h0M84 405.5h0M82.5 416.5h0M83 400.5h0M107.5 427h0M67 418.5h0M90 423h0M89.5 392h0M107 409h0M105 420h0M100 409h0M92.5 425.5h0M90.5 405.5h0M109.5 407h0M102 411h0M71.5 409h0M99 399.5h0M96 416h0M91.5 392h0M94.5 403.5h0M96.5 439.5h0M85 424.5h0M111 406h0M104 425.5h0M79 397h0M86 431h0M72.5 419h0M84.5 406h0M95.5 432.5h0M86.5 387.5h0M78.5 403.5h0M93.5 418h0M82.5 414h0M121.5 410.5h0M93 439.5h0M79.5 410h0M97.5 420.5h0M82.5 409.5h0M84 412.5h0M106 418h0M101 391h0M102 426.5h0M109 419.5h0M75.5 411h0M88.5 410.5h0M70 383h0M78.5 417h0M86.5 411h0M101.5 428.5h0M85 441.5h0M94 416h0M92 422.5h0M104 406.5h0M121.5 413.5h0M91 423.5h0M74.5 396.5h0M66 421.5h0M90.5 399.5h0M87 405h0M111 415h0M112 420.5h0M79.5 408.5h0M110.5 414.5h0M118.5 412h0M83.5 407.5h0M99 404.5h0M86 429.5h0M104.5 427h0M91 395h0M92 390h0M110 426h0M108 411.5h0M85.5 406h0M77 400h0M87 423h0M99 400.5h0M99.5 382.5h0M87 427h0M83.5 417h0M123 411h0M109.5 419.5h0M92 409h0M106 414h0M114 404h0M89.5 410h0M103.5 394h0M64.5 414h0M99 413h0M109.5 407.5h0M91 418h0M109 405h0M101 411.5h0M92.5 404.5h0M75 422.5h0M83.5 412.5h0M76 406h0M99.5 401.5h0M85 433.5h0M82.5 413h0M105 400h0M127 405.5h0M114 413.5h0M81 413h0M98 412h0M92.5 402.5h0M86.5 400h0M85.5 415.5h0M79 399.5h0M91 412.5h0M86 397h0M95 417h0M94.5 435h0M104.5 414h0M97.5 406h0M102 415h0M94 439.5h0M88 416h0M103.5 411h0M101 409.5h0M89 412h0M87.5 433h0M93.5 398h0M78.5 402.5h0M75.5 415.5h0M112 407.5h0M71.5 411.5h0M84 393.5h0M79 420.5h0M96 417h0M113.5 423.5h0M90.5 418.5h0M95 395h0M96 421.5h0M91 437.5h0M75 397.5h0M87.5 398h0M89 389h0M93 436h0M92 433h0M91 422.5h0M86.5 441h0M91.5 419.5h0M100.5 403h0M104 412h0M99.5 428h0M97.5 400h0M85.5 437h0M120.5 417h0M114.5 408.5h0M91 388h0M88.5 422.5h0M115.5 415h0M89.5 425.5h0M119.5 421h0M103.5 428.5h0M93.5 396.5h0M100.5 412h0M107 412.5h0M96.5 402h0M100.5 390.5h0M85.5 433h0M96 421h0M88.5 396.5h0M107 428.5h0M104 416h0M116.5 415.5h0M97.5 421h0M91.5 398.5h0M90.5 392h0M76.5 414h0M104 427.5h0M89.5 405.5h0M98 401h0M120.5 406h0M98.5 427h0M80.5 420.5h0M91.5 427h0M106.5 417h0M103 409.5h0M85 408h0M93 385.5h0M87.5 414.5h0M115.5 408h0M102.5 397.5h0M129 418h0M90 399h0M103.5 392.5h0M92 423h0M84 395.5h0M79.5 412h0M78 416h0M93.5 388.5h0M92.5 422h0M86.5 405h0M100 392h0M96 417.5h0M99.5 403.5h0M85 428h0M93 409.5h0M72.5 405h0M111 413.5h0M105 391.5h0M101.5 384.5h0M85.5 406.5h0M114 416.5h0M85 432.5h0M81.5 421h0M99.5 404h0M98 423h0M95 418h0M100.5 402h0M102.5 385.5h0M75.5 414h0M122 416h0M95 385.5h0M90 429.5h0M81.5 403.5h0M75.5 421h0M96.5 404h0M90.5 432h0M110 408h0M76 413.5h0M96.5 418.5h0M90.5 405h0M88 398h0M126 411.5h0M97 410h0M98 399h0M105 425.5h0M96 379.5h0M105 418h0M83.5 421.5h0M102 426h0M104.5 412.5h0M79.5 413.5h0M97 404.5h0M120 412h0M115 405.5h0M88.5 424.5h0M94 405h0M108 404.5h0M110.5 421h0M114.5 404.5h0M97 384h0M104 424.5h0M92.5 406h0M99 406h0M90.5 378h0M100.5 405h0M103 410.5h0M88 440.5h0M94.5 438.5h0M102.5 425h0M95 399.5h0M114 410h0M75 413.5h0M89.5 428.5h0M107.5 416h0M75 420.5h0M86.5 421.5h0M103 426h0M112 420h0M79.5 414h0M95 425h0M99 410h0M107.5 418.5h0M104 400h0M95.5 393.5h0M93 417.5h0M91.5 391h0M76 416h0M93.5 405.5h0M78.5 395.5h0M99 408.5h0M93 397.5h0M71 413h0M83 399h0M111.5 412h0M132 412h0M80 422.5h0M96.5 395h0M90 390h0M71.5 410.5h0M102 414h0M113.5 405.5h0M96 391h0M102.5 407h0M84.5 398.5h0M91 396h0M83 419.5h0M100 398h0M85.5 411h0M87 402.5h0M99.5 406h0M113.5 404h0M79.5 415.5h0M117 415h0M93.5 442h0M76.5 395h0M101 417.5h0M84 437h0M73.5 403.5h0M96 395h0M103.5 436h0M77 403.5h0M90.5 431.5h0M98.5 433h0M98.5 406.5h0M93.5 426.5h0M102 435h0M113 412.5h0M103.5 414h0M97.5 393h0M96.5 373h0M86 423h0M106 430.5h0M67 421.5h0M73 408h0M94.5 444.5h0M113.5 421h0M116.5 423.5h0M75 418h0M99.5 430.5h0M104.5 420h0M93 404h0M82.5 401.5h0M95.5 422.5h0M86 402.5h0M115 409h0M102.5 413.5h0M104 378h0M84 411h0M87 416h0M92 408h0M104 410h0M98 394h0M88.5 440h0M88 410.5h0M77.5 405h0M79.5 418.5h0M106 406.5h0M103 403h0M83 400h0M101 429.5h0M79 409h0M97.5 397.5h0M126.5 409h0M102 418h0M73.5 406.5h0M86 426.5h0M82 404.5h0M97 405.5h0M71 401h0M89 419h0M86.5 433.5h0M83.5 411h0M89 421.5h0M102 429h0M92 429h0M121 404h0M91.5 399h0M93.5 397h0M92.5 424h0M86.5 405.5h0M81 401h0M109.5 440h0M87 404.5h0M93 433h0M90.5 395.5h0M85.5 409h0M91 401h0M77 399.5h0M101 403.5h0M105 404.5h0M73.5 404h0M91 397h0M101.5 383.5h0M98 417.5h0M88 431.5h0M98 425.5h0M100 404h0M94.5 410h0M98.5 389h0M100 392.5h0M73 407h0M104.5 418.5h0M80 414.5h0M113.5 419.5h0M94.5 392.5h0M97 432h0M108 403.5h0M87 391.5h0M101.5 414h0M98.5 385.5h0M117 412.5h0M115.5 413.5h0M69 420h0M99.5 436.5h0M103.5 430.5h0M79.5 403.5h0M89.5 411h0M76.5 400h0M83.5 408.5h0M108.5 416.5h0M100 388.5h0M83 411.5h0M83.5 420h0M110.5 413h0M107.5 408h0M109.5 414.5h0M85.5 412h0M103.5 398h0M96.5 413.5h0M85 427h0M90 435.5h0M92 425.5h0M91 436.5h0M111 409.5h0M106 438h0M88.5 388.5h0M98.5 428h0M94.5 420h0M84.5 432h0M95.5 421.5h0M67 416.5h0M87 440.5h0M85 433h0M88 425h0M64.5 402h0M88.5 409h0M72 402.5h0M107.5 425h0M81 416.5h0M93.5 419h0M104.5 417.5h0M97 405h0M96 406h0M99 405h0M107.5 421.5h0M99.5 437.5h0M114 412.5h0M81 414h0M104.5 431.5h0M106 427.5h0M88.5 394h0M79 401h0M101 398.5h0M79.5 418h0M87.5 409.5h0M118.5 412.5h0M89.5 421.5h0M110.5 409.5h0M90.5 396h0M89 434h0M92.5 407.5h0M85.5 418h0M97 419.5h0M88 423.5h0M89.5 426h0M93.5 406.5h0M96.5 427h0M79.5 416h0M92 399.5h0M88.5 427h0M110.5 429.5h0M103.5 428h0M71.5 417h0M99 451h0M83.5 404h0M91.5 410.5h0M95.5 432h0M89 430h0M81.5 418.5h0M104.5 396.5h0M75.5 407h0M77.5 406.5h0M63 410h0M85 430.5h0M100.5 425.5h0M93 418h0M90 420h0M108 417h0M113 416h0M88.5 439h0M100.5 402.5h0M90.5 387.5h0M100 420.5h0M85 400h0M84 410.5h0M87.5 405.5h0M88 422.5h0M104 420.5h0M86 422.5h0M85 409.5h0M75.5 418.5h0M78.5 411.5h0M121.5 414.5h0M94.5 418h0M123.5 415.5h0M111.5 416.5h0M122.5 405.5h0M103 431.5h0M94 426h0M86.5 417.5h0M90 401.5h0M95.5 423h0M99.5 392.5h0M95.5 424h0M106.5 431h0M77 403h0M83 416.5h0M91 408h0M86.5 434h0M77.5 392h0M108.5 415h0M103.5 408.5h0M94 414.5h0M104.5 401h0M95 390.5h0M92 408.5h0M107 419h0M87 427.5h0M98.5 403.5h0M89.5 437h0M110.5 424h0M78 412h0M93 409h0M115.5 414.5h0M107.5 419h0M103.5 412.5h0M81 419.5h0M105 414h0M65.5 404.5h0M96 426h0M101 390h0M79 415.5h0M89 426h0M103.5 409.5h0M74.5 402.5h0M90 420.5h0M89.5 435h0M92 415h0M128 411.5h0M86.5 403.5h0M104 422h0M70 411h0M94 430h0M82 418.5h0M98.5 400.5h0M92 401h0M117 429.5h0M113.5 414h0M108 419h0M101 406.5h0M100.5 413.5h0M108.5 408h0M94.5 434h0M89.5 435.5h0M77.5 420h0M77.5 414.5h0M86.5 433h0M72.5 420.5h0M82.5 412h0M111.5 430.5h0M93.5 430.5h0M89.5 423.5h0M96.5 418h0M95.5 415.5h0M106 407h0M103 402h0M96 416.5h0M99 416.5h0M69 417.5h0M72 406h0M84.5 402h0M87 440h0M89 398h0M90 409h0M81.5 392h0M119 411h0M105 402.5h0M76 402.5h0M108.5 412h0M87 437h0M99 418h0M106 419h0M114.5 428.5h0M83 407h0M121.5 431h0M94.5 427h0M100 416.5h0M95.5 439.5h0M115 404h0M85 423h0M83 406h0M105.5 425h0M92 410.5h0M99 386h0M102.5 425.5h0M107 406.5h0M90.5 388h0M104 395h0M88 402h0M103 404.5h0M103 433h0M86 409h0M113 419h0M85 421.5h0M88.5 420.5h0M100 418h0M97.5 390.5h0M80.5 400.5h0M73 419h0M100 417.5h0M100 402h0M99.5 397h0M65 416h0M84.5 414h0M98 407h0M103 412h0M80 402h0M93 428h0M98.5 415.5h0M110.5 407.5h0M104.5 416h0M86 397.5h0M109 416.5h0M102 397h0M89.5 405h0M82.5 415h0M89 392h0M88.5 392h0M79 398.5h0M117.5 426h0M84.5 413.5h0M96.5 408.5h0M86 428.5h0M84 414.5h0M113.5 406.5h0M93.5 431h0M88 439.5h0M95.5 435h0M94 396.5h0M100.5 407h0M108.5 419.5h0M102 423h0M92.5 413.5h0M81 409h0M104 410.5h0M118.5 421.5h0M108.5 408.5h0M90 400.5h0M117.5 406h0M106 404h0M87 424h0M107 405h0M89 413.5h0M80.5 414.5h0M97 431.5h0M81.5 419h0M92 428.5h0M109.5 410.5h0M97.5 413h0M88 409h0M109.5 427h0M83.5 399h0M87 439.5h0M69 400h0M93 426h0M95 422.5h0M97 436h0M91.5 400.5h0M114.5 415h0M86 401h0M98 399.5h0M104.5 385.5h0M77.5 400h0M90.5 447h0M57.5 419h0M87.5 402.5h0M102 400.5h0M103 407h0M110 413.5h0M90 437h0M68 420.5h0M90 427.5h0M82.5 410.5h0M91.5 394h0M103 413.5h0M98 372.5h0M122.5 409h0M94.5 441h0M96.5 410.5h0M125 417h0M62.5 410.5h0M96.5 393h0M92 450.5h0M73 396h0M102 389.5h0M73.5 417.5h0M79 414.5h0M72 409.5h0M84 410h0M120 435.5h0M100.5 395.5h0M101.5 439h0M87.5 392.5h0M96.5 432h0M105 413.5h0M102 417h0M120 409.5h0M87.5 439h0M101.5 430h0M103.5 414.5h0M88.5 417h0M105 415h0M103 412.5h0M111 424.5h0M118.5 420h0M87 409h0M109 408.5h0M92.5 423.5h0M95.5 379.5h0M111 404.5h0M117.5 405.5h0M67 418h0M83 392h0M100.5 404.5h0M80 391h0M87.5 372.5h0M93 396h0M70.5 420h0M85 442.5h0M99.5 441h0M85 405.5h0" stroke="#888888" stroke-width="2.0" stroke-linecap="round" fill="none"/>
<line x1="84.11" y1="351" x2="84.11" y2="474.5" stroke="#c4c4c4" stroke-width="0.6" stroke-dasharray="2,1.2,0.6,1.2"/>
<line x1="28.8" y1="422.57" x2="161.8" y2="422.57" stroke="#c4c4c4" stroke-width="0.6" stroke-dasharray="2,1.2,0.6,1.2"/>
<line x1="104.89" y1="351" x2="104.89" y2="474.5" stroke="#c4c4c4" stroke-width="0.6" stroke-dasharray="2,1.2,0.6,1.2"/>
<line x1="28.8" y1="403.43" x2="161.8" y2="403.43" stroke="#c4c4c4" stroke-width="0.6" stroke-dasharray="2,1.2,0.6,1.2"/>
<path d="M111 401h0M123 400h0M114 394h0M105.5 399h0M113.5 403h0M105 402h0M108.5 384.5h0M105.5 389.5h0M83.5 427.5h0M114 402.5h0M84 435h0M64.5 425h0M106.5 392h0M81.5 427.5h0M82.5 424.5h0M108 400h0M66.5 423h0M80.5 424h0M75.5 426.5h0M82.5 431.5h0M77 435.5h0M107.5 392h0M106 400.5h0M117.5 398.5h0M77 424h0M71.5 442h0M109 396h0M112.5 393.5h0M79 435.5h0M117.5 402h0M110.5 400h0M106 401h0M77.5 434.5h0M107 397.5h0M112.5 402h0M83 422.5h0M112 402.5h0M80 431h0M105.5 391.5h0M113.5 396.5h0M81 423.5h0M80.5 430.5h0M84 425.5h0M118 401.5h0M79 423.5h0M109 387h0M108 392.5h0M107 380.5h0M75 434.5h0M119 398.5h0M110 402.5h0M111 394.5h0M76 423.5h0M108 403.5h0M79 424h0M110 398h0M113 396h0M111.5 399.5h0M115.5 396.5h0M79 427.5h0M113.5 395.5h0M79.5 425.5h0M76.5 436.5h0M78.5 422.5h0M121 397.5h0M76 431h0M107.5 402.5h0M81 426.5h0M78.5 443.5h0M117.5 400.5h0M82.5 429h0M106 397h0M118.5 399h0M76 424h0M110.5 397h0M77.5 426h0M78 423h0M70 426h0M77.5 428.5h0M63 438.5h0M78 423.5h0M108 400.5h0M80.5 433.5h0M78 448.5h0M84 423h0M79.5 430h0M107.5 401h0M71.5 426.5h0M114 401h0M82.5 425.5h0M68 433h0M115.5 392h0M108.5 400.5h0M123 393h0M75.5 429.5h0M73 434.5h0M78.5 427h0M73 424.5h0M110 401.5h0M83.5 427h0M79.5 428h0M72 437.5h0M73.5 430h0M106.5 393.5h0M73.5 432h0M82 432h0M78.5 432.5h0M72 435.5h0M82.5 437h0M78 427.5h0M83 424.5h0M78 425h0M81 428.5h0M81 441h0M79.5 435h0M114 392.5h0M109.5 395.5h0M72.5 428.5h0M105 401h0M66 425h0M110.5 395.5h0M75.5 430h0M80.5 429h0M78.5 436h0M79.5 431h0M76 427h0M115.5 395h0M110 399h0M71.5 429.5h0M110 390h0M109 398.5h0M80.5 428h0M117.5 401h0M68.5 423h0M118 400.5h0M83 429.5h0M70 430.5h0M105 390.5h0M117 403.5h0M80 422.5h0M82.5 427h0M70.5 433h0M105.5 392.5h0M77.5 437.5h0M82 431h0M78.5 432h0M107.5 395h0M109 401.5h0M69 432.5h0M75 431h0M76 426h0M77.5 440h0M106 392.5h0M81 437.5h0M84 441.5h0M106 397.5h0M74.5 427.5h0M109.5 403h0M106 401.5h0M81.5 437.5h0M74 434.5h0M105.5 402.5h0M116 399.5h0M82.5 423h0M79.5 427h0M72 423h0M106.5 381h0M107.5 388h0M108 403h0M80.5 423.5h0M109.5 396.5h0M73 423.5h0M79 426h0M108 394h0M117 391.5h0M110.5 399.5h0M112 380h0M72 438h0M80.5 431h0M115.5 388h0M79.5 423.5h0M75 423h0M75 436h0M84 425h0M115.5 403.5h0M73.5 427.5h0M109 398h0M74.5 427h0M81.5 424.5h0M110.5 393h0M113.5 401h0M84 431.5h0M78 426.5h0M116 397.5h0M78 427h0M78 431.5h0M105.5 402h0M106 402h0M111.5 389h0M106 398h0M73.5 431.5h0M82 430h0M80.5 434.5h0M107.5 398h0M66.5 424.5h0M109.5 391h0M81 434h0M117.5 401.5h0M109 401h0M81.5 425h0M116.5 391.5h0M105.5 400.5h0M83.5 428h0M114 397.5h0M68.5 429h0M112 401h0M74 435.5h0M81.5 431.5h0M83 431.5h0M105.5 393h0M72.5 428h0M111 403h0M82 423.5h0M80.5 426h0M79 429h0M70.5 426.5h0M72.5 435h0M78.5 425.5h0M114.5 402h0M107.5 393h0M109.5 403.5h0M108.5 391h0M109 403h0M83 426.5h0M70.5 424.5h0M108 397h0M78 424.5h0M70 427h0M112 389h0M108.5 402.5h0M74 425h0M74 431h0M112 392.5h0M111.5 400.5h0M76.5 426h0M84 430.5h0M105.5 395h0M72 428.5h0M107.5 403.5h0M83.5 423h0M106 388.5h0M119.5 402.5h0M111 402h0M108.5 397.5h0M105 400h0M115 397h0M108 399h0M76 425.5h0M84 428.5h0M81.5 423.5h0M106 403h0M109.5 398.5h0M106 399h0M118 400h0M113.5 393.5h0M67 423h0M80 438.5h0M107.5 383.5h0M66.5 434.5h0M109.5 401.5h0M107.5 399h0M115 395.5h0M109.5 382.5h0M81 433h0M81 435.5h0M109.5 387.5h0M78.5 423h0M72.5 438h0M106 383.5h0M112 397.5h0M82 434h0M109.5 399h0M117.5 399.5h0M113 399h0M113.5 402.5h0M111.5 402h0M69.5 428h0M109 400.5h0M80 435h0M121 388.5h0M71.5 428.5h0M108 397.5h0M74 429.5h0M76.5 428h0M111 388.5h0M121.5 398h0M83.5 434h0M77 427.5h0M109 394.5h0M116 400h0M81.5 434.5h0M67.5 435h0M83 434h0M123 395h0M114.5 401h0M80 424.5h0M78.5 426h0M79.5 432.5h0M68.5 424h0M110.5 392.5h0M107.5 388.5h0M80.5 445.5h0M114.5 398h0M108 401.5h0M114 394.5h0M109.5 392.5h0M83 426h0M77.5 427.5h0M76 434.5h0M83 428h0M109 402.5h0M107.5 387.5h0M108 398h0M73.5 436.5h0M111 393.5h0M77.5 424h0M107 400.5h0M118 398h0M79 428.5h0M108.5 382h0M108 391.5h0M111.5 389.5h0M75.5 429h0M114 390h0M78.5 429h0M110 393.5h0M111 391.5h0M73.5 428h0M84 422.5h0M81.5 432h0M77 424.5h0M69 427.5h0M73 430h0M106.5 400.5h0M75.5 430.5h0M110.5 403.5h0M77.5 431h0M116 397h0M77.5 425h0M75 428h0M113 400.5h0M82 424h0M73.5 430.5h0M77.5 427h0M112 401.5h0M69.5 427.5h0M79 424.5h0M83.5 425h0M75 432h0M110.5 390.5h0M75.5 435h0M117 398.5h0M65.5 424.5h0M105 401.5h0M107.5 390.5h0M71 437.5h0M62 425.5h0M117 397.5h0M111.5 393h0M75 438.5h0M83 432.5h0M75 425h0M76 453.5h0M81 431.5h0M107.5 399.5h0M82.5 434.5h0M82.5 429.5h0M116 396.5h0M109.5 390h0M83.5 424h0M115.5 400.5h0M72.5 426.5h0M78.5 450h0M76.5 431h0M122.5 398h0M115 393h0M116.5 388h0M105 395h0M67.5 425h0M77.5 430h0M115.5 401.5h0M110 398.5h0M106.5 390.5h0M108 398.5h0M81 425.5h0M81 424h0M105 395.5h0M82 422.5h0M79 429.5h0M111 401.5h0M81.5 430.5h0M114.5 389.5h0M77.5 442h0M110.5 403h0M113.5 398.5h0M105.5 397h0M124.5 402h0M74.5 435h0M81.5 428.5h0M106.5 388h0M84 426h0M107 403h0M108 402.5h0M110.5 391h0M110.5 399h0M113 397.5h0M108 396.5h0M112 398h0M79.5 423h0M82 435h0M113.5 391h0M118 386h0M78.5 428h0M107 389h0M111.5 390h0M72.5 424h0M115.5 399h0M83.5 424.5h0M109 402h0M83.5 422.5h0M114.5 390.5h0M69 429.5h0M80 440.5h0M67 423.5h0M76.5 423h0M81.5 427h0M105.5 391h0M81 435h0M107 401h0M121.5 388.5h0M107 402.5h0M109.5 393.5h0M74.5 431.5h0M77.5 429h0M74.5 423h0M116.5 403h0M76.5 435h0M76 435h0M69.5 424h0M76 434h0M105.5 401h0M80 426.5h0M79.5 438h0M118.5 396h0M79 435h0M78.5 435.5h0M79 430h0M112 385h0M84 436h0M77.5 423h0M77 436.5h0M109 382h0M111 400h0M82 433h0M112.5 398h0M78 426h0M68.5 432h0M111 397.5h0M77 425.5h0M105.5 390h0M84 426.5h0M107 403.5h0M105 398.5h0M105 376h0M107.5 397h0M105.5 396h0M82 425h0M107.5 387h0M82.5 435.5h0M82 424.5h0M73 429h0M113.5 401.5h0M114 396h0M106.5 398h0M106.5 397.5h0M116 386h0M108.5 394.5h0M109.5 402.5h0M83 425h0M109 389.5h0M79.5 437h0M65.5 426h0M109.5 402h0M79.5 426h0M114 391.5h0M110 401h0M112 399h0M83.5 428.5h0M116.5 391h0M109.5 400.5h0M108 402h0M109.5 397.5h0M110 402h0M115.5 397h0M63.5 438.5h0M117.5 397.5h0M83 430.5h0M115 403h0M77 422.5h0M105.5 390.5h0M77.5 432.5h0M107 398h0M83 433.5h0M78 432h0M81.5 426.5h0M111.5 399h0M110.5 394h0M74.5 451h0M109.5 398h0M83 432h0M64.5 434.5h0M82.5 423.5h0M105.5 399.5h0M107.5 393.5h0M72.5 432.5h0M76.5 423.5h0M76 426.5h0M111 403.5h0M111 390.5h0M115.5 394h0M67 440.5h0M77.5 423.5h0M69.5 428.5h0M78 431h0M121.5 400.5h0M72 425.5h0M122 387h0M80.5 435.5h0M80.5 428.5h0M106.5 394h0M83 437h0M76.5 433.5h0M75 434h0M107 401.5h0M113.5 394.5h0M78.5 425h0M108.5 398h0M105 399h0M114.5 403.5h0M113 388h0M106.5 401.5h0M74 432.5h0M80 425h0M122 386.5h0M83 423h0M78 435.5h0M111 383h0M75.5 431.5h0M110.5 391.5h0M109.5 399.5h0M72.5 441h0M108 401h0M107 390.5h0M76 437.5h0M83 428.5h0M113 399.5h0M107 398.5h0M83.5 436h0M81 427h0M105.5 393.5h0M107.5 400.5h0M78.5 424.5h0M111 400.5h0M111 398.5h0M108.5 400h0M106 391.5h0M80.5 427h0M67 425h0M111 399.5h0M115.5 397.5h0M106 392h0M80 429.5h0M110 394.5h0M81 424.5h0M114 393h0M69 427h0M106 393h0M70 428.5h0M75 426h0M80 423.5h0M69 425.5h0M78.5 439.5h0M79.5 424.5h0M108.5 397h0M74 426.5h0M105.5 403h0M108.5 388h0M79.5 429h0M84 423.5h0M114 395h0M79.5 439h0M70.5 442.5h0M79 425h0M82.5 425h0M82.5 433h0M82 423h0M81.5 429h0M107 393h0M81.5 434h0M72.5 427.5h0M105.5 397.5h0M105.5 398h0M76 427.5h0M106.5 402h0M80 427h0M76.5 426.5h0M113 390h0M68.5 424.5h0M111.5 391.5h0M74 436h0M122 395h0M73.5 424h0M80 440h0M84 427.5h0M112.5 395.5h0M106.5 396h0M113 401h0M83.5 437.5h0M113 398h0M75 437h0M105.5 400h0M112.5 396h0M80 428.5h0M84 429h0M80 429h0M81.5 436h0M109 393h0M75.5 424.5h0M109 391h0M69 430h0M71 431.5h0M72.5 433h0M113 394h0M113.5 403.5h0M108.5 395h0M119.5 399h0M116 400.5h0M67 424h0M68.5 429.5h0M112 396.5h0M107 399.5h0M111.5 398h0M76 439h0M115.5 398.5h0M83 434.5h0M106 396.5h0M81 425h0M124 393.5h0M117 393h0M115 401.5h0M110.5 377h0M80.5 432.5h0M83.5 430h0M117 403h0M116.5 397.5h0M71 435h0M79.5 435.5h0M76.5 437.5h0M112.5 401.5h0M66 445.5h0M82.5 428h0M75.5 441h0M74 435h0M106.5 391.5h0M67.5 423h0M108.5 398.5h0M127 388h0M71.5 443h0M80.5 439h0M70.5 429.5h0M107 402h0M113 402h0M115 394h0M72 433h0M60.5 431h0M82 428h0M105.5 396.5h0M106.5 397h0M77 426.5h0M107 394.5h0M79.5 422.5h0M78 437h0M115 403.5h0M73 435.5h0M108.5 393.5h0M73 431h0M71.5 427h0M69 425h0M114 399.5h0M75.5 435.5h0M115.5 400h0M70 429h0M110 391.5h0M83 429h0M118.5 398.5h0M115.5 396h0M121.5 401h0M73.5 429.5h0M111.5 400h0M110 381.5h0M75.5 432h0M77.5 431.5h0M76.5 433h0M107 396h0M112.5 400.5h0M78 433h0M112 402h0M73 427.5h0M79 434h0M123 397.5h0M72.5 431h0M66.5 439.5h0M106.5 402.5h0M108.5 399.5h0M106.5 387.5h0M116.5 378h0M65 423.5h0M82.5 426h0M112.5 399.5h0M70 425h0M111 390h0M83.5 432.5h0M73 426.5h0M77 429h0M110 389.5h0M80 433h0M67 431.5h0M105.5 387h0M110 397.5h0M107 395.5h0M129 388h0M119.5 391h0M106 391h0M112 390.5h0M72 426.5h0M71 423h0M106.5 395.5h0M60.5 436.5h0M120.5 396h0M122 396h0M52.5 427h0M68 434h0M116 393.5h0M127.5 397.5h0M127.5 380.5h0M134 390h0M122.5 373.5h0M114 374.5h0M119.5 382.5h0M125.5 386h0M107 368h0M117.5 388h0M53 461h0M59 455h0M67.5 463h0M76 459h0M49 441.5h0M73.5 451.5h0M63.5 449.5h0M82 464.5h0M88.5 449.5h0M57 434h0" stroke="#000" stroke-width="1.8" stroke-linecap="round" fill="none"/>
<path d="M128.15 391.94h0M133.76 398.06h0M122.75 400.17h0M111.12 399.79h0M111.53 401.51h0M84.74 422h0M78.3 428.13h0M82.04 433.3h0M81.62 434.64h0M83.08 439.62h0M55.04 469.11h0" stroke="#e02020" stroke-width="1.6" stroke-linecap="round" fill="none"/>
<text x="132.4" y="393.2" font-size="4.6" fill="#f21c1c">COL6A1</text>
<text x="138.5" y="399.1" font-size="4.6" fill="#f21c1c">COL9A1</text>
<text x="128.2" y="403.8" font-size="4.6" fill="#f21c1c">COL6A3</text>
<text x="96.2" y="396.5" font-size="4.6" fill="#f21c1c">COL2A1</text>
<text x="99.9" y="407.1" font-size="4.6" fill="#f21c1c">COL11A2</text>
<text x="70.4" y="419" font-size="4.6" fill="#f21c1c">MMP10</text>
<text x="38.4" y="428.3" font-size="4.6" fill="#f21c1c">COL3A1</text>
<text x="34" y="433.2" font-size="4.6" fill="#f21c1c">COL5A2</text>
<text x="32.2" y="438.1" font-size="4.6" fill="#f21c1c">COL4A2</text>
<text x="37" y="442.7" font-size="4.6" fill="#f21c1c">COL1A1</text>
<text x="33.5" y="471.2" font-size="4.6" fill="#f21c1c">MMP13</text>
<rect x="28.8" y="351.0" width="133" height="123.5" fill="none" stroke="#6a6a6a" stroke-width="0.8"/>
<line x1="32.19" y1="474.5" x2="32.19" y2="477.1" stroke="#6a6a6a" stroke-width="0.6"/>
<text x="32.19" y="482.6" font-size="6.4" text-anchor="middle" fill="#222">-3</text>
<line x1="26.2" y1="470.45" x2="28.8" y2="470.45" stroke="#6a6a6a" stroke-width="0.6"/>
<text x="0" y="0" font-size="6.4" text-anchor="middle" fill="#222" transform="translate(25.0,470.45) rotate(-90)">-3</text>
<line x1="52.96" y1="474.5" x2="52.96" y2="477.1" stroke="#6a6a6a" stroke-width="0.6"/>
<text x="52.96" y="482.6" font-size="6.4" text-anchor="middle" fill="#222">-2</text>
<line x1="26.2" y1="451.3" x2="28.8" y2="451.3" stroke="#6a6a6a" stroke-width="0.6"/>
<text x="0" y="0" font-size="6.4" text-anchor="middle" fill="#222" transform="translate(25.0,451.3) rotate(-90)">-2</text>
<line x1="73.73" y1="474.5" x2="73.73" y2="477.1" stroke="#6a6a6a" stroke-width="0.6"/>
<text x="73.73" y="482.6" font-size="6.4" text-anchor="middle" fill="#222">-1</text>
<line x1="26.2" y1="432.15" x2="28.8" y2="432.15" stroke="#6a6a6a" stroke-width="0.6"/>
<text x="0" y="0" font-size="6.4" text-anchor="middle" fill="#222" transform="translate(25.0,432.15) rotate(-90)">-1</text>
<line x1="94.5" y1="474.5" x2="94.5" y2="477.1" stroke="#6a6a6a" stroke-width="0.6"/>
<text x="94.5" y="482.6" font-size="6.4" text-anchor="middle" fill="#222">0</text>
<line x1="26.2" y1="413" x2="28.8" y2="413" stroke="#6a6a6a" stroke-width="0.6"/>
<text x="0" y="0" font-size="6.4" text-anchor="middle" fill="#222" transform="translate(25.0,413) rotate(-90)">0</text>
<line x1="115.27" y1="474.5" x2="115.27" y2="477.1" stroke="#6a6a6a" stroke-width="0.6"/>
<text x="115.27" y="482.6" font-size="6.4" text-anchor="middle" fill="#222">1</text>
<line x1="26.2" y1="393.85" x2="28.8" y2="393.85" stroke="#6a6a6a" stroke-width="0.6"/>
<text x="0" y="0" font-size="6.4" text-anchor="middle" fill="#222" transform="translate(25.0,393.85) rotate(-90)">1</text>
<line x1="136.04" y1="474.5" x2="136.04" y2="477.1" stroke="#6a6a6a" stroke-width="0.6"/>
<text x="136.04" y="482.6" font-size="6.4" text-anchor="middle" fill="#222">2</text>
<line x1="26.2" y1="374.7" x2="28.8" y2="374.7" stroke="#6a6a6a" stroke-width="0.6"/>
<text x="0" y="0" font-size="6.4" text-anchor="middle" fill="#222" transform="translate(25.0,374.7) rotate(-90)">2</text>
<line x1="156.81" y1="474.5" x2="156.81" y2="477.1" stroke="#6a6a6a" stroke-width="0.6"/>
<text x="156.81" y="482.6" font-size="6.4" text-anchor="middle" fill="#222">3</text>
<line x1="26.2" y1="355.55" x2="28.8" y2="355.55" stroke="#6a6a6a" stroke-width="0.6"/>
<text x="0" y="0" font-size="6.4" text-anchor="middle" fill="#222" transform="translate(25.0,355.55) rotate(-90)">3</text>
<text x="91.6" y="491.2" font-size="6.4" text-anchor="middle" fill="#222" textLength="120" lengthAdjust="spacingAndGlyphs">Log2 fold change shCEMIP#1 vs shEGFP</text>
<text x="0" y="0" font-size="6.8" text-anchor="middle" fill="#222" textLength="119" lengthAdjust="spacingAndGlyphs" transform="translate(14.0,416.3) rotate(-90)">Log2 fold change shCEMIP#2 vs shEGFP</text>
<line x1="0.5" y1="510.7" x2="273.5" y2="510.7" stroke="#999" stroke-width="1.3"/>
<path d="M107.5 538.5H273.5M0.5 566.5H273.5M0.5 580.5H273.5M0.5 593.5H273.5M0.5 607.5H273.5M0.5 620.5H273.5M0.5 634.5H273.5M0.5 648H273.5M0.5 661.5H273.5M0.5 510.7V661.5M107.5 510.7V661.5M133.5 538.5V661.5M159.5 510.7V661.5M188.5 538.5V661.5M216.5 510.7V661.5M245.5 538.5V661.5M273.5 510.7V661.5M0.5 510.7L107.5 566.5" stroke="#111" stroke-width="0.9" fill="none"/>
<text x="74.6" y="519.3" font-size="5.3" text-anchor="middle" font-weight="bold" fill="#111" textLength="55" lengthAdjust="spacingAndGlyphs">Rank list of log2 Fold</text>
<text x="74.6" y="526" font-size="5.3" text-anchor="middle" font-weight="bold" fill="#111" textLength="49" lengthAdjust="spacingAndGlyphs">change shEGFP vs</text>
<text x="74.6" y="532.4" font-size="5.3" text-anchor="middle" font-weight="bold" fill="#111" textLength="44.9" lengthAdjust="spacingAndGlyphs">shCEMIP#1 or #2</text>
<text x="2.7" y="551.9" font-size="5.5" font-weight="bold" fill="#111" textLength="49.4" lengthAdjust="spacingAndGlyphs">Hallmark Gene Set</text>
<text x="133.3" y="520" font-size="4.9" text-anchor="middle" font-weight="bold" fill="#111" textLength="26.4" lengthAdjust="spacingAndGlyphs">Normalized</text>
<text x="133.3" y="526.7" font-size="4.9" text-anchor="middle" font-weight="bold" fill="#111" textLength="26.6" lengthAdjust="spacingAndGlyphs">enrichment</text>
<text x="133.3" y="533.4" font-size="4.9" text-anchor="middle" font-weight="bold" fill="#111" textLength="25.3" lengthAdjust="spacingAndGlyphs">score (NES)</text>
<text x="188.2" y="522.7" font-size="4.9" text-anchor="middle" font-weight="bold" fill="#111" textLength="12.7" lengthAdjust="spacingAndGlyphs">NOM</text>
<text x="188.2" y="529.4" font-size="4.9" text-anchor="middle" font-weight="bold" fill="#111" textLength="17.1" lengthAdjust="spacingAndGlyphs">p-value</text>
<text x="245.2" y="522.7" font-size="4.9" text-anchor="middle" font-weight="bold" fill="#111" textLength="9.3" lengthAdjust="spacingAndGlyphs">FDR</text>
<text x="245.2" y="529.4" font-size="4.9" text-anchor="middle" font-weight="bold" fill="#111" textLength="17.9" lengthAdjust="spacingAndGlyphs">q-value</text>
<text x="120.5" y="554.2" font-size="5" text-anchor="middle" font-weight="bold" fill="#111" textLength="5.6" lengthAdjust="spacingAndGlyphs">#1</text>
<text x="146.5" y="554.2" font-size="5" text-anchor="middle" font-weight="bold" fill="#111" textLength="5.6" lengthAdjust="spacingAndGlyphs">#2</text>
<text x="174" y="554.2" font-size="5" text-anchor="middle" font-weight="bold" fill="#111" textLength="5.6" lengthAdjust="spacingAndGlyphs">#1</text>
<text x="202.5" y="554.2" font-size="5" text-anchor="middle" font-weight="bold" fill="#111" textLength="5.6" lengthAdjust="spacingAndGlyphs">#2</text>
<text x="231" y="554.2" font-size="5" text-anchor="middle" font-weight="bold" fill="#111" textLength="5.6" lengthAdjust="spacingAndGlyphs">#1</text>
<text x="259.5" y="554.2" font-size="5" text-anchor="middle" font-weight="bold" fill="#111" textLength="5.6" lengthAdjust="spacingAndGlyphs">#2</text>
<text x="53.6" y="575.2" font-size="4.8" text-anchor="middle" fill="#1a1a1a" textLength="73.53" lengthAdjust="spacingAndGlyphs">INTERFERON_ALPHA_RESPONSE</text>
<text x="120.5" y="575.2" font-size="4.9" text-anchor="middle" fill="#1a1a1a" textLength="10.94" lengthAdjust="spacingAndGlyphs">-2.09</text>
<text x="146.5" y="575.2" font-size="4.9" text-anchor="middle" fill="#1a1a1a" textLength="10.94" lengthAdjust="spacingAndGlyphs">-2,28</text>
<text x="174" y="575.2" font-size="4.9" text-anchor="middle" fill="#1a1a1a" textLength="14.81" lengthAdjust="spacingAndGlyphs">&lt;0.001</text>
<text x="202.5" y="575.2" font-size="4.9" text-anchor="middle" fill="#1a1a1a" textLength="14.81" lengthAdjust="spacingAndGlyphs">&lt;0.001</text>
<text x="231" y="575.2" font-size="4.9" text-anchor="middle" fill="#1a1a1a" textLength="14.81" lengthAdjust="spacingAndGlyphs">&lt;0.001</text>
<text x="259.5" y="575.2" font-size="4.9" text-anchor="middle" fill="#1a1a1a" textLength="14.81" lengthAdjust="spacingAndGlyphs">&lt;0.001</text>
<text x="53.6" y="588.7" font-size="4.8" text-anchor="middle" fill="#1a1a1a" textLength="75.75" lengthAdjust="spacingAndGlyphs">INTERFERON_GAMMA_RESPONSE</text>
<text x="120.5" y="588.7" font-size="4.9" text-anchor="middle" fill="#1a1a1a" textLength="10.94" lengthAdjust="spacingAndGlyphs">-1.92</text>
<text x="146.5" y="588.7" font-size="4.9" text-anchor="middle" fill="#1a1a1a" textLength="10.94" lengthAdjust="spacingAndGlyphs">-2,08</text>
<text x="174" y="588.7" font-size="4.9" text-anchor="middle" fill="#1a1a1a" textLength="14.81" lengthAdjust="spacingAndGlyphs">&lt;0.001</text>
<text x="202.5" y="588.7" font-size="4.9" text-anchor="middle" fill="#1a1a1a" textLength="14.81" lengthAdjust="spacingAndGlyphs">&lt;0.001</text>
<text x="231" y="588.7" font-size="4.9" text-anchor="middle" fill="#1a1a1a" textLength="14.81" lengthAdjust="spacingAndGlyphs">&lt;0.001</text>
<text x="259.5" y="588.7" font-size="4.9" text-anchor="middle" fill="#1a1a1a" textLength="14.81" lengthAdjust="spacingAndGlyphs">&lt;0.001</text>
<text x="53.6" y="602.2" font-size="4.8" text-anchor="middle" fill="#1a1a1a" textLength="31.54" lengthAdjust="spacingAndGlyphs">COMPLEMENT</text>
<text x="120.5" y="602.2" font-size="4.9" text-anchor="middle" fill="#1a1a1a" textLength="10.94" lengthAdjust="spacingAndGlyphs">-1.86</text>
<text x="146.5" y="602.2" font-size="4.9" text-anchor="middle" fill="#1a1a1a" textLength="10.94" lengthAdjust="spacingAndGlyphs">-1,91</text>
<text x="174" y="602.2" font-size="4.9" text-anchor="middle" fill="#1a1a1a" textLength="14.81" lengthAdjust="spacingAndGlyphs">&lt;0.001</text>
<text x="202.5" y="602.2" font-size="4.9" text-anchor="middle" fill="#1a1a1a" textLength="14.81" lengthAdjust="spacingAndGlyphs">&lt;0.001</text>
<text x="231" y="602.2" font-size="4.9" text-anchor="middle" fill="#1a1a1a" textLength="14.81" lengthAdjust="spacingAndGlyphs">&lt;0.001</text>
<text x="259.5" y="602.2" font-size="4.9" text-anchor="middle" fill="#1a1a1a" textLength="14.81" lengthAdjust="spacingAndGlyphs">&lt;0.001</text>
<text x="53.6" y="615.7" font-size="4.8" text-anchor="middle" fill="#1a1a1a" textLength="91.91" lengthAdjust="spacingAndGlyphs">EPITHELIAL_MESENCHYMAL_TRANSITION</text>
<text x="120.5" y="615.7" font-size="4.9" text-anchor="middle" fill="#1a1a1a" textLength="10.94" lengthAdjust="spacingAndGlyphs">-1.81</text>
<text x="146.5" y="615.7" font-size="4.9" text-anchor="middle" fill="#1a1a1a" textLength="10.94" lengthAdjust="spacingAndGlyphs">-1,76</text>
<text x="174" y="615.7" font-size="4.9" text-anchor="middle" fill="#1a1a1a" textLength="14.81" lengthAdjust="spacingAndGlyphs">&lt;0.001</text>
<text x="202.5" y="615.7" font-size="4.9" text-anchor="middle" fill="#1a1a1a" textLength="14.81" lengthAdjust="spacingAndGlyphs">&lt;0.001</text>
<text x="231" y="615.7" font-size="4.9" text-anchor="middle" fill="#1a1a1a" textLength="14.81" lengthAdjust="spacingAndGlyphs">&lt;0.001</text>
<text x="259.5" y="615.7" font-size="4.9" text-anchor="middle" fill="#1a1a1a" textLength="14.81" lengthAdjust="spacingAndGlyphs">&lt;0.001</text>
<text x="53.6" y="629.2" font-size="4.8" text-anchor="middle" fill="#1a1a1a" textLength="62.35" lengthAdjust="spacingAndGlyphs">TNFA_SIGNALING_VIA_NFKB</text>
<text x="120.5" y="629.2" font-size="4.9" text-anchor="middle" fill="#1a1a1a" textLength="10.94" lengthAdjust="spacingAndGlyphs">-2,12</text>
<text x="146.5" y="629.2" font-size="4.9" text-anchor="middle" fill="#1a1a1a" textLength="10.94" lengthAdjust="spacingAndGlyphs">-1,65</text>
<text x="174" y="629.2" font-size="4.9" text-anchor="middle" fill="#1a1a1a" textLength="14.81" lengthAdjust="spacingAndGlyphs">&lt;0.001</text>
<text x="202.5" y="629.2" font-size="4.9" text-anchor="middle" fill="#1a1a1a" textLength="14.81" lengthAdjust="spacingAndGlyphs">&lt;0.001</text>
<text x="231" y="629.2" font-size="4.9" text-anchor="middle" fill="#1a1a1a" textLength="14.81" lengthAdjust="spacingAndGlyphs">&lt;0.001</text>
<text x="259.5" y="629.2" font-size="4.9" text-anchor="middle" fill="#1a1a1a" textLength="12.01" lengthAdjust="spacingAndGlyphs">0,002</text>
<text x="53.6" y="642.95" font-size="4.8" text-anchor="middle" fill="#1a1a1a" textLength="62.35" lengthAdjust="spacingAndGlyphs">INFLAMMATORY_RESPONSE</text>
<text x="120.5" y="642.95" font-size="4.9" text-anchor="middle" fill="#1a1a1a" textLength="10.94" lengthAdjust="spacingAndGlyphs">-1.93</text>
<text x="146.5" y="642.95" font-size="4.9" text-anchor="middle" fill="#1a1a1a" textLength="10.94" lengthAdjust="spacingAndGlyphs">-1,55</text>
<text x="174" y="642.95" font-size="4.9" text-anchor="middle" fill="#1a1a1a" textLength="14.81" lengthAdjust="spacingAndGlyphs">&lt;0.001</text>
<text x="202.5" y="642.95" font-size="4.9" text-anchor="middle" fill="#1a1a1a" textLength="14.81" lengthAdjust="spacingAndGlyphs">&lt;0.001</text>
<text x="231" y="642.95" font-size="4.9" text-anchor="middle" fill="#1a1a1a" textLength="14.81" lengthAdjust="spacingAndGlyphs">&lt;0.001</text>
<text x="259.5" y="642.95" font-size="4.9" text-anchor="middle" fill="#1a1a1a" textLength="12.01" lengthAdjust="spacingAndGlyphs">0,009</text>
<text x="53.6" y="656.45" font-size="4.8" text-anchor="middle" fill="#1a1a1a" textLength="59.46" lengthAdjust="spacingAndGlyphs">IL6_JAK_STAT3_SIGNALING</text>
<text x="120.5" y="656.45" font-size="4.9" text-anchor="middle" fill="#1a1a1a" textLength="10.94" lengthAdjust="spacingAndGlyphs">-1.83</text>
<text x="146.5" y="656.45" font-size="4.9" text-anchor="middle" fill="#1a1a1a" textLength="10.94" lengthAdjust="spacingAndGlyphs">-1,61</text>
<text x="174" y="656.45" font-size="4.9" text-anchor="middle" fill="#1a1a1a" textLength="14.81" lengthAdjust="spacingAndGlyphs">&lt;0.001</text>
<text x="202.5" y="656.45" font-size="4.9" text-anchor="middle" fill="#1a1a1a" textLength="14.81" lengthAdjust="spacingAndGlyphs">&lt;0.001</text>
<text x="231" y="656.45" font-size="4.9" text-anchor="middle" fill="#1a1a1a" textLength="14.81" lengthAdjust="spacingAndGlyphs">&lt;0.001</text>
<text x="259.5" y="656.45" font-size="4.9" text-anchor="middle" fill="#1a1a1a" textLength="12.01" lengthAdjust="spacingAndGlyphs">0,004</text>
<text x="331.5" y="495.3" font-size="6.4" text-anchor="middle" font-weight="bold" fill="#111">Interferon_Alpha_Response</text>
<text x="305.65" y="504.7" font-size="4.45" text-anchor="middle" fill="#444">Enrichment plot</text>
<text x="305.65" y="509.8" font-size="4.45" text-anchor="middle" fill="#444">upon shCEMIP#1</text>
<rect x="285.1" y="511.4" width="41.1" height="17.6" fill="#fff" stroke="#d0d0d0" stroke-width="0.4"/>
<path d="M285.1 517.13H326.2M285.1 521.96H326.2M285.1 526.79H326.2M293.32 511.4V529M301.54 511.4V529M309.76 511.4V529M317.98 511.4V529" stroke="#ececec" stroke-width="0.4" fill="none"/>
<text x="284.5" y="513.6" font-size="3.7" text-anchor="end" fill="#555">0</text>
<text x="284.5" y="518.43" font-size="3.7" text-anchor="end" fill="#555">-0.2</text>
<text x="284.5" y="523.26" font-size="3.7" text-anchor="end" fill="#555">-0.4</text>
<text x="284.5" y="528.09" font-size="3.7" text-anchor="end" fill="#555">-0.6</text>
<polyline points="285.7,512.3 286.14,512.49 286.59,512.68 287.03,512.87 287.47,513.06 287.92,513.25 288.36,513.44 288.8,513.63 289.25,513.82 289.69,514.02 290.13,514.21 290.58,514.41 291.02,514.6 291.46,514.8 291.91,515 292.35,515.19 292.79,515.39 293.24,515.59 293.68,515.79 294.12,515.99 294.57,516.19 295.01,516.39 295.45,516.59 295.9,516.8 296.34,517 296.78,517.2 297.23,517.41 297.67,517.61 298.11,517.82 298.56,518.02 299,518.23 299.44,518.44 299.89,518.65 300.33,518.86 300.77,519.07 301.22,519.28 301.66,519.49 302.1,519.7 302.55,519.91 302.99,520.12 303.43,520.34 303.88,520.55 304.32,520.77 304.76,520.98 305.21,521.2 305.65,521.42 306.09,521.63 306.54,521.85 306.98,522.07 307.42,522.29 307.87,522.51 308.31,522.74 308.75,522.96 309.2,523.18 309.64,523.41 310.08,523.64 310.53,523.88 310.97,524.12 311.41,524.37 311.86,524.62 312.3,524.87 312.74,525.12 313.19,525.37 313.63,525.62 314.07,525.85 314.52,526.08 314.96,526.31 315.4,526.52 315.85,526.71 316.29,526.91 316.73,527.12 317.18,527.32 317.62,527.47 318.06,527.51 318.51,527.36 318.95,527.01 319.39,526.49 319.84,525.87 320.28,525.19 320.72,524.51 321.17,523.81 321.61,522.99 322.05,522.07 322.5,521.07 322.94,520.01 323.38,518.9 323.83,517.76 324.27,516.52 324.71,515.19 325.16,513.78 325.6,512.3" fill="none" stroke="#5ae65a" stroke-width="0.85"/>
<path d="M287.19 529V535.5M289.23 529V535.5M295.14 529V535.5M312.68 529V535.5M319.74 529V535.5M321.47 529V535.5" stroke="#b4b4b4" stroke-width="0.5" fill="none"/>
<path d="M296.94 529V535.5M298.19 529V535.5M317.04 529V535.5M324.65 529V535.5M325.24 529V535.5" stroke="#8c8c8c" stroke-width="0.5" fill="none"/>
<path d="M291 529V535.5M299.95 529V535.5M308.37 529V535.5M310.7 529V535.5M318.91 529V535.5" stroke="#646464" stroke-width="0.5" fill="none"/>
<path d="M286.12 529V535.5M293.86 529V535.5M305.61 529V535.5M306.98 529V535.5M309.16 529V535.5M315 529V535.5" stroke="#3c3c3c" stroke-width="0.5" fill="none"/>
<path d="M301.86 529V535.5M313.65 529V535.5M317.68 529V535.5M320.4 529V535.5M323.79 529V535.5" stroke="#1e1e1e" stroke-width="0.5" fill="none"/>
<path d="M291.72 529V535.5M302.45 529V535.5M303.86 529V535.5M311.48 529V535.5M316 529V535.5M322.24 529V535.5M322.91 529V535.5" stroke="#000000" stroke-width="0.5" fill="none"/>
<linearGradient id="g1" x1="0" x2="1" y1="0" y2="0"><stop offset="0" stop-color="#e03a3a"/><stop offset="0.2" stop-color="#e45050"/><stop offset="0.23" stop-color="#eab0cc"/><stop offset="0.6" stop-color="#f0c8dc"/><stop offset="0.64" stop-color="#dcdcf4"/><stop offset="0.82" stop-color="#c0c0ee"/><stop offset="0.85" stop-color="#3535c8"/><stop offset="1" stop-color="#2a2ac4"/></linearGradient>
<rect x="285.1" y="535.5" width="41.1" height="1.7" fill="url(#g1)"/>
<text x="357.2" y="504.7" font-size="4.45" text-anchor="middle" fill="#444">Enrichment plot</text>
<text x="357.2" y="509.8" font-size="4.45" text-anchor="middle" fill="#444">upon shCEMIP#2</text>
<rect x="336.1" y="511.4" width="42.2" height="17.6" fill="#fff" stroke="#d0d0d0" stroke-width="0.4"/>
<path d="M336.1 517.13H378.3M336.1 521.96H378.3M336.1 526.79H378.3M344.54 511.4V529M352.98 511.4V529M361.42 511.4V529M369.86 511.4V529" stroke="#ececec" stroke-width="0.4" fill="none"/>
<text x="335.5" y="513.6" font-size="3.7" text-anchor="end" fill="#555">0</text>
<text x="335.5" y="518.43" font-size="3.7" text-anchor="end" fill="#555">-0.2</text>
<text x="335.5" y="523.26" font-size="3.7" text-anchor="end" fill="#555">-0.4</text>
<text x="335.5" y="528.09" font-size="3.7" text-anchor="end" fill="#555">-0.6</text>
<polyline points="336.7,512.3 337.16,512.51 337.61,512.71 338.07,512.92 338.52,513.13 338.98,513.34 339.43,513.55 339.89,513.76 340.34,513.97 340.8,514.18 341.26,514.39 341.71,514.6 342.17,514.82 342.62,515.03 343.08,515.25 343.53,515.46 343.99,515.68 344.44,515.89 344.9,516.11 345.36,516.33 345.81,516.55 346.27,516.77 346.72,516.99 347.18,517.21 347.63,517.43 348.09,517.65 348.54,517.87 349,518.1 349.46,518.32 349.91,518.55 350.37,518.78 350.82,519.01 351.28,519.25 351.73,519.48 352.19,519.72 352.64,519.96 353.1,520.2 353.56,520.45 354.01,520.69 354.47,520.93 354.92,521.17 355.38,521.41 355.83,521.65 356.29,521.89 356.74,522.13 357.2,522.37 357.66,522.6 358.11,522.84 358.57,523.07 359.02,523.29 359.48,523.52 359.93,523.74 360.39,523.95 360.84,524.17 361.3,524.38 361.76,524.58 362.21,524.79 362.67,525 363.12,525.21 363.58,525.41 364.03,525.62 364.49,525.82 364.94,526.02 365.4,526.22 365.86,526.41 366.31,526.6 366.77,526.79 367.22,526.97 367.68,527.14 368.13,527.31 368.59,527.46 369.04,527.61 369.5,527.76 369.96,527.9 370.41,528.06 370.87,528.21 371.32,528.33 371.78,528.43 372.23,528.48 372.69,528.42 373.14,528.15 373.6,527.69 374.06,527.08 374.51,526.37 374.97,525.55 375.42,524.18 375.88,522.3 376.33,520.19 376.79,517.93 377.24,515.27 377.7,512.3" fill="none" stroke="#5ae65a" stroke-width="0.85"/>
<path d="M347.27 529V535.5" stroke="#b4b4b4" stroke-width="0.5" fill="none"/>
<path d="M339.11 529V535.5M341.27 529V535.5" stroke="#8c8c8c" stroke-width="0.5" fill="none"/>
<path d="M342.28 529V535.5M343.93 529V535.5M348.98 529V535.5M350.98 529V535.5M352.89 529V535.5M359.9 529V535.5M362.85 529V535.5M363.75 529V535.5M372.39 529V535.5M373.96 529V535.5" stroke="#646464" stroke-width="0.5" fill="none"/>
<path d="M338.38 529V535.5M345.66 529V535.5M358.32 529V535.5M366.36 529V535.5M373.15 529V535.5" stroke="#3c3c3c" stroke-width="0.5" fill="none"/>
<path d="M355.52 529V535.5M356.66 529V535.5M368.54 529V535.5M375.46 529V535.5" stroke="#1e1e1e" stroke-width="0.5" fill="none"/>
<path d="M353.81 529V535.5M360.63 529V535.5M361.43 529V535.5M362.16 529V535.5M364.93 529V535.5M367.52 529V535.5M369.8 529V535.5M370.63 529V535.5M371.53 529V535.5M374.8 529V535.5M376.4 529V535.5M377.33 529V535.5" stroke="#000000" stroke-width="0.5" fill="none"/>
<linearGradient id="g2" x1="0" x2="1" y1="0" y2="0"><stop offset="0" stop-color="#e03a3a"/><stop offset="0.2" stop-color="#e45050"/><stop offset="0.23" stop-color="#eab0cc"/><stop offset="0.6" stop-color="#f0c8dc"/><stop offset="0.64" stop-color="#dcdcf4"/><stop offset="0.82" stop-color="#c0c0ee"/><stop offset="0.85" stop-color="#3535c8"/><stop offset="1" stop-color="#2a2ac4"/></linearGradient>
<rect x="336.1" y="535.5" width="42.2" height="1.7" fill="url(#g2)"/>
<text x="332.8" y="546.7" font-size="6.4" text-anchor="middle" font-weight="bold" fill="#111">Interferon_Gamma_Response</text>
<text x="305.85" y="554.9" font-size="4.45" text-anchor="middle" fill="#444">Enrichment plot</text>
<text x="305.85" y="560.3" font-size="4.45" text-anchor="middle" fill="#444">upon shCEMIP#1</text>
<rect x="285.1" y="562.4" width="41.5" height="17.6" fill="#fff" stroke="#d0d0d0" stroke-width="0.4"/>
<path d="M285.1 568.13H326.6M285.1 572.96H326.6M285.1 577.79H326.6M293.4 562.4V580M301.7 562.4V580M310 562.4V580M318.3 562.4V580" stroke="#ececec" stroke-width="0.4" fill="none"/>
<text x="284.5" y="564.6" font-size="3.7" text-anchor="end" fill="#555">0</text>
<text x="284.5" y="569.43" font-size="3.7" text-anchor="end" fill="#555">-0.2</text>
<text x="284.5" y="574.26" font-size="3.7" text-anchor="end" fill="#555">-0.4</text>
<text x="284.5" y="579.09" font-size="3.7" text-anchor="end" fill="#555">-0.6</text>
<polyline points="285.7,563.3 286.15,563.3 286.6,563.32 287.04,563.33 287.49,563.36 287.94,563.39 288.39,563.42 288.83,563.46 289.28,563.5 289.73,563.54 290.18,563.6 290.63,563.68 291.07,563.78 291.52,563.91 291.97,564.06 292.42,564.22 292.86,564.4 293.31,564.6 293.76,564.8 294.21,565.02 294.66,565.25 295.1,565.48 295.55,565.72 296,565.96 296.45,566.2 296.89,566.45 297.34,566.69 297.79,566.92 298.24,567.17 298.69,567.43 299.13,567.7 299.58,567.99 300.03,568.29 300.48,568.6 300.92,568.92 301.37,569.25 301.82,569.58 302.27,569.91 302.72,570.25 303.16,570.58 303.61,570.91 304.06,571.24 304.51,571.56 304.95,571.88 305.4,572.18 305.85,572.48 306.3,572.77 306.75,573.06 307.19,573.35 307.64,573.64 308.09,573.94 308.54,574.23 308.98,574.52 309.43,574.81 309.88,575.09 310.33,575.37 310.78,575.64 311.22,575.9 311.67,576.16 312.12,576.41 312.57,576.65 313.01,576.88 313.46,577.1 313.91,577.31 314.36,577.52 314.81,577.74 315.25,577.97 315.7,578.17 316.15,578.34 316.6,578.46 317.04,578.51 317.49,578.49 317.94,578.38 318.39,578.21 318.84,577.99 319.28,577.73 319.73,577.45 320.18,577.15 320.63,576.76 321.07,576.28 321.52,575.71 321.97,575.06 322.42,574.34 322.87,573.55 323.31,572.69 323.76,571.64 324.21,570.37 324.66,568.93 325.1,567.33 325.55,565.6 326,563.78" fill="none" stroke="#5ae65a" stroke-width="0.85"/>
<path d="M286.29 580V586.5M287.1 580V586.5M288.58 580V586.5" stroke="#c8c8c8" stroke-width="0.5" fill="none"/>
<path d="M294.77 580V586.5M304.48 580V586.5M305.07 580V586.5M309.7 580V586.5" stroke="#b4b4b4" stroke-width="0.5" fill="none"/>
<path d="M293.41 580V586.5M313.61 580V586.5M314.55 580V586.5M321.23 580V586.5" stroke="#8c8c8c" stroke-width="0.5" fill="none"/>
<path d="M300.55 580V586.5M303.88 580V586.5M305.95 580V586.5M320.33 580V586.5M325.7 580V586.5" stroke="#646464" stroke-width="0.5" fill="none"/>
<path d="M289.26 580V586.5M291.51 580V586.5M296.23 580V586.5M307.36 580V586.5M308.73 580V586.5M312.86 580V586.5M322.76 580V586.5M325.13 580V586.5" stroke="#3c3c3c" stroke-width="0.5" fill="none"/>
<path d="M317.01 580V586.5" stroke="#1e1e1e" stroke-width="0.5" fill="none"/>
<path d="M292.53 580V586.5M297.79 580V586.5M298.7 580V586.5M301.65 580V586.5M303.12 580V586.5M310.85 580V586.5M312.28 580V586.5M315.45 580V586.5M316.28 580V586.5M318.25 580V586.5M319.22 580V586.5M322.14 580V586.5M323.81 580V586.5M324.39 580V586.5" stroke="#000000" stroke-width="0.5" fill="none"/>
<linearGradient id="g3" x1="0" x2="1" y1="0" y2="0"><stop offset="0" stop-color="#e03a3a"/><stop offset="0.2" stop-color="#e45050"/><stop offset="0.23" stop-color="#eab0cc"/><stop offset="0.6" stop-color="#f0c8dc"/><stop offset="0.64" stop-color="#dcdcf4"/><stop offset="0.82" stop-color="#c0c0ee"/><stop offset="0.85" stop-color="#3535c8"/><stop offset="1" stop-color="#2a2ac4"/></linearGradient>
<rect x="285.1" y="586.5" width="41.5" height="1.7" fill="url(#g3)"/>
<text x="357.4" y="554.9" font-size="4.45" text-anchor="middle" fill="#444">Enrichment plot</text>
<text x="357.4" y="560.3" font-size="4.45" text-anchor="middle" fill="#444">upon shCEMIP#2</text>
<rect x="336.1" y="562.4" width="42.6" height="17.6" fill="#fff" stroke="#d0d0d0" stroke-width="0.4"/>
<path d="M336.1 568.13H378.7M336.1 572.96H378.7M336.1 577.79H378.7M344.62 562.4V580M353.14 562.4V580M361.66 562.4V580M370.18 562.4V580" stroke="#ececec" stroke-width="0.4" fill="none"/>
<text x="335.5" y="564.6" font-size="3.7" text-anchor="end" fill="#555">0</text>
<text x="335.5" y="569.43" font-size="3.7" text-anchor="end" fill="#555">-0.2</text>
<text x="335.5" y="574.26" font-size="3.7" text-anchor="end" fill="#555">-0.4</text>
<text x="335.5" y="579.09" font-size="3.7" text-anchor="end" fill="#555">-0.6</text>
<polyline points="336.7,563.3 337.16,563.38 337.62,563.46 338.08,563.56 338.54,563.66 339,563.77 339.46,563.88 339.92,564.01 340.38,564.14 340.84,564.27 341.3,564.41 341.76,564.56 342.22,564.71 342.68,564.87 343.14,565.03 343.6,565.2 344.06,565.36 344.52,565.54 344.98,565.71 345.44,565.9 345.9,566.11 346.36,566.33 346.82,566.57 347.28,566.83 347.74,567.09 348.2,567.37 348.66,567.66 349.12,567.96 349.58,568.26 350.04,568.58 350.5,568.9 350.96,569.22 351.42,569.54 351.88,569.87 352.34,570.2 352.8,570.52 353.26,570.85 353.72,571.17 354.18,571.48 354.64,571.79 355.1,572.09 355.56,572.39 356.02,572.67 356.48,572.94 356.94,573.2 357.4,573.44 357.86,573.68 358.32,573.91 358.78,574.15 359.24,574.38 359.7,574.6 360.16,574.83 360.62,575.05 361.08,575.27 361.54,575.49 362,575.7 362.46,575.91 362.92,576.12 363.38,576.32 363.84,576.52 364.3,576.72 364.76,576.91 365.22,577.09 365.68,577.27 366.14,577.45 366.6,577.62 367.06,577.79 367.52,577.95 367.98,578.11 368.44,578.29 368.9,578.47 369.36,578.64 369.82,578.79 370.28,578.91 370.74,578.98 371.2,578.99 371.66,578.85 372.12,578.58 372.58,578.18 373.04,577.7 373.5,577.15 373.96,576.58 374.42,575.88 374.88,574.94 375.34,573.81 375.8,572.52 376.26,571.13 376.72,569.6 377.18,567.74 377.64,565.61 378.1,563.3" fill="none" stroke="#5ae65a" stroke-width="0.85"/>
<path d="M340.74 580V586.5" stroke="#c8c8c8" stroke-width="0.5" fill="none"/>
<path d="M339.3 580V586.5M343 580V586.5M347.37 580V586.5M350.97 580V586.5M353.68 580V586.5M355.22 580V586.5M361.08 580V586.5M369.04 580V586.5" stroke="#b4b4b4" stroke-width="0.5" fill="none"/>
<path d="M373.8 580V586.5" stroke="#8c8c8c" stroke-width="0.5" fill="none"/>
<path d="M346.23 580V586.5M357.51 580V586.5M362.54 580V586.5M365.33 580V586.5M370.4 580V586.5M375.98 580V586.5" stroke="#646464" stroke-width="0.5" fill="none"/>
<path d="M337.31 580V586.5M340.15 580V586.5M358.47 580V586.5M369.65 580V586.5M372.1 580V586.5" stroke="#3c3c3c" stroke-width="0.5" fill="none"/>
<path d="M351.9 580V586.5M352.73 580V586.5M356.86 580V586.5M360.43 580V586.5M366.5 580V586.5M376.64 580V586.5M378.15 580V586.5" stroke="#1e1e1e" stroke-width="0.5" fill="none"/>
<path d="M345.3 580V586.5M348.2 580V586.5M349.16 580V586.5M359.6 580V586.5M363.92 580V586.5M367.48 580V586.5M368.26 580V586.5M371.43 580V586.5M373.04 580V586.5M374.69 580V586.5M375.29 580V586.5M377.31 580V586.5" stroke="#000000" stroke-width="0.5" fill="none"/>
<linearGradient id="g4" x1="0" x2="1" y1="0" y2="0"><stop offset="0" stop-color="#e03a3a"/><stop offset="0.2" stop-color="#e45050"/><stop offset="0.23" stop-color="#eab0cc"/><stop offset="0.6" stop-color="#f0c8dc"/><stop offset="0.64" stop-color="#dcdcf4"/><stop offset="0.82" stop-color="#c0c0ee"/><stop offset="0.85" stop-color="#3535c8"/><stop offset="1" stop-color="#2a2ac4"/></linearGradient>
<rect x="336.1" y="586.5" width="42.6" height="1.7" fill="url(#g4)"/>
<text x="330.6" y="595.1" font-size="6.4" text-anchor="middle" font-weight="bold" fill="#111">COMPLEMENT</text>
<text x="305.85" y="603.1" font-size="4.45" text-anchor="middle" fill="#444">Enrichment plot</text>
<text x="305.85" y="608.7" font-size="4.45" text-anchor="middle" fill="#444">upon shCEMIP#1</text>
<rect x="285.1" y="611.4" width="41.5" height="17.6" fill="#fff" stroke="#d0d0d0" stroke-width="0.4"/>
<path d="M285.1 617.13H326.6M285.1 621.96H326.6M285.1 626.79H326.6M293.4 611.4V629M301.7 611.4V629M310 611.4V629M318.3 611.4V629" stroke="#ececec" stroke-width="0.4" fill="none"/>
<text x="284.5" y="613.6" font-size="3.7" text-anchor="end" fill="#555">0</text>
<text x="284.5" y="618.43" font-size="3.7" text-anchor="end" fill="#555">-0.2</text>
<text x="284.5" y="623.26" font-size="3.7" text-anchor="end" fill="#555">-0.4</text>
<text x="284.5" y="628.09" font-size="3.7" text-anchor="end" fill="#555">-0.6</text>
<polyline points="285.7,612.3 286.15,612.31 286.6,612.34 287.04,612.38 287.49,612.43 287.94,612.49 288.39,612.55 288.83,612.63 289.28,612.7 289.73,612.78 290.18,612.87 290.63,612.99 291.07,613.13 291.52,613.28 291.97,613.46 292.42,613.66 292.86,613.87 293.31,614.1 293.76,614.34 294.21,614.59 294.66,614.86 295.1,615.13 295.55,615.41 296,615.7 296.45,616 296.89,616.3 297.34,616.61 297.79,616.91 298.24,617.22 298.69,617.53 299.13,617.83 299.58,618.13 300.03,618.43 300.48,618.72 300.92,619.01 301.37,619.28 301.82,619.54 302.27,619.81 302.72,620.08 303.16,620.36 303.61,620.65 304.06,620.94 304.51,621.24 304.95,621.53 305.4,621.83 305.85,622.13 306.3,622.43 306.75,622.73 307.19,623.02 307.64,623.31 308.09,623.59 308.54,623.87 308.98,624.13 309.43,624.39 309.88,624.64 310.33,624.87 310.78,625.09 311.22,625.3 311.67,625.49 312.12,625.67 312.57,625.85 313.01,626.04 313.46,626.22 313.91,626.4 314.36,626.58 314.81,626.75 315.25,626.91 315.7,627.06 316.15,627.19 316.6,627.3 317.04,627.39 317.49,627.46 317.94,627.5 318.39,627.51 318.84,627.47 319.28,627.36 319.73,627.18 320.18,626.95 320.63,626.67 321.07,626.34 321.52,625.98 321.97,625.58 322.42,624.98 322.87,624.04 323.31,622.86 323.76,621.52 324.21,620.11 324.66,618.65 325.1,616.96 325.55,615.06 326,613.02" fill="none" stroke="#5ae65a" stroke-width="0.85"/>
<path d="M288.99 629V635.5" stroke="#c8c8c8" stroke-width="0.5" fill="none"/>
<path d="M289.59 629V635.5M300.1 629V635.5M305.74 629V635.5M306.3 629V635.5M325.73 629V635.5" stroke="#b4b4b4" stroke-width="0.5" fill="none"/>
<path d="M286.86 629V635.5M298.41 629V635.5M310.66 629V635.5M313.29 629V635.5" stroke="#8c8c8c" stroke-width="0.5" fill="none"/>
<path d="M297.47 629V635.5M304.08 629V635.5M316.94 629V635.5M322.59 629V635.5M323.33 629V635.5" stroke="#646464" stroke-width="0.5" fill="none"/>
<path d="M294.04 629V635.5M296.05 629V635.5M314.01 629V635.5" stroke="#3c3c3c" stroke-width="0.5" fill="none"/>
<path d="M299.29 629V635.5M308.66 629V635.5" stroke="#1e1e1e" stroke-width="0.5" fill="none"/>
<path d="M291.59 629V635.5M293.3 629V635.5M301.75 629V635.5M303.34 629V635.5M305.19 629V635.5M307.1 629V635.5M309.55 629V635.5M311.84 629V635.5M314.82 629V635.5M316.15 629V635.5M317.93 629V635.5M318.7 629V635.5M319.72 629V635.5M320.71 629V635.5M321.82 629V635.5M324.1 629V635.5M325.08 629V635.5" stroke="#000000" stroke-width="0.5" fill="none"/>
<linearGradient id="g5" x1="0" x2="1" y1="0" y2="0"><stop offset="0" stop-color="#e03a3a"/><stop offset="0.2" stop-color="#e45050"/><stop offset="0.23" stop-color="#eab0cc"/><stop offset="0.6" stop-color="#f0c8dc"/><stop offset="0.64" stop-color="#dcdcf4"/><stop offset="0.82" stop-color="#c0c0ee"/><stop offset="0.85" stop-color="#3535c8"/><stop offset="1" stop-color="#2a2ac4"/></linearGradient>
<rect x="285.1" y="635.5" width="41.5" height="1.7" fill="url(#g5)"/>
<text x="357.4" y="603.1" font-size="4.45" text-anchor="middle" fill="#444">Enrichment plot</text>
<text x="357.4" y="608.7" font-size="4.45" text-anchor="middle" fill="#444">upon shCEMIP#2</text>
<rect x="336.1" y="611.4" width="42.6" height="17.6" fill="#fff" stroke="#d0d0d0" stroke-width="0.4"/>
<path d="M336.1 617.13H378.7M336.1 621.96H378.7M336.1 626.79H378.7M344.62 611.4V629M353.14 611.4V629M361.66 611.4V629M370.18 611.4V629" stroke="#ececec" stroke-width="0.4" fill="none"/>
<text x="335.5" y="613.6" font-size="3.7" text-anchor="end" fill="#555">0</text>
<text x="335.5" y="618.43" font-size="3.7" text-anchor="end" fill="#555">-0.2</text>
<text x="335.5" y="623.26" font-size="3.7" text-anchor="end" fill="#555">-0.4</text>
<text x="335.5" y="628.09" font-size="3.7" text-anchor="end" fill="#555">-0.6</text>
<polyline points="336.7,612.3 337.16,612.2 337.62,612.13 338.08,612.09 338.54,612.06 339,612.06 339.46,612.1 339.92,612.18 340.38,612.29 340.84,612.42 341.3,612.58 341.76,612.76 342.22,612.96 342.68,613.16 343.14,613.38 343.6,613.59 344.06,613.81 344.52,614.03 344.98,614.23 345.44,614.44 345.9,614.66 346.36,614.9 346.82,615.15 347.28,615.41 347.74,615.69 348.2,615.97 348.66,616.26 349.12,616.56 349.58,616.87 350.04,617.18 350.5,617.49 350.96,617.81 351.42,618.13 351.88,618.45 352.34,618.77 352.8,619.09 353.26,619.41 353.72,619.72 354.18,620.03 354.64,620.33 355.1,620.63 355.56,620.91 356.02,621.19 356.48,621.46 356.94,621.72 357.4,621.96 357.86,622.2 358.32,622.43 358.78,622.66 359.24,622.89 359.7,623.12 360.16,623.35 360.62,623.57 361.08,623.79 361.54,624.01 362,624.22 362.46,624.43 362.92,624.64 363.38,624.84 363.84,625.04 364.3,625.23 364.76,625.42 365.22,625.61 365.68,625.79 366.14,625.97 366.6,626.14 367.06,626.31 367.52,626.47 367.98,626.63 368.44,626.8 368.9,626.98 369.36,627.16 369.82,627.31 370.28,627.43 370.74,627.5 371.2,627.5 371.66,627.32 372.12,626.94 372.58,626.41 373.04,625.77 373.5,625.08 373.96,624.38 374.42,623.59 374.88,622.63 375.34,621.52 375.8,620.29 376.26,618.96 376.72,617.56 377.18,616.04 377.64,614.25 378.1,612.3" fill="none" stroke="#5ae65a" stroke-width="0.85"/>
<path d="M342.07 629V635.5M345.56 629V635.5M354.57 629V635.5M360.72 629V635.5M363.44 629V635.5M374.88 629V635.5" stroke="#b4b4b4" stroke-width="0.5" fill="none"/>
<path d="M339.65 629V635.5M344.37 629V635.5M348.02 629V635.5M353.66 629V635.5M361.54 629V635.5M368.94 629V635.5" stroke="#8c8c8c" stroke-width="0.5" fill="none"/>
<path d="M340.27 629V635.5M349.94 629V635.5M352.13 629V635.5" stroke="#646464" stroke-width="0.5" fill="none"/>
<path d="M338.14 629V635.5M346.14 629V635.5" stroke="#3c3c3c" stroke-width="0.5" fill="none"/>
<path d="M357.53 629V635.5M359.27 629V635.5M373.46 629V635.5M376.25 629V635.5" stroke="#1e1e1e" stroke-width="0.5" fill="none"/>
<path d="M351.3 629V635.5M355.92 629V635.5M362.18 629V635.5M364.27 629V635.5M365.36 629V635.5M366.64 629V635.5M367.89 629V635.5M369.86 629V635.5M370.58 629V635.5M371.53 629V635.5M372.51 629V635.5M374.22 629V635.5M375.69 629V635.5M377.1 629V635.5M377.81 629V635.5" stroke="#000000" stroke-width="0.5" fill="none"/>
<linearGradient id="g6" x1="0" x2="1" y1="0" y2="0"><stop offset="0" stop-color="#e03a3a"/><stop offset="0.2" stop-color="#e45050"/><stop offset="0.23" stop-color="#eab0cc"/><stop offset="0.6" stop-color="#f0c8dc"/><stop offset="0.64" stop-color="#dcdcf4"/><stop offset="0.82" stop-color="#c0c0ee"/><stop offset="0.85" stop-color="#3535c8"/><stop offset="1" stop-color="#2a2ac4"/></linearGradient>
<rect x="336.1" y="635.5" width="42.6" height="1.7" fill="url(#g6)"/>
<text x="333.5" y="643.7" font-size="6.4" text-anchor="middle" font-weight="bold" fill="#111">Epithelial_Mesenchymal_Transition</text>
<text x="305.85" y="651.8" font-size="4.45" text-anchor="middle" fill="#444">Enrichment plot</text>
<text x="305.85" y="656.9" font-size="4.45" text-anchor="middle" fill="#444">upon shCEMIP#1</text>
<rect x="285.1" y="659.5" width="41.5" height="17.6" fill="#fff" stroke="#d0d0d0" stroke-width="0.4"/>
<path d="M285.1 665.23H326.6M285.1 670.06H326.6M285.1 674.89H326.6M293.4 659.5V677.1M301.7 659.5V677.1M310 659.5V677.1M318.3 659.5V677.1" stroke="#ececec" stroke-width="0.4" fill="none"/>
<text x="284.5" y="661.7" font-size="3.7" text-anchor="end" fill="#555">0</text>
<text x="284.5" y="666.53" font-size="3.7" text-anchor="end" fill="#555">-0.2</text>
<text x="284.5" y="671.36" font-size="3.7" text-anchor="end" fill="#555">-0.4</text>
<text x="284.5" y="676.19" font-size="3.7" text-anchor="end" fill="#555">-0.6</text>
<polyline points="285.7,660.4 286.15,660.41 286.6,660.42 287.04,660.45 287.49,660.49 287.94,660.53 288.39,660.58 288.83,660.63 289.28,660.69 289.73,660.78 290.18,660.9 290.63,661.04 291.07,661.2 291.52,661.38 291.97,661.59 292.42,661.82 292.86,662.06 293.31,662.32 293.76,662.59 294.21,662.87 294.66,663.17 295.1,663.47 295.55,663.79 296,664.1 296.45,664.43 296.89,664.76 297.34,665.09 297.79,665.42 298.24,665.74 298.69,666.07 299.13,666.39 299.58,666.7 300.03,667.01 300.48,667.31 300.92,667.59 301.37,667.87 301.82,668.13 302.27,668.38 302.72,668.64 303.16,668.91 303.61,669.17 304.06,669.44 304.51,669.71 304.95,669.98 305.4,670.25 305.85,670.52 306.3,670.79 306.75,671.05 307.19,671.31 307.64,671.57 308.09,671.83 308.54,672.07 308.98,672.31 309.43,672.55 309.88,672.78 310.33,672.99 310.78,673.2 311.22,673.4 311.67,673.59 312.12,673.77 312.57,673.96 313.01,674.15 313.46,674.34 313.91,674.53 314.36,674.72 314.81,674.91 315.25,675.08 315.7,675.25 316.15,675.4 316.6,675.53 317.04,675.65 317.49,675.74 317.94,675.81 318.39,675.85 318.84,675.85 319.28,675.79 319.73,675.63 320.18,675.41 320.63,675.11 321.07,674.76 321.52,674.36 321.97,673.92 322.42,673.28 322.87,672.29 323.31,671.06 323.76,669.68 324.21,668.22 324.66,666.74 325.1,665.03 325.55,663.15 326,661.12" fill="none" stroke="#5ae65a" stroke-width="0.85"/>
<path d="M288.44 677.1V683.6M289.17 677.1V683.6M289.83 677.1V683.6" stroke="#c8c8c8" stroke-width="0.5" fill="none"/>
<path d="M294.38 677.1V683.6M307.12 677.1V683.6M321.5 677.1V683.6" stroke="#b4b4b4" stroke-width="0.5" fill="none"/>
<path d="M309.64 677.1V683.6M313.32 677.1V683.6M325.88 677.1V683.6" stroke="#8c8c8c" stroke-width="0.5" fill="none"/>
<path d="M286.42 677.1V683.6M293.09 677.1V683.6M297.43 677.1V683.6M299.45 677.1V683.6M306.2 677.1V683.6M312.58 677.1V683.6" stroke="#646464" stroke-width="0.5" fill="none"/>
<path d="M287.75 677.1V683.6M290.78 677.1V683.6M325.3 677.1V683.6" stroke="#3c3c3c" stroke-width="0.5" fill="none"/>
<path d="M317.81 677.1V683.6" stroke="#1e1e1e" stroke-width="0.5" fill="none"/>
<path d="M292.12 677.1V683.6M295.87 677.1V683.6M300.85 677.1V683.6M302.78 677.1V683.6M304.06 677.1V683.6M304.98 677.1V683.6M308.45 677.1V683.6M310.38 677.1V683.6M311.49 677.1V683.6M314.35 677.1V683.6M315.4 677.1V683.6M316.15 677.1V683.6M316.89 677.1V683.6M318.56 677.1V683.6M319.4 677.1V683.6M320.55 677.1V683.6M322.49 677.1V683.6M323.4 677.1V683.6M324.33 677.1V683.6" stroke="#000000" stroke-width="0.5" fill="none"/>
<linearGradient id="g7" x1="0" x2="1" y1="0" y2="0"><stop offset="0" stop-color="#e03a3a"/><stop offset="0.2" stop-color="#e45050"/><stop offset="0.23" stop-color="#eab0cc"/><stop offset="0.6" stop-color="#f0c8dc"/><stop offset="0.64" stop-color="#dcdcf4"/><stop offset="0.82" stop-color="#c0c0ee"/><stop offset="0.85" stop-color="#3535c8"/><stop offset="1" stop-color="#2a2ac4"/></linearGradient>
<rect x="285.1" y="683.6" width="41.5" height="1.7" fill="url(#g7)"/>
<text x="357.4" y="651.8" font-size="4.45" text-anchor="middle" fill="#444">Enrichment plot</text>
<text x="357.4" y="656.9" font-size="4.45" text-anchor="middle" fill="#444">upon shCEMIP#2</text>
<rect x="336.1" y="659.5" width="42.6" height="17.6" fill="#fff" stroke="#d0d0d0" stroke-width="0.4"/>
<path d="M336.1 665.23H378.7M336.1 670.06H378.7M336.1 674.89H378.7M344.62 659.5V677.1M353.14 659.5V677.1M361.66 659.5V677.1M370.18 659.5V677.1" stroke="#ececec" stroke-width="0.4" fill="none"/>
<text x="335.5" y="661.7" font-size="3.7" text-anchor="end" fill="#555">0</text>
<text x="335.5" y="666.53" font-size="3.7" text-anchor="end" fill="#555">-0.2</text>
<text x="335.5" y="671.36" font-size="3.7" text-anchor="end" fill="#555">-0.4</text>
<text x="335.5" y="676.19" font-size="3.7" text-anchor="end" fill="#555">-0.6</text>
<polyline points="336.7,660.4 337.16,660.3 337.62,660.23 338.08,660.18 338.54,660.16 339,660.17 339.46,660.22 339.92,660.31 340.38,660.45 340.84,660.62 341.3,660.82 341.76,661.04 342.22,661.28 342.68,661.54 343.14,661.8 343.6,662.07 344.06,662.33 344.52,662.58 344.98,662.81 345.44,663.05 345.9,663.3 346.36,663.56 346.82,663.82 347.28,664.1 347.74,664.39 348.2,664.68 348.66,664.98 349.12,665.28 349.58,665.59 350.04,665.91 350.5,666.22 350.96,666.54 351.42,666.85 351.88,667.17 352.34,667.48 352.8,667.79 353.26,668.1 353.72,668.4 354.18,668.7 354.64,668.99 355.1,669.27 355.56,669.55 356.02,669.81 356.48,670.07 356.94,670.31 357.4,670.54 357.86,670.76 358.32,670.98 358.78,671.2 359.24,671.4 359.7,671.61 360.16,671.81 360.62,672.01 361.08,672.2 361.54,672.4 362,672.58 362.46,672.77 362.92,672.95 363.38,673.13 363.84,673.31 364.3,673.48 364.76,673.66 365.22,673.83 365.68,674 366.14,674.17 366.6,674.33 367.06,674.5 367.52,674.66 367.98,674.82 368.44,674.99 368.9,675.18 369.36,675.38 369.82,675.57 370.28,675.76 370.74,675.91 371.2,676.03 371.66,676.09 372.12,676.08 372.58,675.93 373.04,675.64 373.5,675.24 373.96,674.75 374.42,674.18 374.88,673.54 375.34,672.44 375.8,670.86 376.26,668.98 376.72,667.01 377.18,665.03 377.64,662.81 378.1,660.4" fill="none" stroke="#5ae65a" stroke-width="0.85"/>
<path d="M340.94 677.1V683.6" stroke="#c8c8c8" stroke-width="0.5" fill="none"/>
<path d="M337.29 677.1V683.6M345.38 677.1V683.6M352.92 677.1V683.6M376 677.1V683.6" stroke="#b4b4b4" stroke-width="0.5" fill="none"/>
<path d="M352 677.1V683.6M358.61 677.1V683.6M373.87 677.1V683.6M377.37 677.1V683.6" stroke="#8c8c8c" stroke-width="0.5" fill="none"/>
<path d="M338.81 677.1V683.6M344.5 677.1V683.6M349.21 677.1V683.6M353.56 677.1V683.6M362.14 677.1V683.6M371.2 677.1V683.6" stroke="#646464" stroke-width="0.5" fill="none"/>
<path d="M338.1 677.1V683.6M341.88 677.1V683.6M343.26 677.1V683.6M346.61 677.1V683.6M350.38 677.1V683.6M363.65 677.1V683.6" stroke="#3c3c3c" stroke-width="0.5" fill="none"/>
<path d="M356.63 677.1V683.6M370.07 677.1V683.6M371.95 677.1V683.6" stroke="#1e1e1e" stroke-width="0.5" fill="none"/>
<path d="M347.54 677.1V683.6M355.23 677.1V683.6M357.47 677.1V683.6M359.76 677.1V683.6M360.95 677.1V683.6M364.87 677.1V683.6M366.27 677.1V683.6M367.31 677.1V683.6M368.15 677.1V683.6M369.29 677.1V683.6M372.82 677.1V683.6M374.61 677.1V683.6M375.27 677.1V683.6M376.75 677.1V683.6M377.93 677.1V683.6" stroke="#000000" stroke-width="0.5" fill="none"/>
<linearGradient id="g8" x1="0" x2="1" y1="0" y2="0"><stop offset="0" stop-color="#e03a3a"/><stop offset="0.2" stop-color="#e45050"/><stop offset="0.23" stop-color="#eab0cc"/><stop offset="0.6" stop-color="#f0c8dc"/><stop offset="0.64" stop-color="#dcdcf4"/><stop offset="0.82" stop-color="#c0c0ee"/><stop offset="0.85" stop-color="#3535c8"/><stop offset="1" stop-color="#2a2ac4"/></linearGradient>
<rect x="336.1" y="683.6" width="42.6" height="1.7" fill="url(#g8)"/>
<text x="436.5" y="494.1" font-size="6.4" text-anchor="middle" font-weight="bold" fill="#111">TNFA_SIGNALING_VIA_NFKB</text>
<text x="415" y="504.6" font-size="4.45" text-anchor="middle" fill="#444">Enrichment plot</text>
<text x="415" y="509.7" font-size="4.45" text-anchor="middle" fill="#444">upon shCEMIP#1</text>
<rect x="394.6" y="511.1" width="40.8" height="18.2" fill="#fff" stroke="#d0d0d0" stroke-width="0.4"/>
<path d="M394.6 517.43H435.4M394.6 522.26H435.4M394.6 527.09H435.4M402.76 511.1V529.3M410.92 511.1V529.3M419.08 511.1V529.3M427.24 511.1V529.3" stroke="#ececec" stroke-width="0.4" fill="none"/>
<text x="394" y="513.9" font-size="3.7" text-anchor="end" fill="#555">0</text>
<text x="394" y="518.73" font-size="3.7" text-anchor="end" fill="#555">-0.2</text>
<text x="394" y="523.56" font-size="3.7" text-anchor="end" fill="#555">-0.4</text>
<text x="394" y="528.39" font-size="3.7" text-anchor="end" fill="#555">-0.6</text>
<polyline points="395.2,512.6 395.64,512.85 396.08,513.1 396.52,513.34 396.96,513.59 397.4,513.83 397.84,514.08 398.28,514.32 398.72,514.57 399.16,514.81 399.6,515.05 400.04,515.29 400.48,515.53 400.92,515.77 401.36,516.01 401.8,516.24 402.24,516.48 402.68,516.71 403.12,516.95 403.56,517.18 404,517.42 404.44,517.65 404.88,517.89 405.32,518.13 405.76,518.37 406.2,518.61 406.64,518.85 407.08,519.09 407.52,519.32 407.96,519.56 408.4,519.8 408.84,520.03 409.28,520.26 409.72,520.49 410.16,520.72 410.6,520.95 411.04,521.17 411.48,521.39 411.92,521.6 412.36,521.82 412.8,522.02 413.24,522.23 413.68,522.42 414.12,522.62 414.56,522.8 415,522.98 415.44,523.16 415.88,523.33 416.32,523.5 416.76,523.67 417.2,523.84 417.64,524 418.08,524.15 418.52,524.31 418.96,524.46 419.4,524.61 419.84,524.76 420.28,524.91 420.72,525.05 421.16,525.2 421.6,525.34 422.04,525.48 422.48,525.62 422.92,525.76 423.36,525.89 423.8,526.03 424.24,526.16 424.68,526.3 425.12,526.43 425.56,526.58 426,526.74 426.44,526.91 426.88,527.07 427.32,527.23 427.76,527.38 428.2,527.52 428.64,527.63 429.08,527.73 429.52,527.79 429.96,527.81 430.4,527.75 430.84,527.49 431.28,527.08 431.72,526.55 432.16,525.89 432.6,524.56 433.04,522.65 433.48,520.49 433.92,518.23 434.36,515.57 434.8,512.6" fill="none" stroke="#5ae65a" stroke-width="0.85"/>
<path d="M400.6 529.3V535.8M411.55 529.3V535.8M420.22 529.3V535.8" stroke="#b4b4b4" stroke-width="0.5" fill="none"/>
<path d="M396.11 529.3V535.8M405.6 529.3V535.8M406.76 529.3V535.8M408.77 529.3V535.8M413.97 529.3V535.8M415 529.3V535.8M425.41 529.3V535.8M431.19 529.3V535.8" stroke="#8c8c8c" stroke-width="0.5" fill="none"/>
<path d="M397.19 529.3V535.8M403.89 529.3V535.8M413.34 529.3V535.8M429.4 529.3V535.8M431.83 529.3V535.8M434.11 529.3V535.8" stroke="#646464" stroke-width="0.5" fill="none"/>
<path d="M399.42 529.3V535.8M418.74 529.3V535.8" stroke="#3c3c3c" stroke-width="0.5" fill="none"/>
<path d="M416.61 529.3V535.8M421.96 529.3V535.8M432.4 529.3V535.8" stroke="#1e1e1e" stroke-width="0.5" fill="none"/>
<path d="M402.77 529.3V535.8M409.93 529.3V535.8M410.82 529.3V535.8M417.4 529.3V535.8M421.04 529.3V535.8M423.25 529.3V535.8M423.8 529.3V535.8M424.67 529.3V535.8M426.04 529.3V535.8M427.16 529.3V535.8M427.85 529.3V535.8M428.49 529.3V535.8M430.21 529.3V535.8M433.24 529.3V535.8M434.71 529.3V535.8" stroke="#000000" stroke-width="0.5" fill="none"/>
<linearGradient id="g9" x1="0" x2="1" y1="0" y2="0"><stop offset="0" stop-color="#e03a3a"/><stop offset="0.2" stop-color="#e45050"/><stop offset="0.23" stop-color="#eab0cc"/><stop offset="0.6" stop-color="#f0c8dc"/><stop offset="0.64" stop-color="#dcdcf4"/><stop offset="0.82" stop-color="#c0c0ee"/><stop offset="0.85" stop-color="#3535c8"/><stop offset="1" stop-color="#2a2ac4"/></linearGradient>
<rect x="394.6" y="535.8" width="40.8" height="1.7" fill="url(#g9)"/>
<text x="467.5" y="504.6" font-size="4.45" text-anchor="middle" fill="#444">Enrichment plot</text>
<text x="467.5" y="509.7" font-size="4.45" text-anchor="middle" fill="#444">upon shCEMIP#2</text>
<rect x="447.1" y="513.5" width="40.8" height="16.4" fill="#fff" stroke="#d0d0d0" stroke-width="0.4"/>
<path d="M447.1 519.4H487.9M447.1 524.1H487.9M447.1 528.8H487.9M455.26 513.5V529.9M463.42 513.5V529.9M471.58 513.5V529.9M479.74 513.5V529.9" stroke="#ececec" stroke-width="0.4" fill="none"/>
<text x="446.5" y="516" font-size="3.7" text-anchor="end" fill="#555">0</text>
<text x="446.5" y="520.7" font-size="3.7" text-anchor="end" fill="#555">-0.2</text>
<text x="446.5" y="525.4" font-size="3.7" text-anchor="end" fill="#555">-0.4</text>
<text x="446.5" y="530.1" font-size="3.7" text-anchor="end" fill="#555">-0.6</text>
<polyline points="447.7,514.7 448.14,514.38 448.58,514.11 449.02,513.88 449.46,513.7 449.9,513.58 450.34,513.53 450.78,513.54 451.22,513.6 451.66,513.71 452.1,513.85 452.54,514.02 452.98,514.2 453.42,514.38 453.86,514.56 454.3,514.76 454.74,514.99 455.18,515.25 455.62,515.53 456.06,515.83 456.5,516.15 456.94,516.49 457.38,516.83 457.82,517.19 458.26,517.56 458.7,517.94 459.14,518.31 459.58,518.69 460.02,519.07 460.46,519.44 460.9,519.81 461.34,520.17 461.78,520.52 462.22,520.85 462.66,521.17 463.1,521.47 463.54,521.75 463.98,522.02 464.42,522.28 464.86,522.55 465.3,522.81 465.74,523.07 466.18,523.33 466.62,523.58 467.06,523.83 467.5,524.08 467.94,524.33 468.38,524.57 468.82,524.81 469.26,525.05 469.7,525.28 470.14,525.51 470.58,525.73 471.02,525.95 471.46,526.16 471.9,526.37 472.34,526.58 472.78,526.78 473.22,526.97 473.66,527.16 474.1,527.35 474.54,527.52 474.98,527.69 475.42,527.86 475.86,528.03 476.3,528.2 476.74,528.37 477.18,528.55 477.62,528.73 478.06,528.9 478.5,529.07 478.94,529.23 479.38,529.38 479.82,529.52 480.26,529.64 480.7,529.75 481.14,529.84 481.58,529.91 482.02,529.96 482.46,529.97 482.9,529.93 483.34,529.74 483.78,529.45 484.22,529.09 484.66,528.66 485.1,527.93 485.54,526.91 485.98,525.67 486.42,524.19 486.86,522.2 487.3,519.87" fill="none" stroke="#5ae65a" stroke-width="0.85"/>
<path d="M448.77 529.9V536.4M451.22 529.9V536.4M463.38 529.9V536.4M468.14 529.9V536.4M473.99 529.9V536.4M482.06 529.9V536.4" stroke="#b4b4b4" stroke-width="0.5" fill="none"/>
<path d="M453.32 529.9V536.4M457.44 529.9V536.4M485.85 529.9V536.4" stroke="#8c8c8c" stroke-width="0.5" fill="none"/>
<path d="M479.69 529.9V536.4" stroke="#646464" stroke-width="0.5" fill="none"/>
<path d="M450.28 529.9V536.4M462.24 529.9V536.4M464.86 529.9V536.4M469.84 529.9V536.4" stroke="#3c3c3c" stroke-width="0.5" fill="none"/>
<path d="M456.76 529.9V536.4M465.64 529.9V536.4M472.92 529.9V536.4M475.37 529.9V536.4M481.41 529.9V536.4" stroke="#1e1e1e" stroke-width="0.5" fill="none"/>
<path d="M455.32 529.9V536.4M459.6 529.9V536.4M460.79 529.9V536.4M467.03 529.9V536.4M471.07 529.9V536.4M472.23 529.9V536.4M476.51 529.9V536.4M477.11 529.9V536.4M478.06 529.9V536.4M478.92 529.9V536.4M480.61 529.9V536.4M482.87 529.9V536.4M483.61 529.9V536.4M484.52 529.9V536.4M485.16 529.9V536.4M486.76 529.9V536.4" stroke="#000000" stroke-width="0.5" fill="none"/>
<linearGradient id="g10" x1="0" x2="1" y1="0" y2="0"><stop offset="0" stop-color="#e03a3a"/><stop offset="0.2" stop-color="#e45050"/><stop offset="0.23" stop-color="#eab0cc"/><stop offset="0.6" stop-color="#f0c8dc"/><stop offset="0.64" stop-color="#dcdcf4"/><stop offset="0.82" stop-color="#c0c0ee"/><stop offset="0.85" stop-color="#3535c8"/><stop offset="1" stop-color="#2a2ac4"/></linearGradient>
<rect x="447.1" y="536.4" width="40.8" height="1.7" fill="url(#g10)"/>
<text x="438.3" y="546.3" font-size="6.4" text-anchor="middle" font-weight="bold" fill="#111">INFLAMMATORY_RESPONSE</text>
<text x="414.5" y="554.9" font-size="4.45" text-anchor="middle" fill="#444">Enrichment plot</text>
<text x="414.5" y="560.3" font-size="4.45" text-anchor="middle" fill="#444">upon shCEMIP#1</text>
<rect x="393.6" y="561.8" width="41.8" height="17.6" fill="#fff" stroke="#d0d0d0" stroke-width="0.4"/>
<path d="M393.6 568.63H435.4M393.6 573.46H435.4M393.6 578.29H435.4M401.96 561.8V579.4M410.32 561.8V579.4M418.68 561.8V579.4M427.04 561.8V579.4" stroke="#ececec" stroke-width="0.4" fill="none"/>
<text x="393" y="565.1" font-size="3.7" text-anchor="end" fill="#555">0</text>
<text x="393" y="569.93" font-size="3.7" text-anchor="end" fill="#555">-0.2</text>
<text x="393" y="574.76" font-size="3.7" text-anchor="end" fill="#555">-0.4</text>
<text x="393" y="579.59" font-size="3.7" text-anchor="end" fill="#555">-0.6</text>
<polyline points="394.2,563.8 394.65,563.64 395.1,563.5 395.55,563.39 396,563.33 396.46,563.32 396.91,563.34 397.36,563.37 397.81,563.41 398.26,563.47 398.71,563.53 399.16,563.6 399.61,563.68 400.06,563.76 400.52,563.85 400.97,563.96 401.42,564.11 401.87,564.29 402.32,564.5 402.77,564.73 403.22,564.98 403.67,565.25 404.12,565.55 404.58,565.85 405.03,566.17 405.48,566.5 405.93,566.84 406.38,567.18 406.83,567.52 407.28,567.87 407.73,568.21 408.18,568.55 408.64,568.88 409.09,569.2 409.54,569.51 409.99,569.8 410.44,570.08 410.89,570.35 411.34,570.62 411.79,570.9 412.24,571.19 412.7,571.47 413.15,571.76 413.6,572.04 414.05,572.33 414.5,572.61 414.95,572.89 415.4,573.17 415.85,573.45 416.3,573.72 416.76,573.98 417.21,574.24 417.66,574.49 418.11,574.73 418.56,574.96 419.01,575.19 419.46,575.4 419.91,575.6 420.36,575.79 420.82,575.96 421.27,576.14 421.72,576.33 422.17,576.51 422.62,576.69 423.07,576.88 423.52,577.06 423.97,577.23 424.42,577.39 424.88,577.55 425.33,577.7 425.78,577.83 426.23,577.95 426.68,578.06 427.13,578.15 427.58,578.22 428.03,578.26 428.48,578.29 428.94,578.27 429.39,578.15 429.84,577.92 430.29,577.6 430.74,577.2 431.19,576.75 431.64,576.25 432.09,575.5 432.54,574.43 433,573.1 433.45,571.55 433.9,569.62 434.35,566.94 434.8,563.8" fill="none" stroke="#5ae65a" stroke-width="0.85"/>
<path d="M395.11 579.4V585.9M398.78 579.4V585.9M399.67 579.4V585.9" stroke="#c8c8c8" stroke-width="0.5" fill="none"/>
<path d="M397.37 579.4V585.9M405.01 579.4V585.9" stroke="#b4b4b4" stroke-width="0.5" fill="none"/>
<path d="M406.97 579.4V585.9M409.56 579.4V585.9M411.15 579.4V585.9M420.59 579.4V585.9M421.22 579.4V585.9" stroke="#8c8c8c" stroke-width="0.5" fill="none"/>
<path d="M401.08 579.4V585.9M415.78 579.4V585.9M417.29 579.4V585.9M418.75 579.4V585.9M422.03 579.4V585.9" stroke="#646464" stroke-width="0.5" fill="none"/>
<path d="M407.58 579.4V585.9M416.37 579.4V585.9M427.62 579.4V585.9" stroke="#3c3c3c" stroke-width="0.5" fill="none"/>
<path d="M419.54 579.4V585.9" stroke="#1e1e1e" stroke-width="0.5" fill="none"/>
<path d="M403.02 579.4V585.9M404.31 579.4V585.9M411.91 579.4V585.9M413.54 579.4V585.9M414.17 579.4V585.9M423.47 579.4V585.9M424.23 579.4V585.9M425.01 579.4V585.9M425.65 579.4V585.9M426.48 579.4V585.9M427.03 579.4V585.9M428.44 579.4V585.9M429.11 579.4V585.9M429.71 579.4V585.9M430.5 579.4V585.9M431.44 579.4V585.9M432.4 579.4V585.9M433.04 579.4V585.9M433.91 579.4V585.9M434.62 579.4V585.9" stroke="#000000" stroke-width="0.5" fill="none"/>
<linearGradient id="g11" x1="0" x2="1" y1="0" y2="0"><stop offset="0" stop-color="#e03a3a"/><stop offset="0.2" stop-color="#e45050"/><stop offset="0.23" stop-color="#eab0cc"/><stop offset="0.6" stop-color="#f0c8dc"/><stop offset="0.64" stop-color="#dcdcf4"/><stop offset="0.82" stop-color="#c0c0ee"/><stop offset="0.85" stop-color="#3535c8"/><stop offset="1" stop-color="#2a2ac4"/></linearGradient>
<rect x="393.6" y="585.9" width="41.8" height="1.7" fill="url(#g11)"/>
<text x="467.55" y="554.9" font-size="4.45" text-anchor="middle" fill="#444">Enrichment plot</text>
<text x="467.55" y="560.3" font-size="4.45" text-anchor="middle" fill="#444">upon shCEMIP#2</text>
<rect x="446.9" y="562.3" width="41.3" height="17.3" fill="#fff" stroke="#d0d0d0" stroke-width="0.4"/>
<path d="M446.9 570.4H488.2M446.9 574.8H488.2M446.9 579.2H488.2M455.16 562.3V579.6M463.42 562.3V579.6M471.68 562.3V579.6M479.94 562.3V579.6" stroke="#ececec" stroke-width="0.4" fill="none"/>
<text x="446.3" y="567.3" font-size="3.7" text-anchor="end" fill="#555">0</text>
<text x="446.3" y="571.7" font-size="3.7" text-anchor="end" fill="#555">-0.1</text>
<text x="446.3" y="576.1" font-size="3.7" text-anchor="end" fill="#555">-0.2</text>
<text x="446.3" y="580.5" font-size="3.7" text-anchor="end" fill="#555">-0.3</text>
<polyline points="447.5,562.92 447.95,562.92 448.39,562.92 448.84,562.92 449.28,562.92 449.73,562.92 450.17,562.92 450.62,562.92 451.06,562.94 451.51,563 451.96,563.11 452.4,563.25 452.85,563.42 453.29,563.62 453.74,563.83 454.18,564.05 454.63,564.26 455.07,564.48 455.52,564.68 455.97,564.88 456.41,565.09 456.86,565.31 457.3,565.54 457.75,565.78 458.19,566.02 458.64,566.27 459.08,566.53 459.53,566.79 459.98,567.06 460.42,567.33 460.87,567.6 461.31,567.88 461.76,568.15 462.2,568.43 462.65,568.7 463.09,568.97 463.54,569.24 463.99,569.51 464.43,569.77 464.88,570.03 465.32,570.28 465.77,570.52 466.21,570.77 466.66,571.01 467.1,571.26 467.55,571.51 468,571.75 468.44,572 468.89,572.24 469.33,572.49 469.78,572.73 470.22,572.97 470.67,573.21 471.11,573.45 471.56,573.69 472.01,573.92 472.45,574.15 472.9,574.38 473.34,574.61 473.79,574.83 474.23,575.05 474.68,575.26 475.12,575.47 475.57,575.68 476.02,575.89 476.46,576.12 476.91,576.36 477.35,576.6 477.8,576.85 478.24,577.09 478.69,577.32 479.13,577.54 479.58,577.74 480.03,577.92 480.47,578.07 480.92,578.19 481.36,578.28 481.81,578.32 482.25,578.3 482.7,578.18 483.14,577.97 483.59,577.68 484.04,577.32 484.48,576.9 484.93,576.09 485.37,574.86 485.82,573.36 486.26,571.75 486.71,570.09 487.15,568.15 487.6,566" fill="none" stroke="#5ae65a" stroke-width="0.85"/>
<path d="M448.44 579.6V586.1" stroke="#c8c8c8" stroke-width="0.5" fill="none"/>
<path d="M453.04 579.6V586.1M461 579.6V586.1M464.87 579.6V586.1M468.21 579.6V586.1" stroke="#b4b4b4" stroke-width="0.5" fill="none"/>
<path d="M451.59 579.6V586.1M475.54 579.6V586.1" stroke="#8c8c8c" stroke-width="0.5" fill="none"/>
<path d="M450.31 579.6V586.1M454.83 579.6V586.1M461.84 579.6V586.1M469.83 579.6V586.1M474.48 579.6V586.1M484.03 579.6V586.1" stroke="#646464" stroke-width="0.5" fill="none"/>
<path d="M470.63 579.6V586.1M478.08 579.6V586.1M482.66 579.6V586.1" stroke="#3c3c3c" stroke-width="0.5" fill="none"/>
<path d="M459.57 579.6V586.1M463.38 579.6V586.1M481.57 579.6V586.1" stroke="#1e1e1e" stroke-width="0.5" fill="none"/>
<path d="M455.77 579.6V586.1M457.43 579.6V586.1M460.36 579.6V586.1M466.52 579.6V586.1M472.2 579.6V586.1M473.41 579.6V586.1M476.86 579.6V586.1M479.14 579.6V586.1M479.97 579.6V586.1M480.58 579.6V586.1M483.27 579.6V586.1M484.84 579.6V586.1M485.81 579.6V586.1M486.46 579.6V586.1M487.09 579.6V586.1" stroke="#000000" stroke-width="0.5" fill="none"/>
<linearGradient id="g12" x1="0" x2="1" y1="0" y2="0"><stop offset="0" stop-color="#e03a3a"/><stop offset="0.2" stop-color="#e45050"/><stop offset="0.23" stop-color="#eab0cc"/><stop offset="0.6" stop-color="#f0c8dc"/><stop offset="0.64" stop-color="#dcdcf4"/><stop offset="0.82" stop-color="#c0c0ee"/><stop offset="0.85" stop-color="#3535c8"/><stop offset="1" stop-color="#2a2ac4"/></linearGradient>
<rect x="446.9" y="586.1" width="41.3" height="1.7" fill="url(#g12)"/>
<text x="436.7" y="595" font-size="6.4" text-anchor="middle" font-weight="bold" fill="#111">IL6_JAK_STAT3_SIGNALING</text>
<text x="414.5" y="601.8" font-size="4.45" text-anchor="middle" fill="#444">Enrichment plot</text>
<text x="414.5" y="607.1" font-size="4.45" text-anchor="middle" fill="#444">upon shCEMIP#1</text>
<rect x="393.6" y="610" width="41.8" height="17.6" fill="#fff" stroke="#d0d0d0" stroke-width="0.4"/>
<path d="M393.6 615.73H435.4M393.6 620.56H435.4M393.6 625.39H435.4M401.96 610V627.6M410.32 610V627.6M418.68 610V627.6M427.04 610V627.6" stroke="#ececec" stroke-width="0.4" fill="none"/>
<text x="393" y="612.2" font-size="3.7" text-anchor="end" fill="#555">0</text>
<text x="393" y="617.03" font-size="3.7" text-anchor="end" fill="#555">-0.2</text>
<text x="393" y="621.86" font-size="3.7" text-anchor="end" fill="#555">-0.4</text>
<text x="393" y="626.69" font-size="3.7" text-anchor="end" fill="#555">-0.6</text>
<polyline points="394.2,610.9 394.65,610.99 395.1,611.08 395.55,611.18 396,611.29 396.46,611.4 396.91,611.52 397.36,611.65 397.81,611.77 398.26,611.91 398.71,612.05 399.16,612.19 399.61,612.34 400.06,612.5 400.52,612.65 400.97,612.81 401.42,612.98 401.87,613.14 402.32,613.31 402.77,613.49 403.22,613.69 403.67,613.89 404.12,614.11 404.58,614.34 405.03,614.57 405.48,614.82 405.93,615.07 406.38,615.33 406.83,615.6 407.28,615.86 407.73,616.13 408.18,616.41 408.64,616.68 409.09,616.95 409.54,617.22 409.99,617.49 410.44,617.75 410.89,618.01 411.34,618.27 411.79,618.51 412.24,618.75 412.7,618.98 413.15,619.22 413.6,619.45 414.05,619.69 414.5,619.93 414.95,620.16 415.4,620.4 415.85,620.64 416.3,620.88 416.76,621.11 417.21,621.34 417.66,621.57 418.11,621.79 418.56,622.01 419.01,622.23 419.46,622.44 419.91,622.64 420.36,622.84 420.82,623.03 421.27,623.21 421.72,623.38 422.17,623.55 422.62,623.7 423.07,623.85 423.52,624.01 423.97,624.17 424.42,624.33 424.88,624.49 425.33,624.64 425.78,624.78 426.23,624.92 426.68,625.04 427.13,625.15 427.58,625.24 428.03,625.31 428.48,625.36 428.94,625.39 429.39,625.36 429.84,625.17 430.29,624.84 430.74,624.41 431.19,623.9 431.64,623.34 432.09,622.56 432.54,621.5 433,620.18 433.45,618.65 433.9,616.72 434.35,614.04 434.8,610.9" fill="none" stroke="#5ae65a" stroke-width="0.85"/>
<path d="M399.69 627.6V634.1" stroke="#c8c8c8" stroke-width="0.5" fill="none"/>
<path d="M407.25 627.6V634.1M408.02 627.6V634.1M409.73 627.6V634.1M415.9 627.6V634.1M420.25 627.6V634.1M431.81 627.6V634.1" stroke="#b4b4b4" stroke-width="0.5" fill="none"/>
<path d="M401.76 627.6V634.1M403.58 627.6V634.1M419.58 627.6V634.1M421.37 627.6V634.1M422.83 627.6V634.1M424.43 627.6V634.1" stroke="#8c8c8c" stroke-width="0.5" fill="none"/>
<path d="M394.82 627.6V634.1M396.68 627.6V634.1M398.9 627.6V634.1M423.77 627.6V634.1" stroke="#646464" stroke-width="0.5" fill="none"/>
<path d="M402.82 627.6V634.1M410.65 627.6V634.1M417.08 627.6V634.1M418.37 627.6V634.1M427.73 627.6V634.1M429.28 627.6V634.1" stroke="#3c3c3c" stroke-width="0.5" fill="none"/>
<path d="M413.79 627.6V634.1" stroke="#1e1e1e" stroke-width="0.5" fill="none"/>
<path d="M405.13 627.6V634.1M412.21 627.6V634.1M414.77 627.6V634.1M425.4 627.6V634.1M426.35 627.6V634.1M427.09 627.6V634.1M428.65 627.6V634.1M430.4 627.6V634.1M431.19 627.6V634.1M432.58 627.6V634.1M433.33 627.6V634.1M434.21 627.6V634.1" stroke="#000000" stroke-width="0.5" fill="none"/>
<linearGradient id="g13" x1="0" x2="1" y1="0" y2="0"><stop offset="0" stop-color="#e03a3a"/><stop offset="0.2" stop-color="#e45050"/><stop offset="0.23" stop-color="#eab0cc"/><stop offset="0.6" stop-color="#f0c8dc"/><stop offset="0.64" stop-color="#dcdcf4"/><stop offset="0.82" stop-color="#c0c0ee"/><stop offset="0.85" stop-color="#3535c8"/><stop offset="1" stop-color="#2a2ac4"/></linearGradient>
<rect x="393.6" y="634.1" width="41.8" height="1.7" fill="url(#g13)"/>
<text x="467.4" y="601.8" font-size="4.45" text-anchor="middle" fill="#444">Enrichment plot</text>
<text x="467.4" y="607.1" font-size="4.45" text-anchor="middle" fill="#444">upon shCEMIP#2</text>
<rect x="446.9" y="608" width="41" height="19.4" fill="#fff" stroke="#d0d0d0" stroke-width="0.4"/>
<path d="M446.9 615.6H487.9M446.9 621.1H487.9M446.9 626.6H487.9M455.1 608V627.4M463.3 608V627.4M471.5 608V627.4M479.7 608V627.4" stroke="#ececec" stroke-width="0.4" fill="none"/>
<text x="446.3" y="611.4" font-size="3.7" text-anchor="end" fill="#555">0</text>
<text x="446.3" y="616.9" font-size="3.7" text-anchor="end" fill="#555">-0.2</text>
<text x="446.3" y="622.4" font-size="3.7" text-anchor="end" fill="#555">-0.4</text>
<text x="446.3" y="627.9" font-size="3.7" text-anchor="end" fill="#555">-0.6</text>
<polyline points="447.5,610.1 447.94,609.86 448.38,609.64 448.83,609.47 449.27,609.34 449.71,609.28 450.15,609.28 450.6,609.32 451.04,609.4 451.48,609.49 451.92,609.61 452.36,609.74 452.81,609.89 453.25,610.03 453.69,610.17 454.13,610.34 454.58,610.54 455.02,610.75 455.46,610.99 455.9,611.25 456.34,611.52 456.79,611.81 457.23,612.12 457.67,612.44 458.11,612.76 458.56,613.1 459,613.43 459.44,613.78 459.88,614.12 460.32,614.47 460.77,614.81 461.21,615.15 461.65,615.48 462.09,615.8 462.54,616.11 462.98,616.41 463.42,616.7 463.86,616.98 464.3,617.26 464.75,617.54 465.19,617.83 465.63,618.11 466.07,618.4 466.52,618.68 466.96,618.96 467.4,619.25 467.84,619.53 468.28,619.81 468.73,620.09 469.17,620.37 469.61,620.64 470.05,620.92 470.5,621.18 470.94,621.45 471.38,621.71 471.82,621.97 472.26,622.22 472.71,622.47 473.15,622.72 473.59,622.96 474.03,623.19 474.48,623.42 474.92,623.64 475.36,623.85 475.8,624.07 476.24,624.3 476.69,624.53 477.13,624.77 477.57,625.02 478.01,625.25 478.46,625.48 478.9,625.7 479.34,625.91 479.78,626.09 480.22,626.25 480.67,626.39 481.11,626.49 481.55,626.57 481.99,626.6 482.44,626.26 482.88,625.05 483.32,623.85 483.76,623.08 484.2,622.44 484.65,621.83 485.09,621.12 485.53,620.19 485.97,618.78 486.42,616.46 486.86,613.46 487.3,610.1" fill="none" stroke="#5ae65a" stroke-width="0.85"/>
<path d="M447.88 627.4V633.9" stroke="#c8c8c8" stroke-width="0.5" fill="none"/>
<path d="M459.36 627.4V633.9" stroke="#b4b4b4" stroke-width="0.5" fill="none"/>
<path d="M450.32 627.4V633.9M452.27 627.4V633.9M454.16 627.4V633.9M464.68 627.4V633.9M467.15 627.4V633.9M476.31 627.4V633.9M477.34 627.4V633.9" stroke="#8c8c8c" stroke-width="0.5" fill="none"/>
<path d="M482.9 627.4V633.9M485.2 627.4V633.9" stroke="#646464" stroke-width="0.5" fill="none"/>
<path d="M455.5 627.4V633.9M457.21 627.4V633.9M472.65 627.4V633.9M473.59 627.4V633.9" stroke="#3c3c3c" stroke-width="0.5" fill="none"/>
<path d="M461.29 627.4V633.9M463.02 627.4V633.9" stroke="#1e1e1e" stroke-width="0.5" fill="none"/>
<path d="M458.4 627.4V633.9M465.91 627.4V633.9M468.04 627.4V633.9M469.35 627.4V633.9M470.57 627.4V633.9M471.21 627.4V633.9M474.99 627.4V633.9M478.03 627.4V633.9M478.95 627.4V633.9M479.83 627.4V633.9M480.57 627.4V633.9M481.66 627.4V633.9M482.28 627.4V633.9M483.68 627.4V633.9M484.44 627.4V633.9M485.87 627.4V633.9M486.8 627.4V633.9M487.4 627.4V633.9" stroke="#000000" stroke-width="0.5" fill="none"/>
<linearGradient id="g14" x1="0" x2="1" y1="0" y2="0"><stop offset="0" stop-color="#e03a3a"/><stop offset="0.2" stop-color="#e45050"/><stop offset="0.23" stop-color="#eab0cc"/><stop offset="0.6" stop-color="#f0c8dc"/><stop offset="0.64" stop-color="#dcdcf4"/><stop offset="0.82" stop-color="#c0c0ee"/><stop offset="0.85" stop-color="#3535c8"/><stop offset="1" stop-color="#2a2ac4"/></linearGradient>
<rect x="446.9" y="633.9" width="41" height="1.7" fill="url(#g14)"/>
</svg></body></html>
